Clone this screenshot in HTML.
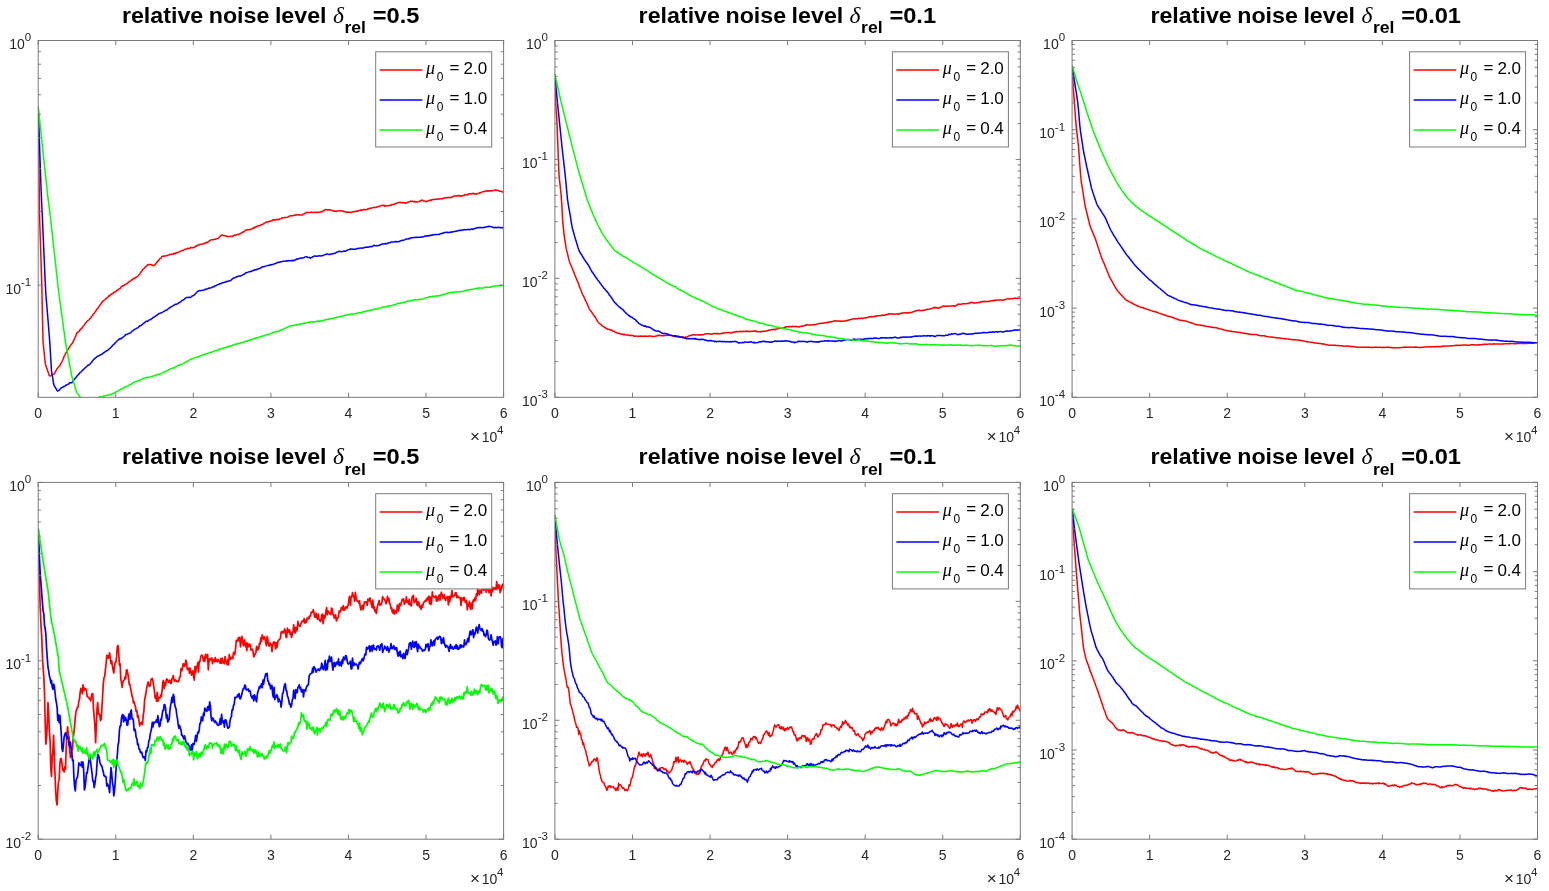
<!DOCTYPE html>
<html><head><meta charset="utf-8"><style>
html,body{margin:0;padding:0;background:#fff;overflow:hidden}
svg{display:block}
.tl{font-family:"Liberation Sans",sans-serif;font-size:14px;fill:#262626}
.tt{font-family:"Liberation Sans",sans-serif;font-size:21.5px;font-weight:bold;fill:#000;word-spacing:-0.9px}
.dl{font-family:"Liberation Serif",serif;font-style:italic;font-weight:normal}
.tt2{fill:#000}
.lg{font-family:"Liberation Sans",sans-serif;font-size:17px;fill:#000}
.mu{font-family:"Liberation Serif",serif;font-style:italic;font-size:18px;fill:#000}
</style></head><body>
<svg width="1549" height="891" viewBox="0 0 1549 891">
<rect width="1549" height="891" fill="#fff"/>
<clipPath id="c0"><rect x="38.2" y="40.5" width="465.4" height="356.8"/></clipPath>
<g clip-path="url(#c0)" fill="none" stroke-width="1.5" stroke-linejoin="round">
<polyline points="38.2,106.7 38.9,162.35 39.6,218 40.3,239 41,260 41.7,281 42.4,314.7 43.1,342.35 43.8,349.09 44.5,356.01 45.2,363.13 45.9,365.88 46.6,367.8 47.3,369.7 48,371.67 48.7,373.68 49.4,375.78 50.1,375.95 50.8,375.65 51.5,375.31 52.2,374.79 52.9,374.55 53.6,374.11 54.3,374.03 55,372.64 55.7,371.15 56.4,369.83 57.1,368.64 57.8,367.96 58.5,366.84 59.2,366.17 59.9,365.66 60.6,363.91 61.3,362.81 62,361.59 62.7,359.99 63.4,358.26 64.1,356.43 64.8,355.19 65.5,353.82 66.2,352.36 66.9,351.81 67.6,350.2 68.3,348.84 69,347.77 69.7,346.74 70.4,345.87 71.1,344.31 71.8,343.78 72.5,343.09 73.2,341.43 73.9,339.94 74.6,338.48 75.3,336.83 76,335.33 76.7,333.03 77.4,332.64 78.1,331.97 78.8,331.47 79.5,330.86 80.2,329.36 80.9,329.45 81.6,328.21 82.3,327.82 83,326.38 83.7,325.74 84.4,324.96 85.1,323.69 85.8,322.77 86.5,322.02 87.2,321.22 87.9,320.5 88.6,320.18 89.3,319.41 90,318.46 90.7,318.25 91.4,316.5 92.1,316.01 92.8,314.84 93.5,313.99 94.2,313.19 94.9,312.19 95.6,311.38 96.3,310.03 97,309.14 97.7,308.7 98.4,307.41 99.1,306.3 99.8,305.1 100.5,304.58 101.2,303.37 101.9,302.64 102.6,301.41 103.3,300.98 104,300.1 104.7,299.86 105.4,299.4 106.1,298.24 106.8,298.19 107.5,297.52 108.2,296.73 108.9,295.8 109.6,295.96 110.3,295.09 111,294.39 111.7,294.04 112.4,293.56 113.1,293.3 113.8,292.29 114.5,292.27 115.2,291.9 115.9,291.44 116.6,290.65 117.3,290.08 118,290 118.7,289.28 119.4,288.73 120.1,288.44 120.8,287.53 121.5,286.55 122.2,286.39 122.9,285.61 123.6,285.7 124.3,285.17 125,284.57 125.7,284.29 126.4,284.02 127.1,283.29 127.8,282.98 128.5,282.12 129.2,281.78 129.9,281.3 130.6,280.87 131.3,280.02 132,279.98 132.7,279.03 133.4,278.83 134.1,278.27 134.8,278.47 135.5,277.53 136.2,277.34 136.9,276.85 137.6,276.43 138.3,275.72 139,274.89 139.7,274.22 140.4,272.85 141.1,271.95 141.8,271.05 142.5,269.93 143.2,269.03 143.9,268.51 144.6,268.17 145.3,266.92 146,266.47 146.7,265.89 147.4,264.83 148.1,264.55 148.8,264.74 149.5,264.63 150.2,264.37 150.9,264.48 151.6,264.87 152.3,265.39 153,265.28 153.7,265.4 154.4,265.43 155.1,264.39 155.8,263.81 156.5,262.71 157.2,262.15 157.9,260.7 158.6,260.47 159.3,259.55 160,258.56 160.7,258.4 161.4,257.47 162.1,256.34 162.8,256.29 163.5,256.36 164.2,256.02 164.9,256.1 165.6,255.92 166.3,255.72 167,255.45 167.7,255.47 168.4,255.13 169.1,254.89 169.8,254.17 170.5,254.62 171.2,254.56 171.9,254.07 172.6,253.89 173.3,254.25 174,253.32 174.7,253.57 175.4,253.72 176.1,252.77 176.8,252.85 177.5,252.85 178.2,252.18 178.9,252.04 179.6,251.83 180.3,251.16 181,251.05 181.7,250.85 182.4,250.68 183.1,250.24 183.8,249.94 184.5,249.48 185.2,249.32 185.9,249.29 186.6,248.89 187.3,248.49 188,248.29 188.7,248.82 189.4,248.3 190.1,247.99 190.8,247.21 191.5,247.81 192.2,247.7 192.9,247.87 193.6,247.53 194.3,247.3 195,246.99 195.7,246.03 196.4,246.22 197.1,245.64 197.8,244.99 198.5,245.1 199.2,245.06 199.9,244.24 200.6,244.25 201.3,244.31 202,244.14 202.7,243.82 203.4,243.47 204.1,243.89 204.8,243.44 205.5,242.74 206.2,242.48 206.9,242.7 207.6,242.12 208.3,241.87 209,241.24 209.7,240.46 210.4,240.37 211.1,239.74 211.8,239.86 212.5,239.83 213.2,239.78 213.9,239.34 214.6,239.27 215.3,239.19 216,238.98 216.7,238.83 217.4,238.54 218.1,238.22 218.8,237.88 219.5,237.09 220.2,236.28 220.9,235.68 221.6,235.18 222.3,234.96 223,235.23 223.7,235.41 224.4,235.66 225.1,235.81 225.8,235.78 226.5,236.29 227.2,236.49 227.9,236.43 228.6,236.37 229.3,236.58 230,236.36 230.7,236.17 231.4,236.57 232.1,236.34 232.8,236.47 233.5,235.71 234.2,235.01 234.9,235.16 235.6,235.53 236.3,234.93 237,234.54 237.7,234.48 238.4,234.51 239.1,234.15 239.8,233.72 240.5,233.63 241.2,233.11 241.9,232.59 242.6,232.31 243.3,232.09 244,231.51 244.7,231.08 245.4,230.2 246.1,229.95 246.8,229.99 247.5,229.68 248.2,229.88 248.9,229.69 249.6,229.66 250.3,229.3 251,229.56 251.7,228.96 252.4,228.33 253.1,228.07 253.8,228.27 254.5,227.35 255.2,227.32 255.9,227.06 256.6,226.57 257.3,226.04 258,226.04 258.7,225.81 259.4,225.71 260.1,225.38 260.8,224.95 261.5,224.87 262.2,224.54 262.9,224.06 263.6,223.62 264.3,223.14 265,222.97 265.7,222.34 266.4,222.19 267.1,222.14 267.8,221.65 268.5,221.68 269.2,221.16 269.9,221.26 270.6,221.27 271.3,220.98 272,220.55 272.7,220.22 273.4,219.68 274.1,220.06 274.8,219.76 275.5,219.91 276.2,219.51 276.9,219.68 277.6,219.35 278.3,219.88 279,219.63 279.7,218.76 280.4,218.87 281.1,218.74 281.8,217.97 282.5,217.75 283.2,217.77 283.9,217.73 284.6,217.43 285.3,217.59 286,217.5 286.7,217.38 287.4,217.17 288.1,217.11 288.8,216.81 289.5,216.06 290.2,216 290.9,215.76 291.6,215.64 292.3,215.72 293,215.62 293.7,215.59 294.4,215.04 295.1,215 295.8,215.15 296.5,215 297.2,214.87 297.9,214.85 298.6,214.7 299.3,215.05 300,215.03 300.7,214.99 301.4,214.92 302.1,215.08 302.8,214.18 303.5,214.11 304.2,213.89 304.9,213.14 305.6,213.06 306.3,212.67 307,212.28 307.7,212.45 308.4,212.38 309.1,212.47 309.8,212.44 310.5,212.28 311.2,212.15 311.9,212.34 312.6,212.4 313.3,212.61 314,212.56 314.7,212.35 315.4,212.21 316.1,212.41 316.8,212.33 317.5,212.24 318.2,212.45 318.9,212.17 319.6,212.09 320.3,211.98 321,211.58 321.7,211.95 322.4,211.15 323.1,211.1 323.8,210.54 324.5,210.5 325.2,209.56 325.9,209.69 326.6,209.79 327.3,209.84 328,210.17 328.7,209.72 329.4,209.89 330.1,209.75 330.8,210.04 331.5,210.24 332.2,210.4 332.9,210.84 333.6,210.81 334.3,211.53 335,210.99 335.7,211.18 336.4,211.5 337.1,210.93 337.8,210.9 338.5,211.09 339.2,210.85 339.9,210.66 340.6,210.88 341.3,210.94 342,210.95 342.7,210.8 343.4,211.56 344.1,211.76 344.8,211.64 345.5,211.92 346.2,212 346.9,212.43 347.6,212.02 348.3,212.35 349,212.15 349.7,212.14 350.4,212.45 351.1,212.51 351.8,212.17 352.5,211.92 353.2,211.99 353.9,211.57 354.6,211.47 355.3,211.58 356,211.36 356.7,210.87 357.4,211.32 358.1,210.7 358.8,210.73 359.5,210.3 360.2,210.29 360.9,209.8 361.6,210.41 362.3,210.21 363,209.63 363.7,209.53 364.4,209.46 365.1,210.01 365.8,209.63 366.5,209.58 367.2,209.29 367.9,209.09 368.6,208.65 369.3,208.64 370,208.09 370.7,208.19 371.4,208.12 372.1,207.99 372.8,207.68 373.5,207.38 374.2,207.47 374.9,207.23 375.6,207.56 376.3,207.29 377,207 377.7,206.82 378.4,206.61 379.1,206.25 379.8,206.07 380.5,205.9 381.2,205.64 381.9,205.34 382.6,205.63 383.3,205.2 384,205.51 384.7,206.26 385.4,205.45 386.1,205.89 386.8,205.94 387.5,205.8 388.2,205.72 388.9,205.45 389.6,205.44 390.3,205.23 391,205.24 391.7,204.53 392.4,204.59 393.1,204.63 393.8,204.27 394.5,204.04 395.2,204.05 395.9,203.43 396.6,203.36 397.3,203.04 398,202.61 398.7,202.57 399.4,202.46 400.1,202.2 400.8,202.51 401.5,202.67 402.2,202.52 402.9,202.68 403.6,202.92 404.3,202.65 405,203.04 405.7,203.36 406.4,202.81 407.1,202.64 407.8,202.26 408.5,202.29 409.2,201.71 409.9,201.51 410.6,201.09 411.3,201.32 412,201.4 412.7,201.11 413.4,201.87 414.1,201.84 414.8,201.34 415.5,201.9 416.2,201.76 416.9,201.93 417.6,201.95 418.3,201.56 419,201.54 419.7,201.61 420.4,200.88 421.1,200.5 421.8,200.13 422.5,200.09 423.2,200.62 423.9,201.11 424.6,201.05 425.3,201.22 426,201.84 426.7,201.2 427.4,201 428.1,201.06 428.8,200.87 429.5,200.33 430.2,200.1 430.9,200.23 431.6,200.05 432.3,199.56 433,199.62 433.7,199.38 434.4,199.45 435.1,199.27 435.8,199.22 436.5,199.1 437.2,199.34 437.9,199.35 438.6,198.92 439.3,199.1 440,198.69 440.7,198.79 441.4,198.86 442.1,198.95 442.8,198.41 443.5,198.32 444.2,198.22 444.9,197.71 445.6,197.87 446.3,197.6 447,197.81 447.7,197.49 448.4,197.3 449.1,197.72 449.8,197.76 450.5,197.47 451.2,197.49 451.9,196.98 452.6,196.63 453.3,196.58 454,195.88 454.7,195.93 455.4,195.99 456.1,196.09 456.8,195.79 457.5,195.81 458.2,195.52 458.9,195.75 459.6,196.07 460.3,195.61 461,196.28 461.7,195.68 462.4,195.78 463.1,195.61 463.8,195.59 464.5,194.91 465.2,194.53 465.9,194.89 466.6,194.73 467.3,194.51 468,194.73 468.7,194.03 469.4,193.85 470.1,193.8 470.8,193.71 471.5,194.05 472.2,193.51 472.9,193.75 473.6,193.17 474.3,194.12 475,193.81 475.7,194.02 476.4,194.23 477.1,193.71 477.8,193.6 478.5,193.4 479.2,193.04 479.9,192.79 480.6,192.77 481.3,192.36 482,192.08 482.7,191.8 483.4,191.84 484.1,191.55 484.8,191.22 485.5,191.19 486.2,190.82 486.9,190.62 487.6,191.18 488.3,190.98 489,190.69 489.7,191.13 490.4,190.95 491.1,190.43 491.8,190.99 492.5,190.61 493.2,190.62 493.9,190.36 494.6,190.17 495.3,189.79 496,190.41 496.7,190.31 497.4,190.34 498.1,190.56 498.8,190.75 499.5,191.15 500.2,191.19 500.9,191.53 501.6,191.36 502.3,191.94 503,192.04 503.6,192.08" stroke="#ff0000"/>
<polyline points="38.2,106.7 38.9,126.86 39.6,147.03 40.3,167.19 41,187.36 41.7,204 42.4,218 43.1,233.75 43.8,249.63 44.5,265.71 45.2,281.37 45.9,294.77 46.6,302.89 47.3,311.68 48,319.85 48.7,328.6 49.4,337.34 50.1,347.39 50.8,359.78 51.5,370.89 52.2,375.01 52.9,379.14 53.6,383.86 54.3,385.96 55,386.79 55.7,388.36 56.4,389.05 57.1,390.68 57.8,391.07 58.5,390.68 59.2,390.24 59.9,389.4 60.6,388.51 61.3,387.82 62,387.7 62.7,387.22 63.4,386.61 64.1,386.56 64.8,386.15 65.5,385.84 66.2,384.99 66.9,384.75 67.6,384.55 68.3,384.11 69,383.72 69.7,382.73 70.4,382.84 71.1,382.72 71.8,382.89 72.5,381.47 73.2,380.76 73.9,380.01 74.6,379.29 75.3,378.15 76,377.52 76.7,376.28 77.4,375.69 78.1,374.79 78.8,374.17 79.5,373.29 80.2,372.4 80.9,372.14 81.6,371.28 82.3,370.4 83,369.87 83.7,369.34 84.4,368.34 85.1,367.82 85.8,367.27 86.5,366.71 87.2,366.05 87.9,365.24 88.6,365.31 89.3,364.65 90,364.09 90.7,363.28 91.4,362.53 92.1,361.56 92.8,360.61 93.5,359.82 94.2,358.99 94.9,358.39 95.6,357.7 96.3,357.41 97,356.47 97.7,356.35 98.4,355.67 99.1,355.58 99.8,355.42 100.5,354.88 101.2,354.38 101.9,354.19 102.6,353.75 103.3,352.88 104,352.54 104.7,352.13 105.4,351.48 106.1,351.03 106.8,350.82 107.5,350.49 108.2,349.93 108.9,349.28 109.6,348.55 110.3,347.99 111,347.25 111.7,346.54 112.4,345.86 113.1,344.89 113.8,344.43 114.5,343.75 115.2,342.81 115.9,342.21 116.6,341.53 117.3,340.64 118,340.41 118.7,339.19 119.4,339.25 120.1,338.61 120.8,338.74 121.5,338.67 122.2,337.4 122.9,337.27 123.6,336.75 124.3,336.02 125,335.58 125.7,334.5 126.4,334.55 127.1,334.22 127.8,333.91 128.5,333.56 129.2,333.53 129.9,333.09 130.6,332.76 131.3,332.03 132,331.12 132.7,330.9 133.4,330.33 134.1,329.82 134.8,329.14 135.5,328.93 136.2,328.66 136.9,328.13 137.6,327.87 138.3,327.55 139,326.53 139.7,325.85 140.4,325.84 141.1,325.45 141.8,324.84 142.5,324.32 143.2,323.56 143.9,323.05 144.6,322.82 145.3,322.01 146,321.35 146.7,321.11 147.4,321.4 148.1,320.98 148.8,320.2 149.5,319.87 150.2,319.72 150.9,319.06 151.6,318.94 152.3,318.22 153,317.56 153.7,317.49 154.4,316.69 155.1,316.37 155.8,315.87 156.5,315.35 157.2,315.01 157.9,314.37 158.6,313.77 159.3,313.36 160,313.18 160.7,312.92 161.4,312.7 162.1,312.37 162.8,312.11 163.5,311.7 164.2,311.2 164.9,310.87 165.6,310.29 166.3,310.26 167,309.83 167.7,309.29 168.4,308.63 169.1,308.08 169.8,307.72 170.5,307.08 171.2,306.82 171.9,306.4 172.6,305.94 173.3,305.75 174,305.06 174.7,304.77 175.4,304.37 176.1,304.06 176.8,304.15 177.5,303.87 178.2,303.25 178.9,302.88 179.6,302.53 180.3,302 181,301.61 181.7,300.71 182.4,300.35 183.1,300.03 183.8,299.69 184.5,298.95 185.2,298.27 185.9,297.85 186.6,297.53 187.3,297.41 188,297.73 188.7,297.27 189.4,297.3 190.1,297.58 190.8,297.05 191.5,296.49 192.2,295.92 192.9,295.69 193.6,295.49 194.3,294.87 195,294.26 195.7,293.34 196.4,292.7 197.1,291.86 197.8,291.33 198.5,291.11 199.2,290.54 199.9,290.69 200.6,290.64 201.3,290.41 202,290.36 202.7,290.37 203.4,290.38 204.1,289.92 204.8,289.66 205.5,289.12 206.2,289.52 206.9,288.99 207.6,288.77 208.3,288.37 209,288.35 209.7,287.97 210.4,287.95 211.1,287.75 211.8,287.4 212.5,287.17 213.2,286.71 213.9,286.83 214.6,286.17 215.3,285.64 216,285.61 216.7,285.19 217.4,284.82 218.1,284.62 218.8,284.42 219.5,283.85 220.2,283.73 220.9,283.69 221.6,283.25 222.3,282.82 223,282.71 223.7,282.51 224.4,282.36 225.1,282.3 225.8,281.96 226.5,281.35 227.2,281.55 227.9,281.18 228.6,281.23 229.3,280.8 230,280.71 230.7,280.68 231.4,279.66 232.1,279.19 232.8,278.68 233.5,278.05 234.2,277.69 234.9,277.79 235.6,277.33 236.3,276.83 237,276.62 237.7,276.7 238.4,276.19 239.1,276.05 239.8,275.97 240.5,275.93 241.2,275.83 241.9,275.46 242.6,274.96 243.3,274.53 244,274.37 244.7,273.86 245.4,273.12 246.1,272.81 246.8,272.59 247.5,272.39 248.2,272.13 248.9,271.83 249.6,271.81 250.3,271.46 251,271.64 251.7,271.21 252.4,270.61 253.1,270.76 253.8,270.37 254.5,269.61 255.2,270.05 255.9,269.65 256.6,269.65 257.3,268.92 258,269.08 258.7,268.81 259.4,268.47 260.1,268.16 260.8,268.02 261.5,267.27 262.2,267.01 262.9,266.76 263.6,266.68 264.3,266.45 265,266.39 265.7,266.15 266.4,265.9 267.1,265.6 267.8,265.47 268.5,265.54 269.2,265.34 269.9,265.05 270.6,264.8 271.3,264.94 272,264.38 272.7,264.42 273.4,264.32 274.1,263.89 274.8,263.83 275.5,263.23 276.2,263.34 276.9,262.94 277.6,262.37 278.3,262.52 279,262.09 279.7,262.31 280.4,261.81 281.1,261.75 281.8,261.67 282.5,261.4 283.2,261.35 283.9,261.11 284.6,261.27 285.3,261.11 286,261.1 286.7,260.52 287.4,261.14 288.1,260.87 288.8,260.48 289.5,260.74 290.2,260.74 290.9,260.78 291.6,260.34 292.3,260.74 293,260.38 293.7,260.76 294.4,260.19 295.1,260.03 295.8,259.55 296.5,259.12 297.2,259.2 297.9,258.87 298.6,258.81 299.3,258.62 300,258.29 300.7,258.03 301.4,258.13 302.1,258.05 302.8,257.78 303.5,257.76 304.2,257.45 304.9,257.08 305.6,256.89 306.3,256.64 307,256.95 307.7,257.28 308.4,257.56 309.1,257.51 309.8,257.61 310.5,258.13 311.2,257.59 311.9,257.45 312.6,256.66 313.3,256.58 314,256.33 314.7,255.95 315.4,256.07 316.1,256.23 316.8,256.25 317.5,256.29 318.2,255.81 318.9,255.65 319.6,255.93 320.3,255.94 321,255.75 321.7,255.43 322.4,255.68 323.1,255.43 323.8,255.14 324.5,254.7 325.2,254.59 325.9,254.42 326.6,254.1 327.3,253.92 328,254.34 328.7,254.4 329.4,254.36 330.1,254.51 330.8,254.08 331.5,253.97 332.2,253.73 332.9,253.68 333.6,253.66 334.3,253.13 335,253.23 335.7,252.83 336.4,252.4 337.1,252.07 337.8,251.97 338.5,251.46 339.2,251.48 339.9,251.32 340.6,251.6 341.3,251.76 342,251.62 342.7,251.54 343.4,251.34 344.1,251.32 344.8,250.95 345.5,251.29 346.2,250.95 346.9,250.43 347.6,250.12 348.3,249.75 349,249.69 349.7,249.37 350.4,248.71 351.1,249.21 351.8,249.29 352.5,249.13 353.2,249.07 353.9,249.29 354.6,249.25 355.3,249.26 356,248.97 356.7,248.52 357.4,248.75 358.1,248.28 358.8,248.6 359.5,248.13 360.2,248.13 360.9,248 361.6,247.96 362.3,248.18 363,247.98 363.7,247.82 364.4,247.65 365.1,247.21 365.8,247.27 366.5,247.17 367.2,247.05 367.9,247.26 368.6,246.99 369.3,246.95 370,246.84 370.7,246.48 371.4,246.71 372.1,246.6 372.8,246.16 373.5,245.72 374.2,245.18 374.9,245.65 375.6,245.8 376.3,245.61 377,245.69 377.7,245.76 378.4,245.61 379.1,245.12 379.8,245.14 380.5,244.84 381.2,244.19 381.9,244.13 382.6,243.81 383.3,243.99 384,244.05 384.7,243.7 385.4,243.47 386.1,243.99 386.8,243.59 387.5,243.51 388.2,242.75 388.9,242.9 389.6,242.81 390.3,242.55 391,242.07 391.7,242.06 392.4,241.89 393.1,242 393.8,241.91 394.5,241.69 395.2,241.43 395.9,241.8 396.6,241.58 397.3,241.77 398,241.7 398.7,241.76 399.4,241.42 400.1,240.9 400.8,240.79 401.5,240.8 402.2,240.17 402.9,240.17 403.6,240.13 404.3,239.97 405,239.67 405.7,239.18 406.4,239 407.1,239.07 407.8,238.89 408.5,239.06 409.2,238.26 409.9,238.41 410.6,238.2 411.3,237.68 412,237.73 412.7,237.81 413.4,237.6 414.1,237.56 414.8,237.61 415.5,237.34 416.2,237.52 416.9,237.28 417.6,237.25 418.3,237.38 419,237.12 419.7,237.21 420.4,237.37 421.1,237.03 421.8,236.93 422.5,236.98 423.2,236.62 423.9,236.71 424.6,236.13 425.3,236.3 426,235.93 426.7,235.75 427.4,236.09 428.1,235.52 428.8,235.88 429.5,235.59 430.2,235.63 430.9,235.05 431.6,235.28 432.3,235.17 433,234.75 433.7,234.59 434.4,234.94 435.1,234.54 435.8,234.44 436.5,234.41 437.2,234.6 437.9,234.59 438.6,234.42 439.3,234.45 440,233.85 440.7,233.74 441.4,233.67 442.1,233 442.8,233.22 443.5,233.24 444.2,232.56 444.9,232.49 445.6,232.38 446.3,232.14 447,232.55 447.7,232.15 448.4,232.57 449.1,232.74 449.8,232.21 450.5,232.37 451.2,231.92 451.9,232.22 452.6,231.78 453.3,231.69 454,231.58 454.7,231.52 455.4,231.24 456.1,231.17 456.8,230.95 457.5,230.94 458.2,230.59 458.9,230.68 459.6,230.21 460.3,230.34 461,230.63 461.7,230.19 462.4,229.85 463.1,230.04 463.8,229.75 464.5,229.55 465.2,229.64 465.9,229.82 466.6,229.71 467.3,229.6 468,229.42 468.7,229.36 469.4,229.76 470.1,229.53 470.8,229.22 471.5,228.89 472.2,228.9 472.9,229.45 473.6,228.7 474.3,228.75 475,228.58 475.7,228.29 476.4,228.05 477.1,227.63 477.8,227.47 478.5,227.83 479.2,227.43 479.9,227.74 480.6,227.33 481.3,227.6 482,227.73 482.7,227.79 483.4,227.29 484.1,227.47 484.8,227.31 485.5,227 486.2,227.09 486.9,226.66 487.6,226.59 488.3,226.68 489,226.16 489.7,226.57 490.4,226.43 491.1,226.54 491.8,226.91 492.5,227.3 493.2,227.28 493.9,227.76 494.6,227.4 495.3,227.33 496,227.8 496.7,227.56 497.4,227.62 498.1,227.27 498.8,227.59 499.5,227.54 500.2,227.65 500.9,227.58 501.6,227.83 502.3,227.56 503,227.64 503.6,227.67" stroke="#0000ff"/>
<polyline points="38.2,106.7 38.9,113.28 39.6,119.86 40.3,126.44 41,133.02 41.7,139.6 42.4,146.18 43.1,152.76 43.8,159.11 44.5,165.55 45.2,172.3 45.9,178.89 46.6,185.18 47.3,192.16 48,198.14 48.7,203.67 49.4,208.9 50.1,214.53 50.8,220.46 51.5,227.02 52.2,233.15 52.9,239.62 53.6,245.9 54.3,252.48 55,258.88 55.7,265.01 56.4,271.47 57.1,277.92 57.8,284.38 58.5,290.48 59.2,295.59 59.9,300.71 60.6,305.94 61.3,311.18 62,316.47 62.7,321.62 63.4,326.94 64.1,331.95 64.8,336.95 65.5,342.37 66.2,346.25 66.9,349.93 67.6,353.6 68.3,357.25 69,361.1 69.7,365.07 70.4,368.64 71.1,372.33 71.8,376.23 72.5,378.51 73.2,380.83 73.9,383.12 74.6,385.52 75.3,387.63 76,390.16 76.7,392.31 77.4,393.46 78.1,394.38 78.8,395.3 79.5,396.28 80.2,397.08 80.9,397.94 81.6,398.59 82.3,398.89 83,398.85 83.7,398.85 84.4,398.91 85.1,398.97 85.8,399.01 86.5,399.35 87.2,399.11 87.9,399.13 88.6,398.96 89.3,398.98 90,399.03 90.7,399.09 91.4,398.97 92.1,399.25 92.8,399.02 93.5,399.2 94.2,398.85 94.9,398.97 95.6,398.7 96.3,398.36 97,398.08 97.7,397.71 98.4,397.43 99.1,397.08 99.8,397.07 100.5,396.77 101.2,396.96 101.9,396.8 102.6,396.56 103.3,396.28 104,396.09 104.7,396.12 105.4,395.89 106.1,395.49 106.8,395.48 107.5,395.05 108.2,394.88 108.9,394.9 109.6,394.73 110.3,394.61 111,394.37 111.7,394.35 112.4,393.64 113.1,393.4 113.8,393.06 114.5,392.6 115.2,392.36 115.9,392.11 116.6,391.45 117.3,391.26 118,390.87 118.7,390.58 119.4,390.02 120.1,389.64 120.8,389.22 121.5,389.15 122.2,388.76 122.9,388.36 123.6,387.72 124.3,387.55 125,387.12 125.7,386.67 126.4,386.36 127.1,386.21 127.8,385.88 128.5,385.5 129.2,385.24 129.9,384.8 130.6,384.48 131.3,384.03 132,383.63 132.7,383.12 133.4,382.66 134.1,382.21 134.8,381.82 135.5,381.81 136.2,381.36 136.9,381.19 137.6,381.23 138.3,380.96 139,380.31 139.7,380.21 140.4,379.88 141.1,379.65 141.8,379.26 142.5,378.9 143.2,378.46 143.9,378.25 144.6,378.13 145.3,377.91 146,377.51 146.7,377.46 147.4,377.37 148.1,377.34 148.8,377.29 149.5,377.14 150.2,376.96 150.9,376.96 151.6,376.74 152.3,376.3 153,376.16 153.7,375.84 154.4,375.61 155.1,375.37 155.8,375.02 156.5,374.94 157.2,374.76 157.9,374.34 158.6,374.41 159.3,374.18 160,373.91 160.7,373.69 161.4,373.32 162.1,372.96 162.8,372.66 163.5,372.33 164.2,372.12 164.9,371.8 165.6,371.57 166.3,370.97 167,371.03 167.7,370.62 168.4,369.98 169.1,369.65 169.8,369.23 170.5,368.88 171.2,368.61 171.9,368.4 172.6,368.11 173.3,368 174,367.76 174.7,367.45 175.4,366.94 176.1,366.64 176.8,366.25 177.5,365.92 178.2,365.35 178.9,365.26 179.6,365.07 180.3,364.78 181,364.43 181.7,364.16 182.4,363.91 183.1,363.65 183.8,363.37 184.5,362.83 185.2,362.41 185.9,362.16 186.6,361.74 187.3,361.21 188,360.81 188.7,360.46 189.4,360.12 190.1,359.5 190.8,359.22 191.5,359.09 192.2,358.62 192.9,358.47 193.6,358.2 194.3,357.88 195,357.58 195.7,357.47 196.4,357.23 197.1,357.1 197.8,356.82 198.5,356.83 199.2,356.24 199.9,356.11 200.6,355.83 201.3,355.64 202,355.18 202.7,355.04 203.4,354.68 204.1,354.57 204.8,354.43 205.5,353.96 206.2,353.8 206.9,353.45 207.6,353.45 208.3,353.27 209,352.94 209.7,352.61 210.4,352.55 211.1,352.37 211.8,352.1 212.5,351.8 213.2,351.26 213.9,351.11 214.6,351.08 215.3,350.57 216,350.57 216.7,350.41 217.4,350.06 218.1,349.85 218.8,349.49 219.5,349.2 220.2,349.11 220.9,348.9 221.6,348.71 222.3,348.58 223,348.26 223.7,348.06 224.4,347.86 225.1,347.58 225.8,347.54 226.5,347.19 227.2,346.98 227.9,346.78 228.6,346.57 229.3,346.61 230,346.31 230.7,345.92 231.4,345.67 232.1,345.41 232.8,345.08 233.5,344.93 234.2,344.39 234.9,344.42 235.6,344.24 236.3,343.95 237,343.93 237.7,343.77 238.4,343.69 239.1,343.38 239.8,343.25 240.5,342.84 241.2,342.69 241.9,342.68 242.6,342.5 243.3,342.18 244,341.91 244.7,341.88 245.4,341.34 246.1,341.27 246.8,341.2 247.5,340.96 248.2,340.55 248.9,340.23 249.6,340.34 250.3,339.97 251,339.61 251.7,339.47 252.4,339.31 253.1,338.69 253.8,338.83 254.5,338.57 255.2,338.07 255.9,338.17 256.6,337.7 257.3,337.8 258,337.52 258.7,337.5 259.4,336.98 260.1,336.83 260.8,336.73 261.5,336.33 262.2,336.11 262.9,335.91 263.6,335.71 264.3,335.38 265,335.31 265.7,335.09 266.4,334.82 267.1,334.82 267.8,334.44 268.5,334.44 269.2,334.07 269.9,334.03 270.6,333.51 271.3,333.45 272,333.12 272.7,332.79 273.4,332.49 274.1,332.23 274.8,332.01 275.5,331.7 276.2,331.71 276.9,331.56 277.6,331.41 278.3,331.17 279,330.95 279.7,330.73 280.4,330.31 281.1,329.97 281.8,329.85 282.5,329.49 283.2,329.18 283.9,328.89 284.6,328.43 285.3,328.14 286,327.96 286.7,327.46 287.4,327.17 288.1,326.89 288.8,326.55 289.5,326.15 290.2,325.95 290.9,325.65 291.6,325.57 292.3,325.55 293,325.47 293.7,325.44 294.4,325.17 295.1,325.01 295.8,324.94 296.5,324.92 297.2,324.88 297.9,324.45 298.6,324.46 299.3,324.18 300,324.04 300.7,323.93 301.4,323.87 302.1,323.66 302.8,323.63 303.5,323.28 304.2,323.34 304.9,323.22 305.6,323 306.3,322.91 307,322.62 307.7,322.39 308.4,322.28 309.1,322.08 309.8,322.27 310.5,321.82 311.2,322.05 311.9,321.9 312.6,321.92 313.3,321.97 314,321.82 314.7,321.89 315.4,321.68 316.1,321.32 316.8,321.39 317.5,321.23 318.2,321.06 318.9,321.18 319.6,320.97 320.3,321.07 321,321.09 321.7,320.92 322.4,321.06 323.1,320.54 323.8,320.3 324.5,320.25 325.2,319.83 325.9,319.68 326.6,319.34 327.3,319.39 328,319.13 328.7,319.15 329.4,318.82 330.1,318.87 330.8,318.7 331.5,318.65 332.2,318.55 332.9,318.49 333.6,318.25 334.3,318.01 335,318.07 335.7,317.74 336.4,317.57 337.1,317.44 337.8,316.97 338.5,316.9 339.2,316.76 339.9,316.55 340.6,316.54 341.3,316.33 342,316.1 342.7,315.91 343.4,315.91 344.1,315.57 344.8,315.51 345.5,315.32 346.2,314.88 346.9,314.8 347.6,314.76 348.3,314.64 349,314.54 349.7,314.39 350.4,314.29 351.1,314.1 351.8,314.08 352.5,314.14 353.2,313.97 353.9,314.09 354.6,313.7 355.3,313.77 356,313.52 356.7,313.17 357.4,313.31 358.1,313.08 358.8,312.93 359.5,312.71 360.2,312.67 360.9,312.77 361.6,312.42 362.3,312.01 363,312.05 363.7,311.78 364.4,311.65 365.1,311.38 365.8,311.09 366.5,310.91 367.2,310.99 367.9,310.6 368.6,310.84 369.3,310.45 370,310.27 370.7,310.3 371.4,310.1 372.1,309.74 372.8,309.75 373.5,309.29 374.2,309.19 374.9,309.32 375.6,309.09 376.3,308.89 377,309 377.7,308.95 378.4,308.71 379.1,308.24 379.8,308.11 380.5,307.9 381.2,307.65 381.9,307.48 382.6,307.09 383.3,306.99 384,306.95 384.7,307 385.4,306.69 386.1,306.85 386.8,306.28 387.5,306.51 388.2,306.2 388.9,306.18 389.6,306.05 390.3,305.7 391,305.66 391.7,305.54 392.4,305.41 393.1,305.1 393.8,304.93 394.5,304.62 395.2,304.8 395.9,304.23 396.6,303.94 397.3,303.53 398,303.5 398.7,303.2 399.4,303.33 400.1,303.19 400.8,303.03 401.5,303.05 402.2,302.82 402.9,302.67 403.6,302.42 404.3,302.12 405,302.03 405.7,301.79 406.4,301.75 407.1,301.11 407.8,301.25 408.5,301.08 409.2,300.98 409.9,300.93 410.6,300.78 411.3,300.57 412,300.35 412.7,300.28 413.4,300.1 414.1,299.7 414.8,299.83 415.5,299.69 416.2,299.68 416.9,299.8 417.6,299.77 418.3,299.73 419,299.51 419.7,299.47 420.4,299.27 421.1,299.29 421.8,299.21 422.5,299.15 423.2,298.85 423.9,298.39 424.6,298.18 425.3,297.88 426,297.76 426.7,297.76 427.4,297.48 428.1,297.03 428.8,296.98 429.5,296.83 430.2,296.87 430.9,296.69 431.6,296.61 432.3,296.64 433,296.25 433.7,296.13 434.4,296.33 435.1,296.16 435.8,296.03 436.5,295.9 437.2,295.94 437.9,295.84 438.6,295.98 439.3,295.77 440,295.66 440.7,295.33 441.4,295.06 442.1,294.84 442.8,294.91 443.5,294.31 444.2,294.3 444.9,294.07 445.6,293.92 446.3,293.6 447,293.5 447.7,293.33 448.4,293.03 449.1,292.8 449.8,292.63 450.5,292.4 451.2,292.39 451.9,292.29 452.6,292.26 453.3,292.29 454,292.2 454.7,291.95 455.4,292.04 456.1,291.99 456.8,292.02 457.5,291.92 458.2,291.93 458.9,291.78 459.6,291.67 460.3,291.77 461,291.74 461.7,291.6 462.4,291.46 463.1,291.24 463.8,290.95 464.5,290.61 465.2,290.66 465.9,290.4 466.6,290.16 467.3,289.99 468,290.1 468.7,289.65 469.4,289.9 470.1,289.65 470.8,289.73 471.5,289.31 472.2,289.28 472.9,289.13 473.6,289.11 474.3,288.96 475,288.73 475.7,288.75 476.4,288.38 477.1,288.24 477.8,288.18 478.5,287.98 479.2,288.01 479.9,288.12 480.6,288.07 481.3,288.01 482,288.16 482.7,288.03 483.4,288.05 484.1,287.58 484.8,287.61 485.5,287.25 486.2,287.11 486.9,287.13 487.6,287.21 488.3,287.29 489,287.4 489.7,287.16 490.4,287.32 491.1,287.06 491.8,286.83 492.5,286.45 493.2,286.4 493.9,286.08 494.6,286 495.3,285.87 496,285.9 496.7,285.88 497.4,285.82 498.1,285.61 498.8,285.72 499.5,285.75 500.2,285.49 500.9,285.73 501.6,285.42 502.3,285.59 503,285.46 503.6,285.43" stroke="#00ff00"/>
</g>
<path d="M38.2,397.3v-4.6M38.2,40.5v4.6M115.77,397.3v-4.6M115.77,40.5v4.6M193.33,397.3v-4.6M193.33,40.5v4.6M270.9,397.3v-4.6M270.9,40.5v4.6M348.47,397.3v-4.6M348.47,40.5v4.6M426.03,397.3v-4.6M426.03,40.5v4.6M503.6,397.3v-4.6M503.6,40.5v4.6M38.2,40.5h4.6M503.6,40.5h-4.6M38.2,285.15h4.6M503.6,285.15h-4.6M38.2,211.5h2.76M503.6,211.5h-2.76M38.2,168.42h2.76M503.6,168.42h-2.76M38.2,137.86h2.76M503.6,137.86h-2.76M38.2,114.15h2.76M503.6,114.15h-2.76M38.2,94.77h2.76M503.6,94.77h-2.76M38.2,78.4h2.76M503.6,78.4h-2.76M38.2,64.21h2.76M503.6,64.21h-2.76M38.2,51.69h2.76M503.6,51.69h-2.76" stroke="#7a7a7a" stroke-width="1" fill="none"/>
<rect x="38.2" y="40.5" width="465.4" height="356.8" fill="none" stroke="#7a7a7a" stroke-width="1"/>
<text x="31.2" y="49" text-anchor="end" class="tl">10<tspan dy="-7.6" font-size="11.5">0</tspan></text>
<text x="31.2" y="293.65" text-anchor="end" class="tl">10<tspan dy="-7.6" font-size="11.5">-1</tspan></text>
<text x="38.2" y="417.7" text-anchor="middle" class="tl">0</text>
<text x="115.77" y="417.7" text-anchor="middle" class="tl">1</text>
<text x="193.33" y="417.7" text-anchor="middle" class="tl">2</text>
<text x="270.9" y="417.7" text-anchor="middle" class="tl">3</text>
<text x="348.47" y="417.7" text-anchor="middle" class="tl">4</text>
<text x="426.03" y="417.7" text-anchor="middle" class="tl">5</text>
<text x="503.6" y="417.7" text-anchor="middle" class="tl">6</text>
<text x="470" y="441.9" class="tl" style="font-size:17px">×</text>
<text x="481.8" y="441.9" class="tl">10<tspan x="497" dy="-8.3" font-size="11.5">4</tspan></text>
<text transform="translate(121.9,22.5) scale(1.081,1)" class="tt">relative noise level</text>
<text x="332.9" y="22.5" class="dl tt2" style="font-size:23.5px">δ</text>
<text transform="translate(344.4,33.3) scale(1.1,1)" class="tt" style="font-size:16px">rel</text>
<text transform="translate(372.7,22.5) scale(1.1,1)" class="tt">=0.5</text>
<rect x="375.7" y="51.8" width="116" height="95.2" fill="#fff" stroke="#7a7a7a" stroke-width="1"/>
<path d="M379.7,70h42.7" stroke="#ff0000" stroke-width="1.5"/>
<text x="426.1" y="73.7" class="mu">μ</text>
<text x="436.7" y="80.7" class="lg" style="font-size:12px">0</text>
<text x="449.5" y="72.5" class="lg">=</text>
<text x="463.5" y="73.7" class="lg">2.0</text>
<path d="M379.7,100h42.7" stroke="#0000ff" stroke-width="1.5"/>
<text x="426.1" y="103.7" class="mu">μ</text>
<text x="436.7" y="110.7" class="lg" style="font-size:12px">0</text>
<text x="449.5" y="102.5" class="lg">=</text>
<text x="463.5" y="103.7" class="lg">1.0</text>
<path d="M379.7,130h42.7" stroke="#00ff00" stroke-width="1.5"/>
<text x="426.1" y="133.7" class="mu">μ</text>
<text x="436.7" y="140.7" class="lg" style="font-size:12px">0</text>
<text x="449.5" y="132.5" class="lg">=</text>
<text x="463.5" y="133.7" class="lg">0.4</text>
<clipPath id="c1"><rect x="554.9" y="40.5" width="465.4" height="356.8"/></clipPath>
<g clip-path="url(#c1)" fill="none" stroke-width="1.5" stroke-linejoin="round">
<polyline points="554.9,74 555.6,101.74 556.3,112.36 557,122.98 557.7,141.7 558.4,160.18 559.1,175.96 559.8,182.69 560.5,189.17 561.2,195.87 561.9,206.03 562.6,219.84 563.3,227.15 564,234.11 564.7,239.1 565.4,243.4 566.1,248.14 566.8,250.89 567.5,253.62 568.2,256.75 568.9,259.66 569.6,261.88 570.3,263.98 571,265.49 571.7,266.97 572.4,268.61 573.1,270.47 573.8,272.12 574.5,273.92 575.2,275.72 575.9,277.65 576.6,279.14 577.3,280.9 578,282.45 578.7,284.42 579.4,286.4 580.1,288.28 580.8,289.61 581.5,291.76 582.2,293.55 582.9,295.09 583.6,296.16 584.3,297.83 585,299.45 585.7,300.88 586.4,302.14 587.1,303.63 587.8,305.54 588.5,306.75 589.2,308.81 589.9,309.83 590.6,310.88 591.3,311.6 592,312.7 592.7,313.9 593.4,314.51 594.1,316.08 594.8,316.48 595.5,317.63 596.2,318.99 596.9,320.21 597.6,321.4 598.3,322.36 599,323.21 599.7,323.75 600.4,324.24 601.1,324.44 601.8,325.58 602.5,326.01 603.2,326.49 603.9,326.79 604.6,327.37 605.3,327.76 606,328.18 606.7,328.81 607.4,328.78 608.1,329.3 608.8,329.22 609.5,329.49 610.2,329.94 610.9,329.65 611.6,330.22 612.3,330.53 613,331.19 613.7,331.27 614.4,331.55 615.1,332.28 615.8,332.37 616.5,332.61 617.2,333.09 617.9,333 618.6,333.25 619.3,333.47 620,333.66 620.7,333.66 621.4,334.07 622.1,334.42 622.8,334.12 623.5,334.65 624.2,334.13 624.9,334.87 625.6,334.72 626.3,334.94 627,334.99 627.7,335 628.4,334.95 629.1,335.16 629.8,335.5 630.5,335.53 631.2,335.36 631.9,335.46 632.6,335.57 633.3,335.62 634,336.25 634.7,336.2 635.4,336.16 636.1,336.09 636.8,336.03 637.5,336.45 638.2,336.39 638.9,336.12 639.6,336.44 640.3,336.07 641,336.35 641.7,336.07 642.4,336.14 643.1,336.28 643.8,336.26 644.5,336.34 645.2,336.02 645.9,336.41 646.6,336.36 647.3,336.14 648,336.25 648.7,336.07 649.4,336.14 650.1,335.9 650.8,336.09 651.5,336.16 652.2,336.41 652.9,336.4 653.6,336.43 654.3,336.29 655,336.34 655.7,336.14 656.4,336.06 657.1,335.52 657.8,335.8 658.5,335.23 659.2,335.33 659.9,335.45 660.6,335.4 661.3,335.81 662,335.55 662.7,335.87 663.4,335.76 664.1,335.39 664.8,335.46 665.5,335.53 666.2,335.18 666.9,335.2 667.6,335.11 668.3,335.23 669,335.18 669.7,335.28 670.4,335.45 671.1,335.59 671.8,335.61 672.5,335.85 673.2,336.19 673.9,336.22 674.6,336.32 675.3,336.79 676,336.47 676.7,336.81 677.4,336.51 678.1,337 678.8,336.54 679.5,336.92 680.2,337.11 680.9,336.77 681.6,337.25 682.3,336.94 683,336.87 683.7,337.42 684.4,337.56 685.1,337.36 685.8,336.86 686.5,337.16 687.2,336.9 687.9,336.52 688.6,336.17 689.3,335.55 690,335.39 690.7,335.42 691.4,335.23 692.1,334.84 692.8,334.72 693.5,334.84 694.2,335 694.9,335 695.6,334.67 696.3,334.87 697,334.85 697.7,335.05 698.4,334.99 699.1,334.86 699.8,334.98 700.5,334.7 701.2,335.02 701.9,334.69 702.6,334.82 703.3,334.8 704,334.29 704.7,334.13 705.4,333.75 706.1,333.88 706.8,333.64 707.5,333.65 708.2,333.89 708.9,333.54 709.6,333.99 710.3,334.1 711,334.11 711.7,334.2 712.4,334.25 713.1,333.77 713.8,333.58 714.5,333.53 715.2,333.59 715.9,333.69 716.6,333.47 717.3,333.8 718,333.48 718.7,333.81 719.4,333.69 720.1,333.6 720.8,333.8 721.5,333.31 722.2,333.24 722.9,333.26 723.6,333.2 724.3,332.72 725,332.87 725.7,332.58 726.4,332.7 727.1,332.75 727.8,332.59 728.5,332.62 729.2,332.72 729.9,332.28 730.6,333.02 731.3,332.93 732,332.68 732.7,332.4 733.4,332.16 734.1,332.07 734.8,332.12 735.5,331.84 736.2,332.03 736.9,331.33 737.6,331.64 738.3,331.71 739,331.62 739.7,331.34 740.4,331.5 741.1,331.81 741.8,331.38 742.5,331.42 743.2,331.37 743.9,331.41 744.6,331.55 745.3,331.48 746,330.97 746.7,331.5 747.4,331.18 748.1,331.24 748.8,331.68 749.5,331.44 750.2,331.31 750.9,331.51 751.6,331.38 752.3,331.21 753,331.2 753.7,331.28 754.4,331.07 755.1,330.75 755.8,331.61 756.5,331.14 757.2,331.5 757.9,331.65 758.6,331.9 759.3,331.68 760,331.73 760.7,331.93 761.4,331.52 762.1,331.24 762.8,331.4 763.5,331.14 764.2,331.13 764.9,331.16 765.6,331.11 766.3,330.93 767,331.02 767.7,330.63 768.4,330.22 769.1,330.36 769.8,329.93 770.5,329.97 771.2,329.54 771.9,329.76 772.6,329.74 773.3,329.25 774,329.47 774.7,329.55 775.4,329.78 776.1,328.95 776.8,329.14 777.5,328.93 778.2,328.59 778.9,328.37 779.6,328.14 780.3,328.18 781,328.18 781.7,328.17 782.4,328.17 783.1,327.93 783.8,327.63 784.5,327.43 785.2,327.38 785.9,326.81 786.6,326.66 787.3,326.71 788,326.69 788.7,326.75 789.4,326.35 790.1,326.75 790.8,326.77 791.5,326.87 792.2,326.32 792.9,326.52 793.6,326.56 794.3,326.48 795,326.54 795.7,326.62 796.4,326.36 797.1,326.74 797.8,326.67 798.5,326.68 799.2,327.07 799.9,326.55 800.6,326.35 801.3,326.27 802,326.04 802.7,326.2 803.4,325.9 804.1,325.86 804.8,325.49 805.5,325.11 806.2,325.18 806.9,324.69 807.6,324.76 808.3,324.86 809,324.94 809.7,325.18 810.4,324.92 811.1,325.08 811.8,324.94 812.5,324.64 813.2,324.58 813.9,324.64 814.6,324.65 815.3,324.51 816,324.39 816.7,324.17 817.4,323.93 818.1,323.93 818.8,323.54 819.5,323.4 820.2,323.5 820.9,323.24 821.6,323.32 822.3,323.21 823,323.16 823.7,323.13 824.4,322.88 825.1,322.83 825.8,322.49 826.5,322.69 827.2,322.4 827.9,322.5 828.6,321.85 829.3,322.08 830,322.14 830.7,321.58 831.4,321.76 832.1,321.65 832.8,321.47 833.5,321.01 834.2,321.11 834.9,320.91 835.6,320.76 836.3,321.08 837,320.99 837.7,321.03 838.4,320.99 839.1,321.19 839.8,321.12 840.5,321.31 841.2,321.21 841.9,321.04 842.6,321.12 843.3,321.27 844,320.97 844.7,321.02 845.4,320.96 846.1,320.76 846.8,320.31 847.5,320.52 848.2,320.31 848.9,320.08 849.6,319.7 850.3,319.81 851,319.37 851.7,319.15 852.4,319.01 853.1,319.06 853.8,318.68 854.5,318.57 855.2,318.98 855.9,318.81 856.6,318.71 857.3,318.71 858,318.52 858.7,318.08 859.4,318.55 860.1,318.55 860.8,318.41 861.5,317.98 862.2,318.52 862.9,318.53 863.6,318.08 864.3,318.04 865,318.02 865.7,317.73 866.4,317.8 867.1,317.48 867.8,317.41 868.5,317.15 869.2,316.71 869.9,316.63 870.6,317.17 871.3,316.59 872,316.75 872.7,316.69 873.4,316.77 874.1,316.55 874.8,316.33 875.5,316.31 876.2,315.85 876.9,316 877.6,316.05 878.3,315.39 879,315.66 879.7,315.73 880.4,315.78 881.1,315.36 881.8,315.36 882.5,315.11 883.2,315.17 883.9,315.26 884.6,315.36 885.3,314.65 886,314.91 886.7,314.58 887.4,314.26 888.1,314.58 888.8,313.64 889.5,313.92 890.2,313.83 890.9,314.01 891.6,314.02 892.3,314.16 893,313.86 893.7,314.06 894.4,314.19 895.1,314.08 895.8,314.05 896.5,313.96 897.2,313.92 897.9,313.78 898.6,314.31 899.3,313.79 900,313.31 900.7,313.51 901.4,313.26 902.1,313.09 902.8,313.17 903.5,312.83 904.2,312.83 904.9,312.76 905.6,312.91 906.3,312.77 907,312.82 907.7,313.25 908.4,312.72 909.1,312.44 909.8,312.85 910.5,312.6 911.2,312.46 911.9,312.2 912.6,311.98 913.3,311.72 914,311.61 914.7,311.3 915.4,311.18 916.1,310.7 916.8,310.63 917.5,310.34 918.2,310.47 918.9,310.28 919.6,310.13 920.3,310.37 921,310.78 921.7,310.61 922.4,310.28 923.1,310.43 923.8,310.32 924.5,310.01 925.2,309.89 925.9,309.84 926.6,309.51 927.3,309.15 928,309.38 928.7,309.16 929.4,309.12 930.1,308.92 930.8,308.71 931.5,308.51 932.2,308.42 932.9,308.05 933.6,307.53 934.3,307.94 935,307.35 935.7,307.53 936.4,307.85 937.1,307.45 937.8,308.2 938.5,307.94 939.2,308.1 939.9,307.56 940.6,307.34 941.3,306.97 942,306.6 942.7,305.94 943.4,305.9 944.1,306.14 944.8,306.38 945.5,306.04 946.2,306.22 946.9,306.15 947.6,306.21 948.3,306.3 949,305.88 949.7,306.18 950.4,306.11 951.1,306.08 951.8,305.94 952.5,305.9 953.2,305.81 953.9,305.75 954.6,306.32 955.3,306.01 956,305.45 956.7,305.31 957.4,304.75 958.1,304.18 958.8,304.07 959.5,304.31 960.2,304.46 960.9,304.13 961.6,303.9 962.3,303.96 963,303.77 963.7,303.68 964.4,303.86 965.1,303.81 965.8,303.72 966.5,303.68 967.2,303.56 967.9,303.51 968.6,303.45 969.3,302.93 970,303.1 970.7,302.19 971.4,302.52 972.1,302.38 972.8,302.66 973.5,302.82 974.2,303 974.9,303.21 975.6,302.83 976.3,302.62 977,302.7 977.7,302.69 978.4,302.43 979.1,302.59 979.8,302.56 980.5,301.86 981.2,302 981.9,301.95 982.6,301.28 983.3,301.57 984,301.48 984.7,301.27 985.4,301.72 986.1,301.52 986.8,301.39 987.5,301.49 988.2,301.45 988.9,301.41 989.6,301.3 990.3,301.21 991,300.86 991.7,300.86 992.4,300.83 993.1,300.22 993.8,300.93 994.5,300.38 995.2,300.16 995.9,299.96 996.6,300.24 997.3,300.13 998,299.97 998.7,299.96 999.4,299.88 1000.1,299.92 1000.8,300.05 1001.5,299.97 1002.2,300.22 1002.9,300.09 1003.6,299.93 1004.3,299.77 1005,299.7 1005.7,299.38 1006.4,299.1 1007.1,298.88 1007.8,298.76 1008.5,298.83 1009.2,299 1009.9,298.91 1010.6,298.8 1011.3,298.57 1012,298.42 1012.7,298.63 1013.4,298.64 1014.1,298.41 1014.8,298.01 1015.5,298.24 1016.2,298.37 1016.9,298.24 1017.6,298.52 1018.3,298.48 1019,298.4 1019.7,298.16 1020.3,298.37" stroke="#ff0000"/>
<polyline points="554.9,74 555.6,81.86 556.3,89.72 557,97.58 557.7,104.65 558.4,111.6 559.1,118.55 559.8,125.49 560.5,132.14 561.2,139.02 561.9,145.82 562.6,152.52 563.3,158.4 564,164.63 564.7,170.72 565.4,177.25 566.1,184.18 566.8,191.82 567.5,199.46 568.2,203.84 568.9,208.31 569.6,211.96 570.3,215.99 571,220.54 571.7,224.55 572.4,228.47 573.1,230.76 573.8,233.16 574.5,235.84 575.2,238.2 575.9,240.52 576.6,242.76 577.3,245.08 578,247.51 578.7,249.56 579.4,251.51 580.1,252.47 580.8,253.81 581.5,254.3 582.2,255.84 582.9,257 583.6,257.98 584.3,259.53 585,260.33 585.7,261.44 586.4,262.32 587.1,263.27 587.8,264.29 588.5,265.29 589.2,266.6 589.9,267.86 590.6,269.3 591.3,270.36 592,272.01 592.7,272.29 593.4,273.82 594.1,274.6 594.8,275.7 595.5,277.04 596.2,277.86 596.9,278.62 597.6,279.87 598.3,280.74 599,281.39 599.7,282.68 600.4,283.37 601.1,284.33 601.8,285.45 602.5,286.32 603.2,287.1 603.9,288.37 604.6,288.93 605.3,289.6 606,290.59 606.7,291.38 607.4,291.93 608.1,292.95 608.8,293.89 609.5,295.39 610.2,295.93 610.9,296.82 611.6,297.78 612.3,299.05 613,299.89 613.7,301.18 614.4,302.03 615.1,302.99 615.8,303.45 616.5,304.3 617.2,304.93 617.9,305.74 618.6,306.24 619.3,307.02 620,307.42 620.7,307.92 621.4,308.69 622.1,308.99 622.8,309.61 623.5,310.32 624.2,311.15 624.9,311.99 625.6,312.52 626.3,313.51 627,314.03 627.7,314.47 628.4,315.25 629.1,315.89 629.8,315.84 630.5,316.78 631.2,317.11 631.9,317.29 632.6,317.94 633.3,318.43 634,318.89 634.7,319.24 635.4,319.7 636.1,320.59 636.8,321.41 637.5,322.07 638.2,322.72 638.9,323.47 639.6,323.71 640.3,324.28 641,324.67 641.7,325.11 642.4,325.3 643.1,325.66 643.8,325.79 644.5,326.32 645.2,325.79 645.9,326.35 646.6,326.97 647.3,326.8 648,326.66 648.7,327.21 649.4,327.16 650.1,327.5 650.8,327.86 651.5,328.57 652.2,328.86 652.9,329.4 653.6,329.95 654.3,330.3 655,330.51 655.7,330.77 656.4,330.98 657.1,331 657.8,331.07 658.5,331.25 659.2,331.29 659.9,331.74 660.6,332.26 661.3,332.57 662,333.01 662.7,333.6 663.4,333.56 664.1,333.57 664.8,333.44 665.5,333.52 666.2,333.83 666.9,333.66 667.6,334.15 668.3,334.17 669,334.65 669.7,334.9 670.4,335.35 671.1,335.34 671.8,335.44 672.5,335.63 673.2,335.69 673.9,336.05 674.6,335.81 675.3,335.86 676,335.98 676.7,336.2 677.4,336.25 678.1,336.42 678.8,336.16 679.5,337.02 680.2,337.15 680.9,337.07 681.6,337.11 682.3,337.58 683,337.85 683.7,337.57 684.4,338.12 685.1,337.99 685.8,338.42 686.5,338.68 687.2,338.69 687.9,338.27 688.6,338.77 689.3,338.71 690,338.51 690.7,338.67 691.4,338.86 692.1,338.57 692.8,338.64 693.5,338.57 694.2,338.89 694.9,338.35 695.6,339.13 696.3,338.9 697,339.4 697.7,339.15 698.4,339.44 699.1,339.6 699.8,339.76 700.5,339.27 701.2,339.56 701.9,339.27 702.6,339.51 703.3,339.33 704,339.68 704.7,339.8 705.4,340.35 706.1,340.21 706.8,340.49 707.5,340.89 708.2,340.62 708.9,340.76 709.6,340.57 710.3,340.77 711,340.41 711.7,340.95 712.4,340.96 713.1,340.95 713.8,341.1 714.5,341.67 715.2,341.62 715.9,341.28 716.6,341.83 717.3,341.39 718,341.43 718.7,341.52 719.4,341.29 720.1,341.22 720.8,341.37 721.5,341.7 722.2,341.67 722.9,341.25 723.6,341.76 724.3,341.6 725,341.72 725.7,341.68 726.4,341.78 727.1,341.58 727.8,341.63 728.5,341.69 729.2,341.77 729.9,341.95 730.6,341.65 731.3,342.08 732,341.62 732.7,341.54 733.4,341.68 734.1,341.55 734.8,341.34 735.5,341.4 736.2,341.65 736.9,341.79 737.6,342.48 738.3,342.71 739,343.03 739.7,342.75 740.4,342.67 741.1,342.69 741.8,342.68 742.5,342.42 743.2,342.48 743.9,342.74 744.6,342.05 745.3,342.06 746,342.09 746.7,342.34 747.4,342.37 748.1,342.07 748.8,342.19 749.5,342.01 750.2,341.97 750.9,341.73 751.6,341.99 752.3,342.16 753,342.52 753.7,342.87 754.4,342.36 755.1,342.84 755.8,342.65 756.5,342.71 757.2,342.62 757.9,342.46 758.6,342.36 759.3,341.92 760,341.63 760.7,342.04 761.4,341.79 762.1,341.27 762.8,341.48 763.5,341.44 764.2,341.03 764.9,341.7 765.6,341.49 766.3,341.96 767,341.76 767.7,341.81 768.4,341.73 769.1,342.02 769.8,342.28 770.5,342.06 771.2,341.82 771.9,342.31 772.6,342.08 773.3,341.71 774,341.32 774.7,341.03 775.4,340.9 776.1,341.27 776.8,341.4 777.5,341.04 778.2,341.26 778.9,341.25 779.6,341.2 780.3,341.27 781,341.49 781.7,340.97 782.4,341.17 783.1,341.17 783.8,340.93 784.5,340.94 785.2,340.73 785.9,341.13 786.6,340.85 787.3,340.9 788,341.16 788.7,341.14 789.4,341.25 790.1,341.51 790.8,341.95 791.5,341.83 792.2,342.11 792.9,341.94 793.6,342.02 794.3,342.81 795,342.54 795.7,342.13 796.4,342.16 797.1,342.06 797.8,341.44 798.5,341.37 799.2,341.43 799.9,341.22 800.6,341.5 801.3,341.52 802,341.42 802.7,341.26 803.4,341.38 804.1,341.36 804.8,341.52 805.5,341.67 806.2,341.65 806.9,341.94 807.6,342.14 808.3,341.53 809,341.6 809.7,341.61 810.4,341.5 811.1,341.32 811.8,341.37 812.5,341.71 813.2,341.73 813.9,341.79 814.6,341.66 815.3,341.95 816,341.99 816.7,341.84 817.4,342 818.1,342.27 818.8,341.6 819.5,341.91 820.2,341.47 820.9,341.31 821.6,341.37 822.3,341.36 823,341.15 823.7,340.9 824.4,340.8 825.1,340.9 825.8,340.94 826.5,340.75 827.2,340.62 827.9,341.2 828.6,340.8 829.3,340.94 830,340.91 830.7,340.93 831.4,341.06 832.1,341.03 832.8,341.21 833.5,340.93 834.2,340.9 834.9,341.5 835.6,341.07 836.3,341.13 837,341.11 837.7,340.92 838.4,340.74 839.1,340.42 839.8,340.44 840.5,340.9 841.2,340.88 841.9,340.89 842.6,340.54 843.3,340.33 844,340.27 844.7,340 845.4,339.98 846.1,339.53 846.8,339.73 847.5,339.4 848.2,339.51 848.9,339.85 849.6,339.86 850.3,339.75 851,340.11 851.7,340.18 852.4,339.53 853.1,339.57 853.8,339.31 854.5,339.05 855.2,339.42 855.9,339.46 856.6,339.52 857.3,339.45 858,339.06 858.7,339.42 859.4,339.3 860.1,339.2 860.8,339.19 861.5,339.49 862.2,339.3 862.9,339.66 863.6,339.28 864.3,338.74 865,339.08 865.7,339.01 866.4,338.67 867.1,338.37 867.8,338.9 868.5,338.4 869.2,338.63 869.9,338.34 870.6,338.47 871.3,338.35 872,338.72 872.7,338.63 873.4,338.25 874.1,337.98 874.8,338.1 875.5,338.22 876.2,337.97 876.9,338.11 877.6,338.37 878.3,338.58 879,338.52 879.7,338.46 880.4,338.05 881.1,337.72 881.8,338.08 882.5,337.75 883.2,337.81 883.9,337.76 884.6,337.9 885.3,337.68 886,338.05 886.7,337.81 887.4,337.9 888.1,337.94 888.8,338.03 889.5,337.94 890.2,337.59 890.9,337.8 891.6,338.12 892.3,337.78 893,337.69 893.7,337.57 894.4,337.28 895.1,337.23 895.8,337.34 896.5,337.75 897.2,337.71 897.9,338.06 898.6,337.94 899.3,338.12 900,337.7 900.7,337.25 901.4,337.58 902.1,337.17 902.8,337.14 903.5,337.01 904.2,337 904.9,337.16 905.6,337.02 906.3,337.08 907,337.19 907.7,337.17 908.4,336.95 909.1,337.09 909.8,337.08 910.5,337.29 911.2,337.16 911.9,336.7 912.6,336.72 913.3,336.39 914,336.36 914.7,336.15 915.4,336.04 916.1,336.18 916.8,335.94 917.5,336.29 918.2,336.19 918.9,336.08 919.6,336.12 920.3,336.2 921,335.9 921.7,336.02 922.4,335.95 923.1,336.06 923.8,335.6 924.5,335.77 925.2,335.88 925.9,336.06 926.6,335.84 927.3,335.91 928,335.5 928.7,335.63 929.4,335.99 930.1,335.63 930.8,336.02 931.5,335.63 932.2,335.83 932.9,335.73 933.6,336.24 934.3,336.3 935,336.68 935.7,336.15 936.4,335.88 937.1,335.47 937.8,335.5 938.5,335.47 939.2,335.37 939.9,335.57 940.6,335.62 941.3,335.58 942,335.81 942.7,335.86 943.4,335.54 944.1,335.95 944.8,335.6 945.5,335.23 946.2,335.36 946.9,335.22 947.6,335.18 948.3,335.09 949,334.14 949.7,334.6 950.4,334.6 951.1,334.02 951.8,333.75 952.5,334.01 953.2,333.91 953.9,333.8 954.6,333.43 955.3,333.61 956,333.92 956.7,334.21 957.4,334.65 958.1,334.52 958.8,334.56 959.5,334.08 960.2,334.43 960.9,333.98 961.6,333.74 962.3,333.34 963,333.44 963.7,333.17 964.4,333.66 965.1,333.82 965.8,334.01 966.5,334.35 967.2,334.19 967.9,334.2 968.6,334.31 969.3,333.87 970,334.07 970.7,334.11 971.4,334.19 972.1,333.79 972.8,333.97 973.5,333.81 974.2,333.39 974.9,333.29 975.6,333.21 976.3,333.39 977,333.31 977.7,333.31 978.4,333.24 979.1,332.92 979.8,333.15 980.5,333.06 981.2,332.95 981.9,332.9 982.6,332.55 983.3,332.81 984,332.56 984.7,332.52 985.4,332.66 986.1,332.74 986.8,332.7 987.5,332.58 988.2,332.37 988.9,332.49 989.6,332.24 990.3,332.04 991,332.21 991.7,332.39 992.4,332 993.1,331.82 993.8,332.18 994.5,332.18 995.2,331.78 995.9,331.76 996.6,331.8 997.3,332.24 998,331.71 998.7,331.82 999.4,331.75 1000.1,331.41 1000.8,331.6 1001.5,331.63 1002.2,331.98 1002.9,331.99 1003.6,332.08 1004.3,331.53 1005,331.43 1005.7,331.2 1006.4,331.01 1007.1,331.26 1007.8,330.92 1008.5,331.15 1009.2,331.14 1009.9,330.82 1010.6,331.06 1011.3,330.79 1012,330.7 1012.7,330.53 1013.4,330.33 1014.1,330.07 1014.8,330.25 1015.5,329.88 1016.2,330.03 1016.9,330.17 1017.6,329.96 1018.3,330.01 1019,330.03 1019.7,329.87 1020.3,329.89" stroke="#0000ff"/>
<polyline points="554.9,74 555.6,77.18 556.3,80.35 557,83.53 557.7,86.7 558.4,89.88 559.1,93.06 559.8,96.23 560.5,99.58 561.2,102.21 561.9,105.14 562.6,107.98 563.3,110.83 564,113.5 564.7,116.28 565.4,119.12 566.1,121.96 566.8,124.59 567.5,127.33 568.2,130.2 568.9,132.99 569.6,135.85 570.3,138.75 571,141.62 571.7,144.36 572.4,147.11 573.1,149.83 573.8,152.55 574.5,155.22 575.2,157.87 575.9,160.65 576.6,163.2 577.3,165.91 578,168.8 578.7,171.33 579.4,173.68 580.1,175.92 580.8,178.33 581.5,180.51 582.2,182.76 582.9,185.14 583.6,187.47 584.3,189.91 585,192.12 585.7,194.49 586.4,196.78 587.1,199.16 587.8,201.03 588.5,202.98 589.2,204.55 589.9,206.44 590.6,208.21 591.3,210.09 592,211.77 592.7,213.55 593.4,215.22 594.1,216.73 594.8,218.25 595.5,219.84 596.2,221.33 596.9,222.92 597.6,224.45 598.3,226.02 599,227.19 599.7,228.4 600.4,229.64 601.1,231.01 601.8,232.31 602.5,233.72 603.2,234.83 603.9,236.07 604.6,237.06 605.3,237.79 606,238.98 606.7,239.96 607.4,240.96 608.1,241.83 608.8,242.88 609.5,243.69 610.2,244.66 610.9,245.61 611.6,246.69 612.3,247.44 613,248.47 613.7,249.31 614.4,250.17 615.1,250.84 615.8,251.32 616.5,251.65 617.2,252.21 617.9,252.54 618.6,252.97 619.3,253.54 620,254 620.7,254.43 621.4,254.87 622.1,255.51 622.8,256.03 623.5,256.34 624.2,256.75 624.9,256.96 625.6,257.47 626.3,257.79 627,258.12 627.7,258.5 628.4,259.02 629.1,259.49 629.8,260.03 630.5,260.42 631.2,260.87 631.9,261.22 632.6,261.8 633.3,262.27 634,262.57 634.7,263.11 635.4,263.49 636.1,263.85 636.8,264.14 637.5,264.8 638.2,264.88 638.9,265.46 639.6,265.81 640.3,266.36 641,266.63 641.7,267.08 642.4,267.54 643.1,267.94 643.8,268.28 644.5,268.83 645.2,269.24 645.9,269.73 646.6,270.03 647.3,270.52 648,270.95 648.7,271.37 649.4,271.92 650.1,272.39 650.8,272.94 651.5,273.26 652.2,273.8 652.9,274.33 653.6,274.7 654.3,275.19 655,275.65 655.7,275.96 656.4,276.31 657.1,276.87 657.8,277.16 658.5,277.52 659.2,277.81 659.9,278.36 660.6,278.88 661.3,279.11 662,279.56 662.7,280.17 663.4,280.64 664.1,281.11 664.8,281.38 665.5,281.94 666.2,282.28 666.9,282.83 667.6,283.11 668.3,283.52 669,283.97 669.7,284.24 670.4,284.54 671.1,284.91 671.8,285.24 672.5,285.49 673.2,285.86 673.9,286.21 674.6,286.6 675.3,286.69 676,287.23 676.7,287.69 677.4,288.34 678.1,288.94 678.8,289.21 679.5,289.57 680.2,290.01 680.9,290.05 681.6,290.6 682.3,290.7 683,291.34 683.7,291.66 684.4,292.03 685.1,292.47 685.8,292.76 686.5,293.28 687.2,293.58 687.9,294.04 688.6,294.65 689.3,294.82 690,295.36 690.7,295.6 691.4,296.13 692.1,296.43 692.8,296.68 693.5,297.08 694.2,297.45 694.9,297.76 695.6,297.96 696.3,298.28 697,298.7 697.7,298.8 698.4,299.2 699.1,299.6 699.8,299.9 700.5,300.29 701.2,300.57 701.9,300.72 702.6,301.02 703.3,301.19 704,301.66 704.7,302.06 705.4,302.38 706.1,302.77 706.8,303.19 707.5,303.46 708.2,303.91 708.9,304.22 709.6,304.88 710.3,305.11 711,305.46 711.7,306 712.4,306.2 713.1,306.57 713.8,306.73 714.5,307.23 715.2,307.39 715.9,307.65 716.6,307.95 717.3,308.22 718,308.61 718.7,309.02 719.4,309.09 720.1,309.31 720.8,309.73 721.5,310.04 722.2,310.09 722.9,310.44 723.6,310.66 724.3,311.05 725,311.3 725.7,311.45 726.4,311.67 727.1,312.08 727.8,312.09 728.5,312.58 729.2,312.76 729.9,313.17 730.6,313.3 731.3,313.4 732,313.68 732.7,313.93 733.4,314.15 734.1,314.47 734.8,314.8 735.5,314.86 736.2,315.26 736.9,315.69 737.6,315.91 738.3,316.06 739,316.33 739.7,316.53 740.4,316.67 741.1,317.12 741.8,317.23 742.5,317.37 743.2,317.56 743.9,317.97 744.6,318.28 745.3,318.8 746,318.93 746.7,319.3 747.4,319.59 748.1,319.72 748.8,319.81 749.5,319.8 750.2,320.26 750.9,320.31 751.6,320.4 752.3,320.61 753,320.72 753.7,320.91 754.4,321.04 755.1,321.42 755.8,321.68 756.5,321.91 757.2,322.23 757.9,322.47 758.6,322.69 759.3,322.76 760,322.99 760.7,323.15 761.4,323.21 762.1,323.36 762.8,323.32 763.5,323.55 764.2,324.04 764.9,324.19 765.6,324.56 766.3,324.82 767,325.11 767.7,325.15 768.4,325.19 769.1,325.15 769.8,325.53 770.5,325.45 771.2,325.39 771.9,325.68 772.6,325.87 773.3,326.1 774,326.15 774.7,326.62 775.4,326.89 776.1,326.89 776.8,327.13 777.5,327.28 778.2,327.28 778.9,327.65 779.6,327.55 780.3,327.79 781,327.95 781.7,328.23 782.4,328.28 783.1,328.4 783.8,328.47 784.5,328.68 785.2,328.81 785.9,328.99 786.6,329.15 787.3,329.2 788,329.26 788.7,329.37 789.4,329.64 790.1,329.65 790.8,329.75 791.5,330.12 792.2,330.34 792.9,330.49 793.6,330.66 794.3,330.85 795,331.22 795.7,331.22 796.4,331.47 797.1,331.46 797.8,331.67 798.5,331.83 799.2,331.95 799.9,332.13 800.6,332.32 801.3,332.36 802,332.53 802.7,332.79 803.4,332.99 804.1,332.81 804.8,332.73 805.5,332.73 806.2,332.78 806.9,332.86 807.6,332.92 808.3,333.22 809,333.39 809.7,333.55 810.4,333.71 811.1,333.95 811.8,334.01 812.5,334.22 813.2,334.13 813.9,334.47 814.6,334.52 815.3,334.62 816,334.84 816.7,334.9 817.4,334.84 818.1,335.13 818.8,335.3 819.5,335.27 820.2,335.28 820.9,335.47 821.6,335.52 822.3,335.49 823,335.58 823.7,335.71 824.4,335.85 825.1,336.05 825.8,336.3 826.5,336.23 827.2,336.47 827.9,336.75 828.6,336.75 829.3,336.85 830,337.02 830.7,336.97 831.4,337.05 832.1,337.11 832.8,337.22 833.5,337.45 834.2,337.6 834.9,337.58 835.6,337.7 836.3,337.93 837,338.09 837.7,338.19 838.4,338.15 839.1,338.37 839.8,338.24 840.5,338.52 841.2,338.47 841.9,338.53 842.6,338.75 843.3,338.85 844,338.95 844.7,339.11 845.4,339.27 846.1,339.38 846.8,339.6 847.5,339.8 848.2,339.58 848.9,339.61 849.6,339.7 850.3,339.78 851,339.78 851.7,339.78 852.4,340 853.1,340.14 853.8,340.21 854.5,340.47 855.2,340.46 855.9,340.47 856.6,340.31 857.3,340.09 858,340.05 858.7,339.9 859.4,339.96 860.1,340.14 860.8,340.44 861.5,340.49 862.2,340.54 862.9,340.79 863.6,340.95 864.3,341.09 865,340.85 865.7,340.93 866.4,340.96 867.1,340.92 867.8,341.16 868.5,341.21 869.2,341.33 869.9,341.59 870.6,341.47 871.3,341.65 872,341.75 872.7,341.73 873.4,341.83 874.1,342.11 874.8,342.14 875.5,342.15 876.2,342.09 876.9,342.3 877.6,342.32 878.3,342.51 879,342.49 879.7,342.47 880.4,342.46 881.1,342.48 881.8,342.46 882.5,342.57 883.2,342.63 883.9,342.79 884.6,342.95 885.3,343 886,343.05 886.7,343.29 887.4,343.33 888.1,343.03 888.8,343.04 889.5,342.96 890.2,342.86 890.9,342.76 891.6,342.77 892.3,342.82 893,343.03 893.7,343.08 894.4,342.87 895.1,342.85 895.8,343.22 896.5,343.25 897.2,343.38 897.9,343.41 898.6,343.7 899.3,343.7 900,343.64 900.7,343.75 901.4,343.86 902.1,343.76 902.8,343.72 903.5,343.52 904.2,343.55 904.9,343.42 905.6,343.46 906.3,343.34 907,343.25 907.7,343.42 908.4,343.44 909.1,343.69 909.8,343.88 910.5,343.84 911.2,343.98 911.9,343.76 912.6,343.95 913.3,343.91 914,343.72 914.7,343.92 915.4,343.87 916.1,343.84 916.8,344.01 917.5,344.33 918.2,344.37 918.9,344.62 919.6,344.41 920.3,344.55 921,344.65 921.7,344.53 922.4,344.66 923.1,344.57 923.8,344.59 924.5,344.55 925.2,344.66 925.9,344.32 926.6,344.45 927.3,344.53 928,344.41 928.7,344.61 929.4,344.89 930.1,344.88 930.8,344.63 931.5,344.82 932.2,344.64 932.9,344.74 933.6,344.59 934.3,344.54 935,344.48 935.7,344.67 936.4,344.69 937.1,344.74 937.8,344.89 938.5,345.04 939.2,344.98 939.9,345.16 940.6,344.93 941.3,345.11 942,345.05 942.7,345.23 943.4,345.04 944.1,345.03 944.8,344.96 945.5,345.24 946.2,345.12 946.9,344.96 947.6,345 948.3,344.91 949,345.1 949.7,344.97 950.4,344.73 951.1,344.92 951.8,345.05 952.5,345.03 953.2,345.14 953.9,345.16 954.6,345.25 955.3,345.25 956,345.11 956.7,345.14 957.4,345.07 958.1,344.99 958.8,344.88 959.5,344.92 960.2,345.11 960.9,345.25 961.6,345.05 962.3,345.28 963,345.49 963.7,345.41 964.4,345.22 965.1,345.35 965.8,345.11 966.5,345.08 967.2,345.34 967.9,345.26 968.6,345.4 969.3,345.4 970,345.58 970.7,345.69 971.4,345.76 972.1,345.53 972.8,345.7 973.5,345.49 974.2,345.39 974.9,345.31 975.6,345.37 976.3,345.38 977,345.16 977.7,345.28 978.4,345.23 979.1,345.2 979.8,345.23 980.5,345.2 981.2,345.51 981.9,345.54 982.6,345.72 983.3,345.59 984,345.72 984.7,345.76 985.4,345.66 986.1,345.76 986.8,345.87 987.5,345.72 988.2,345.61 988.9,345.84 989.6,345.42 990.3,345.5 991,345.6 991.7,345.62 992.4,345.58 993.1,345.91 993.8,346.06 994.5,346.03 995.2,346.27 995.9,346.13 996.6,346.14 997.3,345.86 998,345.95 998.7,346.04 999.4,346.04 1000.1,345.96 1000.8,345.83 1001.5,345.82 1002.2,345.73 1002.9,345.86 1003.6,345.68 1004.3,345.73 1005,345.52 1005.7,345.55 1006.4,345.8 1007.1,345.62 1007.8,345.55 1008.5,345.26 1009.2,345.36 1009.9,345.45 1010.6,345.06 1011.3,345.03 1012,345.36 1012.7,345.47 1013.4,345.64 1014.1,345.69 1014.8,345.82 1015.5,345.88 1016.2,346.06 1016.9,346.03 1017.6,346.13 1018.3,345.99 1019,346.15 1019.7,346 1020.3,346" stroke="#00ff00"/>
</g>
<path d="M554.9,397.3v-4.6M554.9,40.5v4.6M632.47,397.3v-4.6M632.47,40.5v4.6M710.03,397.3v-4.6M710.03,40.5v4.6M787.6,397.3v-4.6M787.6,40.5v4.6M865.17,397.3v-4.6M865.17,40.5v4.6M942.73,397.3v-4.6M942.73,40.5v4.6M1020.3,397.3v-4.6M1020.3,40.5v4.6M554.9,40.5h4.6M1020.3,40.5h-4.6M554.9,159.43h4.6M1020.3,159.43h-4.6M554.9,123.63h2.76M1020.3,123.63h-2.76M554.9,102.69h2.76M1020.3,102.69h-2.76M554.9,87.83h2.76M1020.3,87.83h-2.76M554.9,76.3h2.76M1020.3,76.3h-2.76M554.9,66.89h2.76M1020.3,66.89h-2.76M554.9,58.92h2.76M1020.3,58.92h-2.76M554.9,52.03h2.76M1020.3,52.03h-2.76M554.9,45.94h2.76M1020.3,45.94h-2.76M554.9,278.37h4.6M1020.3,278.37h-4.6M554.9,242.56h2.76M1020.3,242.56h-2.76M554.9,221.62h2.76M1020.3,221.62h-2.76M554.9,206.76h2.76M1020.3,206.76h-2.76M554.9,195.24h2.76M1020.3,195.24h-2.76M554.9,185.82h2.76M1020.3,185.82h-2.76M554.9,177.86h2.76M1020.3,177.86h-2.76M554.9,170.96h2.76M1020.3,170.96h-2.76M554.9,164.88h2.76M1020.3,164.88h-2.76M554.9,397.3h4.6M1020.3,397.3h-4.6M554.9,361.5h2.76M1020.3,361.5h-2.76M554.9,340.55h2.76M1020.3,340.55h-2.76M554.9,325.69h2.76M1020.3,325.69h-2.76M554.9,314.17h2.76M1020.3,314.17h-2.76M554.9,304.75h2.76M1020.3,304.75h-2.76M554.9,296.79h2.76M1020.3,296.79h-2.76M554.9,289.89h2.76M1020.3,289.89h-2.76M554.9,283.81h2.76M1020.3,283.81h-2.76" stroke="#7a7a7a" stroke-width="1" fill="none"/>
<rect x="554.9" y="40.5" width="465.4" height="356.8" fill="none" stroke="#7a7a7a" stroke-width="1"/>
<text x="547.9" y="49" text-anchor="end" class="tl">10<tspan dy="-7.6" font-size="11.5">0</tspan></text>
<text x="547.9" y="167.93" text-anchor="end" class="tl">10<tspan dy="-7.6" font-size="11.5">-1</tspan></text>
<text x="547.9" y="286.87" text-anchor="end" class="tl">10<tspan dy="-7.6" font-size="11.5">-2</tspan></text>
<text x="547.9" y="405.8" text-anchor="end" class="tl">10<tspan dy="-7.6" font-size="11.5">-3</tspan></text>
<text x="554.9" y="417.7" text-anchor="middle" class="tl">0</text>
<text x="632.47" y="417.7" text-anchor="middle" class="tl">1</text>
<text x="710.03" y="417.7" text-anchor="middle" class="tl">2</text>
<text x="787.6" y="417.7" text-anchor="middle" class="tl">3</text>
<text x="865.17" y="417.7" text-anchor="middle" class="tl">4</text>
<text x="942.73" y="417.7" text-anchor="middle" class="tl">5</text>
<text x="1020.3" y="417.7" text-anchor="middle" class="tl">6</text>
<text x="986.7" y="441.9" class="tl" style="font-size:17px">×</text>
<text x="998.5" y="441.9" class="tl">10<tspan x="1013.7" dy="-8.3" font-size="11.5">4</tspan></text>
<text transform="translate(638.6,22.5) scale(1.081,1)" class="tt">relative noise level</text>
<text x="849.6" y="22.5" class="dl tt2" style="font-size:23.5px">δ</text>
<text transform="translate(861.1,33.3) scale(1.1,1)" class="tt" style="font-size:16px">rel</text>
<text transform="translate(889.4,22.5) scale(1.1,1)" class="tt">=0.1</text>
<rect x="892.4" y="51.8" width="116" height="95.2" fill="#fff" stroke="#7a7a7a" stroke-width="1"/>
<path d="M896.4,70h42.7" stroke="#ff0000" stroke-width="1.5"/>
<text x="942.8" y="73.7" class="mu">μ</text>
<text x="953.4" y="80.7" class="lg" style="font-size:12px">0</text>
<text x="966.2" y="72.5" class="lg">=</text>
<text x="980.2" y="73.7" class="lg">2.0</text>
<path d="M896.4,100h42.7" stroke="#0000ff" stroke-width="1.5"/>
<text x="942.8" y="103.7" class="mu">μ</text>
<text x="953.4" y="110.7" class="lg" style="font-size:12px">0</text>
<text x="966.2" y="102.5" class="lg">=</text>
<text x="980.2" y="103.7" class="lg">1.0</text>
<path d="M896.4,130h42.7" stroke="#00ff00" stroke-width="1.5"/>
<text x="942.8" y="133.7" class="mu">μ</text>
<text x="953.4" y="140.7" class="lg" style="font-size:12px">0</text>
<text x="966.2" y="132.5" class="lg">=</text>
<text x="980.2" y="133.7" class="lg">0.4</text>
<clipPath id="c2"><rect x="1072.1" y="40.5" width="465.4" height="356.8"/></clipPath>
<g clip-path="url(#c2)" fill="none" stroke-width="1.5" stroke-linejoin="round">
<polyline points="1072.1,65.5 1072.8,79.36 1073.5,90.69 1074.2,100.11 1074.9,109.54 1075.6,118.97 1076.3,127.42 1077,133.45 1077.7,139.54 1078.4,145.51 1079.1,154.9 1079.8,164.43 1080.5,173.77 1081.2,181.03 1081.9,185.48 1082.6,189.93 1083.3,194.34 1084,198.76 1084.7,203.18 1085.4,207.24 1086.1,209.83 1086.8,212.6 1087.5,215.52 1088.2,218.53 1088.9,221.27 1089.6,223.94 1090.3,226.64 1091,228.33 1091.7,229.91 1092.4,231.71 1093.1,233.4 1093.8,235.11 1094.5,236.6 1095.2,238.29 1095.9,240.4 1096.6,242.65 1097.3,244.76 1098,246.89 1098.7,249.02 1099.4,251.11 1100.1,253.17 1100.8,255.35 1101.5,257.41 1102.2,259.17 1102.9,260.85 1103.6,262.31 1104.3,263.88 1105,265.62 1105.7,267.59 1106.4,269.07 1107.1,270.86 1107.8,272.53 1108.5,274.3 1109.2,276.21 1109.9,277.49 1110.6,278.78 1111.3,280.01 1112,281.33 1112.7,282.6 1113.4,283.73 1114.1,285.13 1114.8,286.36 1115.5,287.55 1116.2,288.74 1116.9,289.89 1117.6,290.83 1118.3,291.74 1119,292.38 1119.7,293.16 1120.4,294.01 1121.1,294.64 1121.8,295.42 1122.5,296.27 1123.2,297.1 1123.9,297.67 1124.6,298.61 1125.3,299.33 1126,299.83 1126.7,300.27 1127.4,300.58 1128.1,301.16 1128.8,301.57 1129.5,301.8 1130.2,302.16 1130.9,302.42 1131.6,302.98 1132.3,303.23 1133,303.56 1133.7,304.14 1134.4,304.39 1135.1,304.73 1135.8,304.92 1136.5,305.47 1137.2,305.85 1137.9,305.97 1138.6,306.28 1139.3,306.61 1140,306.93 1140.7,307.22 1141.4,307.48 1142.1,307.51 1142.8,307.81 1143.5,307.86 1144.2,308.29 1144.9,308.42 1145.6,308.61 1146.3,308.98 1147,309.09 1147.7,309.41 1148.4,309.63 1149.1,309.94 1149.8,310.04 1150.5,310.37 1151.2,310.66 1151.9,310.89 1152.6,311.22 1153.3,311.26 1154,311.57 1154.7,311.78 1155.4,311.74 1156.1,312 1156.8,312.26 1157.5,312.54 1158.2,312.86 1158.9,313.08 1159.6,313.35 1160.3,313.56 1161,313.81 1161.7,314.08 1162.4,314.33 1163.1,314.45 1163.8,314.73 1164.5,314.92 1165.2,315.2 1165.9,315.35 1166.6,315.75 1167.3,315.97 1168,316.16 1168.7,316.3 1169.4,316.49 1170.1,316.65 1170.8,316.76 1171.5,317.15 1172.2,317.46 1172.9,317.44 1173.6,317.75 1174.3,318.17 1175,318.47 1175.7,318.62 1176.4,318.87 1177.1,319.27 1177.8,319.33 1178.5,319.81 1179.2,319.91 1179.9,320.15 1180.6,320.26 1181.3,320.31 1182,320.43 1182.7,320.51 1183.4,320.71 1184.1,320.7 1184.8,320.88 1185.5,321.02 1186.2,321.19 1186.9,321.36 1187.6,321.58 1188.3,321.9 1189,322.1 1189.7,322.28 1190.4,322.62 1191.1,322.82 1191.8,323.01 1192.5,323.24 1193.2,323.43 1193.9,323.79 1194.6,324.01 1195.3,324.18 1196,324.46 1196.7,324.78 1197.4,324.74 1198.1,324.83 1198.8,324.89 1199.5,324.92 1200.2,325.07 1200.9,325.25 1201.6,325.3 1202.3,325.5 1203,325.68 1203.7,325.71 1204.4,325.89 1205.1,325.94 1205.8,326.15 1206.5,326.2 1207.2,326.43 1207.9,326.41 1208.6,326.71 1209.3,326.7 1210,326.8 1210.7,326.93 1211.4,327.17 1212.1,327.19 1212.8,327.45 1213.5,327.49 1214.2,327.51 1214.9,327.45 1215.6,327.67 1216.3,327.76 1217,327.86 1217.7,328.2 1218.4,328.5 1219.1,328.48 1219.8,328.75 1220.5,328.98 1221.2,329.03 1221.9,329.27 1222.6,329.52 1223.3,329.74 1224,329.83 1224.7,330.11 1225.4,330.27 1226.1,330.53 1226.8,330.51 1227.5,330.7 1228.2,330.81 1228.9,330.93 1229.6,331.11 1230.3,331.12 1231,331.46 1231.7,331.32 1232.4,331.53 1233.1,331.64 1233.8,331.74 1234.5,331.76 1235.2,331.81 1235.9,331.95 1236.6,332.1 1237.3,332.14 1238,332.25 1238.7,332.33 1239.4,332.31 1240.1,332.39 1240.8,332.71 1241.5,332.73 1242.2,332.81 1242.9,333.2 1243.6,333.17 1244.3,333.3 1245,333.52 1245.7,333.46 1246.4,333.56 1247.1,333.78 1247.8,333.74 1248.5,334.08 1249.2,334.03 1249.9,334.34 1250.6,334.28 1251.3,334.4 1252,334.48 1252.7,334.52 1253.4,334.49 1254.1,334.52 1254.8,334.57 1255.5,334.42 1256.2,334.47 1256.9,334.6 1257.6,335.07 1258.3,335.18 1259,335.4 1259.7,335.61 1260.4,335.81 1261.1,335.76 1261.8,335.79 1262.5,335.72 1263.2,335.72 1263.9,335.73 1264.6,335.73 1265.3,336.13 1266,336.13 1266.7,336.36 1267.4,336.65 1268.1,336.77 1268.8,336.88 1269.5,337 1270.2,337.06 1270.9,337.09 1271.6,337.03 1272.3,337.26 1273,337.16 1273.7,337.32 1274.4,337.5 1275.1,337.53 1275.8,337.64 1276.5,337.71 1277.2,337.89 1277.9,337.69 1278.6,338.01 1279.3,338.06 1280,338.05 1280.7,338.17 1281.4,338.15 1282.1,338.39 1282.8,338.61 1283.5,338.42 1284.2,338.67 1284.9,338.67 1285.6,338.75 1286.3,338.83 1287,338.95 1287.7,338.98 1288.4,339.06 1289.1,339.36 1289.8,339.33 1290.5,339.46 1291.2,339.53 1291.9,339.63 1292.6,339.55 1293.3,339.63 1294,339.79 1294.7,339.86 1295.4,339.77 1296.1,339.88 1296.8,339.9 1297.5,340.07 1298.2,340.1 1298.9,340.13 1299.6,340.13 1300.3,340.28 1301,340.42 1301.7,340.52 1302.4,340.75 1303.1,340.84 1303.8,341.11 1304.5,341.24 1305.2,341.29 1305.9,341.53 1306.6,341.64 1307.3,341.73 1308,341.86 1308.7,341.88 1309.4,341.98 1310.1,342.14 1310.8,342.26 1311.5,342.2 1312.2,342.32 1312.9,342.48 1313.6,342.65 1314.3,342.77 1315,342.97 1315.7,343.08 1316.4,343.09 1317.1,343.25 1317.8,343.14 1318.5,343.37 1319.2,343.46 1319.9,343.58 1320.6,343.61 1321.3,343.77 1322,343.89 1322.7,343.83 1323.4,343.93 1324.1,344.08 1324.8,344.26 1325.5,344.41 1326.2,344.62 1326.9,344.65 1327.6,344.94 1328.3,345.07 1329,345.14 1329.7,345.16 1330.4,345.18 1331.1,345.29 1331.8,345.33 1332.5,345.25 1333.2,345.32 1333.9,345.36 1334.6,345.33 1335.3,345.3 1336,345.35 1336.7,345.38 1337.4,345.47 1338.1,345.52 1338.8,345.59 1339.5,345.7 1340.2,345.7 1340.9,345.81 1341.6,345.78 1342.3,345.74 1343,346.01 1343.7,346.17 1344.4,346.14 1345.1,346.1 1345.8,346.04 1346.5,346.18 1347.2,346.06 1347.9,346.1 1348.6,346.2 1349.3,346.23 1350,346.42 1350.7,346.32 1351.4,346.46 1352.1,346.51 1352.8,346.54 1353.5,346.7 1354.2,346.77 1354.9,346.86 1355.6,347.07 1356.3,347.09 1357,347.31 1357.7,347.19 1358.4,347.25 1359.1,347.34 1359.8,347.33 1360.5,347.35 1361.2,347.27 1361.9,347.18 1362.6,347.07 1363.3,347.12 1364,347.28 1364.7,347.2 1365.4,347.18 1366.1,347.14 1366.8,347.16 1367.5,347.19 1368.2,347.08 1368.9,347.16 1369.6,347.2 1370.3,347.39 1371,347.27 1371.7,347.47 1372.4,347.37 1373.1,347.54 1373.8,347.3 1374.5,347.26 1375.2,347.31 1375.9,347.23 1376.6,347.25 1377.3,347.14 1378,347.33 1378.7,347.41 1379.4,347.32 1380.1,347.33 1380.8,347.31 1381.5,347.47 1382.2,347.44 1382.9,347.43 1383.6,347.36 1384.3,347.56 1385,347.45 1385.7,347.32 1386.4,347.37 1387.1,347.14 1387.8,347.2 1388.5,347.11 1389.2,347.38 1389.9,347.36 1390.6,347.57 1391.3,347.56 1392,347.72 1392.7,347.78 1393.4,347.63 1394.1,347.7 1394.8,347.63 1395.5,347.75 1396.2,347.64 1396.9,347.66 1397.6,347.67 1398.3,347.77 1399,347.61 1399.7,347.68 1400.4,347.63 1401.1,347.52 1401.8,347.42 1402.5,347.38 1403.2,347.32 1403.9,347.11 1404.6,347.21 1405.3,347.1 1406,347.18 1406.7,347.34 1407.4,347.11 1408.1,347.16 1408.8,347.16 1409.5,347.25 1410.2,347.15 1410.9,347.07 1411.6,347.09 1412.3,347.21 1413,347.19 1413.7,347.22 1414.4,347.09 1415.1,347.15 1415.8,347 1416.5,347.21 1417.2,347.21 1417.9,347.27 1418.6,347.42 1419.3,347.63 1420,347.54 1420.7,347.44 1421.4,347.35 1422.1,347.24 1422.8,347.21 1423.5,347.14 1424.2,347.01 1424.9,347.02 1425.6,347.07 1426.3,346.96 1427,346.87 1427.7,346.78 1428.4,346.94 1429.1,346.86 1429.8,346.87 1430.5,346.89 1431.2,346.87 1431.9,346.71 1432.6,346.73 1433.3,346.77 1434,346.73 1434.7,346.79 1435.4,346.64 1436.1,346.51 1436.8,346.73 1437.5,346.52 1438.2,346.56 1438.9,346.65 1439.6,346.55 1440.3,346.76 1441,346.48 1441.7,346.39 1442.4,346.2 1443.1,346.27 1443.8,346.04 1444.5,345.92 1445.2,346.08 1445.9,345.9 1446.6,346 1447.3,346.09 1448,346.1 1448.7,345.98 1449.4,346.09 1450.1,346.03 1450.8,345.8 1451.5,345.83 1452.2,345.7 1452.9,345.63 1453.6,345.65 1454.3,345.52 1455,345.42 1455.7,345.36 1456.4,345.23 1457.1,345.41 1457.8,345.28 1458.5,345.44 1459.2,345.33 1459.9,345.34 1460.6,345.43 1461.3,345.26 1462,345.13 1462.7,345.06 1463.4,345.06 1464.1,345.07 1464.8,345.05 1465.5,345.04 1466.2,345.06 1466.9,345.16 1467.6,345.26 1468.3,345.31 1469,345.14 1469.7,345.18 1470.4,344.92 1471.1,344.83 1471.8,344.82 1472.5,344.79 1473.2,344.75 1473.9,344.87 1474.6,344.73 1475.3,344.97 1476,345.04 1476.7,345.01 1477.4,344.86 1478.1,344.97 1478.8,344.82 1479.5,344.89 1480.2,344.75 1480.9,344.69 1481.6,344.63 1482.3,344.38 1483,344.4 1483.7,344.45 1484.4,344.05 1485.1,344.25 1485.8,344.25 1486.5,344.17 1487.2,344.13 1487.9,344.17 1488.6,344.09 1489.3,343.95 1490,344.03 1490.7,344.09 1491.4,344.14 1492.1,344.12 1492.8,344.09 1493.5,344.16 1494.2,343.78 1494.9,344.02 1495.6,343.95 1496.3,343.9 1497,343.91 1497.7,343.96 1498.4,344.02 1499.1,344.06 1499.8,344.04 1500.5,344.14 1501.2,343.99 1501.9,344 1502.6,343.94 1503.3,343.85 1504,343.93 1504.7,343.84 1505.4,343.72 1506.1,343.75 1506.8,343.62 1507.5,343.77 1508.2,343.66 1508.9,343.75 1509.6,343.56 1510.3,343.64 1511,343.51 1511.7,343.5 1512.4,343.56 1513.1,343.62 1513.8,343.69 1514.5,343.63 1515.2,343.76 1515.9,343.78 1516.6,343.6 1517.3,343.56 1518,343.43 1518.7,343.53 1519.4,343.28 1520.1,343.3 1520.8,343.39 1521.5,343.39 1522.2,343.45 1522.9,343.59 1523.6,343.6 1524.3,343.6 1525,343.52 1525.7,343.52 1526.4,343.42 1527.1,343.43 1527.8,343.09 1528.5,343.22 1529.2,343.1 1529.9,343.27 1530.6,343.24 1531.3,343.2 1532,343.3 1532.7,343.14 1533.4,343.09 1534.1,343.01 1534.8,343 1535.5,343.02 1536.2,343.03 1536.9,343.14 1537.6,343.09 1537.9,343.09" stroke="#ff0000"/>
<polyline points="1072.1,65.5 1072.8,70.12 1073.5,74.74 1074.2,79.36 1074.9,83.98 1075.6,88.33 1076.3,92.57 1077,97.25 1077.7,102.49 1078.4,109.02 1079.1,117.02 1079.8,125.13 1080.5,131.4 1081.2,135.83 1081.9,140.54 1082.6,145.19 1083.3,149.84 1084,153.5 1084.7,156.88 1085.4,160.46 1086.1,163.73 1086.8,167.22 1087.5,170.21 1088.2,173.28 1088.9,176.51 1089.6,179.61 1090.3,182.64 1091,185.8 1091.7,188.88 1092.4,191.02 1093.1,193.12 1093.8,195.2 1094.5,197.37 1095.2,199.26 1095.9,201.38 1096.6,203.47 1097.3,205.05 1098,206.13 1098.7,207.32 1099.4,208.3 1100.1,209.49 1100.8,210.47 1101.5,211.68 1102.2,212.93 1102.9,213.88 1103.6,214.95 1104.3,216.08 1105,217.24 1105.7,218.57 1106.4,220.23 1107.1,221.88 1107.8,223.52 1108.5,225.05 1109.2,226.68 1109.9,228.22 1110.6,229.76 1111.3,231.05 1112,232.22 1112.7,233.51 1113.4,234.71 1114.1,235.83 1114.8,236.95 1115.5,238.1 1116.2,239.2 1116.9,240.4 1117.6,241.64 1118.3,242.63 1119,243.58 1119.7,244.56 1120.4,245.59 1121.1,246.65 1121.8,247.66 1122.5,248.72 1123.2,249.67 1123.9,250.75 1124.6,251.77 1125.3,252.91 1126,253.8 1126.7,254.94 1127.4,255.71 1128.1,256.55 1128.8,257.46 1129.5,258.34 1130.2,259.19 1130.9,260.11 1131.6,260.92 1132.3,261.72 1133,262.77 1133.7,263.61 1134.4,264.61 1135.1,265.41 1135.8,266.04 1136.5,266.98 1137.2,267.55 1137.9,268.35 1138.6,269.17 1139.3,269.81 1140,270.37 1140.7,271.1 1141.4,271.65 1142.1,272.46 1142.8,273.11 1143.5,273.65 1144.2,274.43 1144.9,275.23 1145.6,275.99 1146.3,276.6 1147,277.3 1147.7,277.98 1148.4,278.62 1149.1,279.29 1149.8,279.83 1150.5,280.48 1151.2,280.97 1151.9,281.49 1152.6,282.05 1153.3,282.91 1154,283.47 1154.7,284.12 1155.4,284.71 1156.1,285.37 1156.8,286.1 1157.5,286.55 1158.2,287.21 1158.9,287.77 1159.6,288.26 1160.3,288.74 1161,289.49 1161.7,290.16 1162.4,290.61 1163.1,291.19 1163.8,291.96 1164.5,292.49 1165.2,293.02 1165.9,293.74 1166.6,294.23 1167.3,294.87 1168,295.4 1168.7,295.67 1169.4,296.02 1170.1,296.22 1170.8,296.44 1171.5,296.81 1172.2,297.22 1172.9,297.57 1173.6,297.99 1174.3,298.26 1175,298.66 1175.7,298.92 1176.4,299.22 1177.1,299.63 1177.8,299.88 1178.5,300.34 1179.2,300.6 1179.9,300.86 1180.6,301 1181.3,301.27 1182,301.56 1182.7,301.7 1183.4,301.89 1184.1,302.17 1184.8,302.43 1185.5,302.57 1186.2,302.71 1186.9,302.9 1187.6,303.13 1188.3,303.53 1189,303.74 1189.7,304.08 1190.4,304.41 1191.1,304.58 1191.8,304.81 1192.5,304.86 1193.2,304.81 1193.9,304.99 1194.6,304.96 1195.3,305.03 1196,304.95 1196.7,305.16 1197.4,305.48 1198.1,305.45 1198.8,305.68 1199.5,305.93 1200.2,305.99 1200.9,306.13 1201.6,306.09 1202.3,306.39 1203,306.4 1203.7,306.62 1204.4,306.65 1205.1,306.79 1205.8,307 1206.5,307.11 1207.2,307.24 1207.9,307.54 1208.6,307.61 1209.3,307.65 1210,307.79 1210.7,307.88 1211.4,307.96 1212.1,308.01 1212.8,308.17 1213.5,308.35 1214.2,308.51 1214.9,308.65 1215.6,308.73 1216.3,308.88 1217,308.96 1217.7,308.92 1218.4,309.03 1219.1,309.14 1219.8,309.15 1220.5,309.26 1221.2,309.48 1221.9,309.65 1222.6,309.95 1223.3,310.06 1224,310.18 1224.7,310.28 1225.4,310.42 1226.1,310.46 1226.8,310.46 1227.5,310.45 1228.2,310.57 1228.9,310.57 1229.6,310.62 1230.3,310.71 1231,310.69 1231.7,310.81 1232.4,310.84 1233.1,311.04 1233.8,311.23 1234.5,311.53 1235.2,311.72 1235.9,311.86 1236.6,311.84 1237.3,311.96 1238,312.09 1238.7,312.15 1239.4,312.05 1240.1,312.22 1240.8,312.26 1241.5,312.44 1242.2,312.52 1242.9,312.52 1243.6,312.78 1244.3,312.72 1245,313.06 1245.7,313.04 1246.4,313.19 1247.1,313.48 1247.8,313.48 1248.5,313.6 1249.2,313.82 1249.9,313.8 1250.6,313.91 1251.3,313.88 1252,314.17 1252.7,314.25 1253.4,314.36 1254.1,314.53 1254.8,314.6 1255.5,314.76 1256.2,314.82 1256.9,315.03 1257.6,315.16 1258.3,315.2 1259,315.28 1259.7,315.33 1260.4,315.33 1261.1,315.47 1261.8,315.75 1262.5,315.88 1263.2,316.09 1263.9,316.16 1264.6,316.23 1265.3,316.41 1266,316.43 1266.7,316.44 1267.4,316.6 1268.1,316.67 1268.8,316.77 1269.5,316.93 1270.2,317.15 1270.9,317.36 1271.6,317.44 1272.3,317.41 1273,317.62 1273.7,317.64 1274.4,317.78 1275.1,317.81 1275.8,317.96 1276.5,317.95 1277.2,318.28 1277.9,318.2 1278.6,318.39 1279.3,318.41 1280,318.56 1280.7,318.57 1281.4,318.74 1282.1,318.94 1282.8,319.03 1283.5,318.97 1284.2,319.27 1284.9,319.26 1285.6,319.51 1286.3,319.66 1287,319.72 1287.7,319.88 1288.4,320.01 1289.1,320.18 1289.8,320.33 1290.5,320.48 1291.2,320.53 1291.9,320.76 1292.6,320.65 1293.3,320.91 1294,320.85 1294.7,321 1295.4,321 1296.1,321.07 1296.8,321.17 1297.5,321.43 1298.2,321.71 1298.9,321.75 1299.6,321.91 1300.3,322.05 1301,322.17 1301.7,322.18 1302.4,322.26 1303.1,322.35 1303.8,322.49 1304.5,322.49 1305.2,322.35 1305.9,322.38 1306.6,322.43 1307.3,322.48 1308,322.49 1308.7,322.54 1309.4,322.86 1310.1,322.86 1310.8,323.12 1311.5,323.28 1312.2,323.43 1312.9,323.39 1313.6,323.46 1314.3,323.37 1315,323.4 1315.7,323.53 1316.4,323.69 1317.1,323.81 1317.8,323.83 1318.5,324 1319.2,324.07 1319.9,324.23 1320.6,324.08 1321.3,324.19 1322,324.24 1322.7,324.29 1323.4,324.53 1324.1,324.41 1324.8,324.57 1325.5,324.77 1326.2,325.02 1326.9,325.09 1327.6,325.33 1328.3,325.44 1329,325.37 1329.7,325.26 1330.4,325.37 1331.1,325.36 1331.8,325.56 1332.5,325.47 1333.2,325.55 1333.9,325.76 1334.6,325.85 1335.3,325.89 1336,326.14 1336.7,326.2 1337.4,326.22 1338.1,326.22 1338.8,326.28 1339.5,326.27 1340.2,326.51 1340.9,326.68 1341.6,326.76 1342.3,327 1343,327.39 1343.7,327.25 1344.4,327.3 1345.1,327.5 1345.8,327.46 1346.5,327.5 1347.2,327.61 1347.9,327.59 1348.6,327.66 1349.3,327.61 1350,327.63 1350.7,327.54 1351.4,327.36 1352.1,327.58 1352.8,327.45 1353.5,327.72 1354.2,327.76 1354.9,327.73 1355.6,327.91 1356.3,328.05 1357,328.01 1357.7,328.16 1358.4,328.19 1359.1,328.26 1359.8,328.37 1360.5,328.55 1361.2,328.54 1361.9,328.53 1362.6,328.56 1363.3,328.61 1364,328.65 1364.7,328.7 1365.4,328.63 1366.1,328.87 1366.8,328.81 1367.5,328.75 1368.2,329.03 1368.9,328.94 1369.6,329.04 1370.3,329.08 1371,329.08 1371.7,329.2 1372.4,329.2 1373.1,329.3 1373.8,329.36 1374.5,329.5 1375.2,329.55 1375.9,329.72 1376.6,329.85 1377.3,329.84 1378,329.82 1378.7,329.72 1379.4,329.89 1380.1,329.9 1380.8,330.1 1381.5,329.93 1382.2,330.19 1382.9,330.29 1383.6,330.5 1384.3,330.47 1385,330.62 1385.7,330.91 1386.4,330.93 1387.1,330.84 1387.8,331.08 1388.5,331.2 1389.2,331.04 1389.9,331.09 1390.6,331.03 1391.3,330.9 1392,330.93 1392.7,331.16 1393.4,331.3 1394.1,331.31 1394.8,331.56 1395.5,331.57 1396.2,331.75 1396.9,331.76 1397.6,331.71 1398.3,331.85 1399,331.83 1399.7,331.7 1400.4,331.86 1401.1,331.9 1401.8,331.94 1402.5,331.97 1403.2,332.03 1403.9,331.95 1404.6,332.24 1405.3,332.27 1406,332.36 1406.7,332.41 1407.4,332.51 1408.1,332.57 1408.8,332.56 1409.5,332.59 1410.2,332.75 1410.9,332.86 1411.6,332.86 1412.3,333.02 1413,332.92 1413.7,333.1 1414.4,333.18 1415.1,333.41 1415.8,333.55 1416.5,333.49 1417.2,333.67 1417.9,333.69 1418.6,333.72 1419.3,333.87 1420,333.9 1420.7,334.15 1421.4,334.17 1422.1,334.29 1422.8,334.31 1423.5,334.2 1424.2,334.49 1424.9,334.47 1425.6,334.34 1426.3,334.54 1427,334.64 1427.7,334.71 1428.4,334.57 1429.1,334.73 1429.8,334.74 1430.5,334.75 1431.2,334.79 1431.9,334.88 1432.6,334.97 1433.3,335.08 1434,335.12 1434.7,335.16 1435.4,335.45 1436.1,335.55 1436.8,335.55 1437.5,335.71 1438.2,335.89 1438.9,335.85 1439.6,336.12 1440.3,336.35 1441,336.22 1441.7,336.17 1442.4,336.37 1443.1,336.24 1443.8,336.27 1444.5,336.26 1445.2,336.35 1445.9,336.27 1446.6,336.34 1447.3,336.38 1448,336.59 1448.7,336.52 1449.4,336.6 1450.1,336.38 1450.8,336.47 1451.5,336.61 1452.2,336.47 1452.9,336.51 1453.6,336.69 1454.3,336.83 1455,336.96 1455.7,337.15 1456.4,337.26 1457.1,337.36 1457.8,337.38 1458.5,337.4 1459.2,337.49 1459.9,337.51 1460.6,337.73 1461.3,337.74 1462,337.67 1462.7,337.62 1463.4,337.73 1464.1,337.73 1464.8,337.84 1465.5,337.88 1466.2,338.1 1466.9,338.18 1467.6,338.4 1468.3,338.48 1469,338.46 1469.7,338.4 1470.4,338.54 1471.1,338.48 1471.8,338.52 1472.5,338.51 1473.2,338.55 1473.9,338.58 1474.6,338.53 1475.3,338.53 1476,338.63 1476.7,338.8 1477.4,338.89 1478.1,338.91 1478.8,338.97 1479.5,339.15 1480.2,339.07 1480.9,339.05 1481.6,339.14 1482.3,339.29 1483,339.44 1483.7,339.51 1484.4,339.53 1485.1,339.69 1485.8,339.72 1486.5,339.77 1487.2,339.88 1487.9,340.05 1488.6,340.1 1489.3,339.96 1490,339.96 1490.7,340.04 1491.4,340.17 1492.1,339.94 1492.8,339.94 1493.5,340.06 1494.2,340.08 1494.9,340.01 1495.6,340.06 1496.3,340.13 1497,340.07 1497.7,340.29 1498.4,340.43 1499.1,340.55 1499.8,340.67 1500.5,340.66 1501.2,340.63 1501.9,340.88 1502.6,340.91 1503.3,340.88 1504,341.06 1504.7,341.13 1505.4,341.13 1506.1,341.06 1506.8,341.26 1507.5,341.32 1508.2,341.37 1508.9,341.39 1509.6,341.28 1510.3,341.34 1511,341.41 1511.7,341.16 1512.4,341.35 1513.1,341.37 1513.8,341.57 1514.5,341.65 1515.2,341.87 1515.9,341.86 1516.6,342.01 1517.3,341.93 1518,342.02 1518.7,342.02 1519.4,342.12 1520.1,341.96 1520.8,342.01 1521.5,342.23 1522.2,342.2 1522.9,342.33 1523.6,342.19 1524.3,342.3 1525,342.33 1525.7,342.42 1526.4,342.3 1527.1,342.29 1527.8,342.37 1528.5,342.34 1529.2,342.34 1529.9,342.49 1530.6,342.35 1531.3,342.45 1532,342.65 1532.7,342.57 1533.4,342.63 1534.1,342.72 1534.8,342.81 1535.5,342.81 1536.2,342.76 1536.9,342.89 1537.6,343.11 1537.9,343.07" stroke="#0000ff"/>
<polyline points="1072.1,65.5 1072.8,67.81 1073.5,70.12 1074.2,72.43 1074.9,74.74 1075.6,77.05 1076.3,79.36 1077,81.67 1077.7,84.17 1078.4,86.26 1079.1,88.15 1079.8,90.03 1080.5,91.99 1081.2,93.83 1081.9,95.98 1082.6,98.24 1083.3,100.51 1084,102.85 1084.7,105.02 1085.4,107.29 1086.1,109.55 1086.8,111.92 1087.5,113.79 1088.2,115.93 1088.9,118 1089.6,120.1 1090.3,122.27 1091,124.26 1091.7,126.52 1092.4,128.69 1093.1,130.72 1093.8,132.63 1094.5,134.32 1095.2,136.03 1095.9,137.66 1096.6,139.39 1097.3,141.11 1098,142.78 1098.7,144.52 1099.4,146.23 1100.1,147.95 1100.8,149.53 1101.5,151.22 1102.2,152.82 1102.9,154.42 1103.6,155.88 1104.3,157.32 1105,158.9 1105.7,160.63 1106.4,162.12 1107.1,163.61 1107.8,165.19 1108.5,166.74 1109.2,168.25 1109.9,169.71 1110.6,170.97 1111.3,172.15 1112,173.43 1112.7,174.6 1113.4,176.07 1114.1,177.35 1114.8,178.68 1115.5,180.09 1116.2,181.37 1116.9,182.53 1117.6,183.71 1118.3,185.01 1119,186.18 1119.7,187.17 1120.4,187.93 1121.1,189.13 1121.8,190.08 1122.5,191.12 1123.2,192.07 1123.9,193.04 1124.6,194.05 1125.3,195.05 1126,196 1126.7,197.03 1127.4,197.96 1128.1,198.65 1128.8,199.29 1129.5,199.99 1130.2,200.78 1130.9,201.47 1131.6,202.14 1132.3,202.76 1133,203.53 1133.7,204.14 1134.4,204.73 1135.1,205.59 1135.8,206.04 1136.5,206.75 1137.2,207.22 1137.9,207.73 1138.6,208.19 1139.3,208.83 1140,209.49 1140.7,209.98 1141.4,210.4 1142.1,210.78 1142.8,211.32 1143.5,211.8 1144.2,212.32 1144.9,212.76 1145.6,213.26 1146.3,213.63 1147,214.16 1147.7,214.72 1148.4,215.01 1149.1,215.6 1149.8,216.14 1150.5,216.52 1151.2,216.88 1151.9,217.48 1152.6,217.76 1153.3,218.29 1154,218.68 1154.7,219.18 1155.4,219.6 1156.1,219.97 1156.8,220.5 1157.5,220.9 1158.2,221.28 1158.9,221.7 1159.6,222.33 1160.3,222.65 1161,223.17 1161.7,223.62 1162.4,224.09 1163.1,224.51 1163.8,225.06 1164.5,225.54 1165.2,226.07 1165.9,226.47 1166.6,226.89 1167.3,227.39 1168,227.92 1168.7,228.39 1169.4,228.87 1170.1,229.27 1170.8,229.78 1171.5,230.22 1172.2,230.75 1172.9,231.1 1173.6,231.56 1174.3,232.02 1175,232.5 1175.7,232.83 1176.4,233.3 1177.1,233.76 1177.8,234.12 1178.5,234.74 1179.2,235.18 1179.9,235.58 1180.6,236.2 1181.3,236.55 1182,237.05 1182.7,237.48 1183.4,237.9 1184.1,238.24 1184.8,238.93 1185.5,239.37 1186.2,239.78 1186.9,240.34 1187.6,240.88 1188.3,241.35 1189,241.71 1189.7,242.06 1190.4,242.52 1191.1,242.84 1191.8,243.26 1192.5,243.7 1193.2,243.98 1193.9,244.47 1194.6,244.75 1195.3,245.19 1196,245.57 1196.7,246.09 1197.4,246.59 1198.1,247.02 1198.8,247.54 1199.5,247.96 1200.2,248.4 1200.9,248.84 1201.6,249.21 1202.3,249.57 1203,249.95 1203.7,250.2 1204.4,250.62 1205.1,250.83 1205.8,251.21 1206.5,251.46 1207.2,251.85 1207.9,252.28 1208.6,252.56 1209.3,252.95 1210,253.16 1210.7,253.53 1211.4,253.95 1212.1,254.31 1212.8,254.7 1213.5,254.97 1214.2,255.47 1214.9,255.83 1215.6,256.21 1216.3,256.59 1217,256.86 1217.7,257.1 1218.4,257.45 1219.1,257.74 1219.8,258.06 1220.5,258.46 1221.2,258.9 1221.9,259.16 1222.6,259.52 1223.3,259.86 1224,260.2 1224.7,260.6 1225.4,260.87 1226.1,261.19 1226.8,261.46 1227.5,261.83 1228.2,262.05 1228.9,262.45 1229.6,262.7 1230.3,263.08 1231,263.31 1231.7,263.69 1232.4,264.01 1233.1,264.31 1233.8,264.73 1234.5,264.99 1235.2,265.27 1235.9,265.68 1236.6,265.94 1237.3,266.28 1238,266.64 1238.7,266.98 1239.4,267.38 1240.1,267.54 1240.8,267.97 1241.5,268.39 1242.2,268.68 1242.9,269.06 1243.6,269.48 1244.3,269.68 1245,270.08 1245.7,270.45 1246.4,270.71 1247.1,270.96 1247.8,271.28 1248.5,271.63 1249.2,271.91 1249.9,272.29 1250.6,272.55 1251.3,272.69 1252,273.11 1252.7,273.38 1253.4,273.69 1254.1,273.88 1254.8,274.13 1255.5,274.44 1256.2,274.79 1256.9,274.99 1257.6,275.29 1258.3,275.48 1259,275.66 1259.7,275.88 1260.4,276.3 1261.1,276.43 1261.8,276.78 1262.5,277.08 1263.2,277.35 1263.9,277.67 1264.6,277.97 1265.3,278.35 1266,278.49 1266.7,278.73 1267.4,279.03 1268.1,279.33 1268.8,279.55 1269.5,279.89 1270.2,280.13 1270.9,280.57 1271.6,280.88 1272.3,281.21 1273,281.31 1273.7,281.72 1274.4,281.9 1275.1,282.08 1275.8,282.31 1276.5,282.58 1277.2,282.83 1277.9,283.22 1278.6,283.44 1279.3,283.72 1280,284.07 1280.7,284.31 1281.4,284.54 1282.1,284.82 1282.8,285.07 1283.5,285.43 1284.2,285.68 1284.9,285.86 1285.6,286.17 1286.3,286.52 1287,286.71 1287.7,287.09 1288.4,287.3 1289.1,287.59 1289.8,287.73 1290.5,288.16 1291.2,288.41 1291.9,288.7 1292.6,289 1293.3,289.31 1294,289.57 1294.7,289.95 1295.4,290.16 1296.1,290.32 1296.8,290.45 1297.5,290.65 1298.2,290.79 1298.9,290.79 1299.6,290.93 1300.3,291.23 1301,291.32 1301.7,291.61 1302.4,291.53 1303.1,291.74 1303.8,291.87 1304.5,292.11 1305.2,292.35 1305.9,292.56 1306.6,292.63 1307.3,292.94 1308,293.01 1308.7,293.29 1309.4,293.48 1310.1,293.7 1310.8,293.83 1311.5,294.13 1312.2,294.25 1312.9,294.43 1313.6,294.58 1314.3,294.71 1315,294.97 1315.7,295.12 1316.4,295.29 1317.1,295.53 1317.8,295.56 1318.5,295.75 1319.2,295.93 1319.9,296.14 1320.6,296.29 1321.3,296.56 1322,296.75 1322.7,296.85 1323.4,297.12 1324.1,297.26 1324.8,297.5 1325.5,297.65 1326.2,297.86 1326.9,297.99 1327.6,298.11 1328.3,298.28 1329,298.35 1329.7,298.35 1330.4,298.48 1331.1,298.63 1331.8,298.8 1332.5,298.83 1333.2,298.99 1333.9,299.16 1334.6,299.33 1335.3,299.44 1336,299.61 1336.7,299.65 1337.4,299.71 1338.1,299.76 1338.8,299.9 1339.5,299.9 1340.2,300.04 1340.9,300.18 1341.6,300.36 1342.3,300.32 1343,300.56 1343.7,300.69 1344.4,300.88 1345.1,301.04 1345.8,301.23 1346.5,301.29 1347.2,301.39 1347.9,301.45 1348.6,301.54 1349.3,301.74 1350,301.75 1350.7,302.05 1351.4,302.15 1352.1,302.33 1352.8,302.4 1353.5,302.56 1354.2,302.74 1354.9,302.92 1355.6,303.1 1356.3,303.2 1357,303.31 1357.7,303.4 1358.4,303.38 1359.1,303.51 1359.8,303.5 1360.5,303.62 1361.2,303.81 1361.9,303.85 1362.6,304.1 1363.3,304.15 1364,304.28 1364.7,304.27 1365.4,304.32 1366.1,304.34 1366.8,304.3 1367.5,304.27 1368.2,304.3 1368.9,304.55 1369.6,304.57 1370.3,304.68 1371,304.79 1371.7,304.87 1372.4,305 1373.1,305.04 1373.8,305 1374.5,304.98 1375.2,305.04 1375.9,305.04 1376.6,305.06 1377.3,305.19 1378,305.21 1378.7,305.39 1379.4,305.39 1380.1,305.51 1380.8,305.65 1381.5,305.73 1382.2,305.8 1382.9,306.08 1383.6,306.16 1384.3,306.09 1385,306.23 1385.7,306.2 1386.4,306.33 1387.1,306.29 1387.8,306.43 1388.5,306.49 1389.2,306.63 1389.9,306.67 1390.6,306.66 1391.3,306.81 1392,306.81 1392.7,306.86 1393.4,306.88 1394.1,306.86 1394.8,307.02 1395.5,306.92 1396.2,307.05 1396.9,307.14 1397.6,307.16 1398.3,307.12 1399,307.21 1399.7,307.33 1400.4,307.39 1401.1,307.45 1401.8,307.31 1402.5,307.46 1403.2,307.44 1403.9,307.54 1404.6,307.44 1405.3,307.55 1406,307.61 1406.7,307.57 1407.4,307.6 1408.1,307.6 1408.8,307.76 1409.5,307.69 1410.2,307.77 1410.9,307.86 1411.6,307.92 1412.3,308.1 1413,308.06 1413.7,308.05 1414.4,308.17 1415.1,308.21 1415.8,308.26 1416.5,308.28 1417.2,308.32 1417.9,308.26 1418.6,308.27 1419.3,308.33 1420,308.32 1420.7,308.47 1421.4,308.61 1422.1,308.65 1422.8,308.68 1423.5,308.75 1424.2,308.77 1424.9,308.81 1425.6,308.97 1426.3,308.94 1427,309.1 1427.7,309.15 1428.4,309.22 1429.1,309.15 1429.8,309.12 1430.5,309.05 1431.2,308.95 1431.9,308.99 1432.6,309.08 1433.3,309.16 1434,309.25 1434.7,309.19 1435.4,309.26 1436.1,309.41 1436.8,309.4 1437.5,309.61 1438.2,309.54 1438.9,309.49 1439.6,309.59 1440.3,309.75 1441,309.62 1441.7,309.78 1442.4,309.75 1443.1,309.96 1443.8,309.91 1444.5,309.93 1445.2,309.94 1445.9,310.04 1446.6,309.99 1447.3,310.15 1448,310.33 1448.7,310.26 1449.4,310.27 1450.1,310.25 1450.8,310.35 1451.5,310.34 1452.2,310.35 1452.9,310.53 1453.6,310.54 1454.3,310.54 1455,310.72 1455.7,310.7 1456.4,310.79 1457.1,310.82 1457.8,310.92 1458.5,310.93 1459.2,310.93 1459.9,311.03 1460.6,311.02 1461.3,311.09 1462,311.21 1462.7,311.12 1463.4,311.17 1464.1,311.24 1464.8,311.32 1465.5,311.5 1466.2,311.43 1466.9,311.71 1467.6,311.76 1468.3,311.72 1469,311.77 1469.7,311.75 1470.4,311.82 1471.1,311.83 1471.8,311.85 1472.5,311.86 1473.2,311.93 1473.9,311.84 1474.6,311.89 1475.3,311.85 1476,311.88 1476.7,311.92 1477.4,311.95 1478.1,312.02 1478.8,312 1479.5,312.08 1480.2,312.11 1480.9,312.18 1481.6,312.29 1482.3,312.4 1483,312.51 1483.7,312.54 1484.4,312.67 1485.1,312.65 1485.8,312.69 1486.5,312.77 1487.2,312.84 1487.9,312.82 1488.6,312.82 1489.3,312.85 1490,312.97 1490.7,312.84 1491.4,313.01 1492.1,312.9 1492.8,312.96 1493.5,313.01 1494.2,313.01 1494.9,313.13 1495.6,313.08 1496.3,313.08 1497,313.19 1497.7,313.2 1498.4,313.21 1499.1,313.37 1499.8,313.45 1500.5,313.48 1501.2,313.39 1501.9,313.59 1502.6,313.51 1503.3,313.6 1504,313.66 1504.7,313.75 1505.4,313.56 1506.1,313.61 1506.8,313.74 1507.5,313.73 1508.2,313.71 1508.9,313.61 1509.6,313.83 1510.3,313.83 1511,313.75 1511.7,314.06 1512.4,313.85 1513.1,314.01 1513.8,314.1 1514.5,314.17 1515.2,314.26 1515.9,314.26 1516.6,314.27 1517.3,314.33 1518,314.27 1518.7,314.35 1519.4,314.54 1520.1,314.44 1520.8,314.49 1521.5,314.62 1522.2,314.61 1522.9,314.59 1523.6,314.64 1524.3,314.62 1525,314.6 1525.7,314.71 1526.4,314.69 1527.1,314.78 1527.8,314.7 1528.5,314.7 1529.2,314.75 1529.9,314.72 1530.6,314.72 1531.3,314.7 1532,314.77 1532.7,314.84 1533.4,315 1534.1,314.98 1534.8,314.98 1535.5,315.17 1536.2,315.34 1536.9,315.25 1537.6,315.28 1537.9,315.33" stroke="#00ff00"/>
</g>
<path d="M1072.1,397.3v-4.6M1072.1,40.5v4.6M1149.67,397.3v-4.6M1149.67,40.5v4.6M1227.23,397.3v-4.6M1227.23,40.5v4.6M1304.8,397.3v-4.6M1304.8,40.5v4.6M1382.37,397.3v-4.6M1382.37,40.5v4.6M1459.93,397.3v-4.6M1459.93,40.5v4.6M1537.5,397.3v-4.6M1537.5,40.5v4.6M1072.1,40.5h4.6M1537.5,40.5h-4.6M1072.1,129.7h4.6M1537.5,129.7h-4.6M1072.1,102.85h2.76M1537.5,102.85h-2.76M1072.1,87.14h2.76M1537.5,87.14h-2.76M1072.1,76h2.76M1537.5,76h-2.76M1072.1,67.35h2.76M1537.5,67.35h-2.76M1072.1,60.29h2.76M1537.5,60.29h-2.76M1072.1,54.32h2.76M1537.5,54.32h-2.76M1072.1,49.14h2.76M1537.5,49.14h-2.76M1072.1,44.58h2.76M1537.5,44.58h-2.76M1072.1,218.9h4.6M1537.5,218.9h-4.6M1072.1,192.05h2.76M1537.5,192.05h-2.76M1072.1,176.34h2.76M1537.5,176.34h-2.76M1072.1,165.2h2.76M1537.5,165.2h-2.76M1072.1,156.55h2.76M1537.5,156.55h-2.76M1072.1,149.49h2.76M1537.5,149.49h-2.76M1072.1,143.52h2.76M1537.5,143.52h-2.76M1072.1,138.34h2.76M1537.5,138.34h-2.76M1072.1,133.78h2.76M1537.5,133.78h-2.76M1072.1,308.1h4.6M1537.5,308.1h-4.6M1072.1,281.25h2.76M1537.5,281.25h-2.76M1072.1,265.54h2.76M1537.5,265.54h-2.76M1072.1,254.4h2.76M1537.5,254.4h-2.76M1072.1,245.75h2.76M1537.5,245.75h-2.76M1072.1,238.69h2.76M1537.5,238.69h-2.76M1072.1,232.72h2.76M1537.5,232.72h-2.76M1072.1,227.54h2.76M1537.5,227.54h-2.76M1072.1,222.98h2.76M1537.5,222.98h-2.76M1072.1,397.3h4.6M1537.5,397.3h-4.6M1072.1,370.45h2.76M1537.5,370.45h-2.76M1072.1,354.74h2.76M1537.5,354.74h-2.76M1072.1,343.6h2.76M1537.5,343.6h-2.76M1072.1,334.95h2.76M1537.5,334.95h-2.76M1072.1,327.89h2.76M1537.5,327.89h-2.76M1072.1,321.92h2.76M1537.5,321.92h-2.76M1072.1,316.74h2.76M1537.5,316.74h-2.76M1072.1,312.18h2.76M1537.5,312.18h-2.76" stroke="#7a7a7a" stroke-width="1" fill="none"/>
<rect x="1072.1" y="40.5" width="465.4" height="356.8" fill="none" stroke="#7a7a7a" stroke-width="1"/>
<text x="1065.1" y="49" text-anchor="end" class="tl">10<tspan dy="-7.6" font-size="11.5">0</tspan></text>
<text x="1065.1" y="138.2" text-anchor="end" class="tl">10<tspan dy="-7.6" font-size="11.5">-1</tspan></text>
<text x="1065.1" y="227.4" text-anchor="end" class="tl">10<tspan dy="-7.6" font-size="11.5">-2</tspan></text>
<text x="1065.1" y="316.6" text-anchor="end" class="tl">10<tspan dy="-7.6" font-size="11.5">-3</tspan></text>
<text x="1065.1" y="405.8" text-anchor="end" class="tl">10<tspan dy="-7.6" font-size="11.5">-4</tspan></text>
<text x="1072.1" y="417.7" text-anchor="middle" class="tl">0</text>
<text x="1149.67" y="417.7" text-anchor="middle" class="tl">1</text>
<text x="1227.23" y="417.7" text-anchor="middle" class="tl">2</text>
<text x="1304.8" y="417.7" text-anchor="middle" class="tl">3</text>
<text x="1382.37" y="417.7" text-anchor="middle" class="tl">4</text>
<text x="1459.93" y="417.7" text-anchor="middle" class="tl">5</text>
<text x="1537.5" y="417.7" text-anchor="middle" class="tl">6</text>
<text x="1503.9" y="441.9" class="tl" style="font-size:17px">×</text>
<text x="1515.7" y="441.9" class="tl">10<tspan x="1530.9" dy="-8.3" font-size="11.5">4</tspan></text>
<text transform="translate(1150.4,22.5) scale(1.081,1)" class="tt">relative noise level</text>
<text x="1361.4" y="22.5" class="dl tt2" style="font-size:23.5px">δ</text>
<text transform="translate(1372.9,33.3) scale(1.1,1)" class="tt" style="font-size:16px">rel</text>
<text transform="translate(1401.2,22.5) scale(1.1,1)" class="tt">=0.01</text>
<rect x="1409.6" y="51.8" width="116" height="95.2" fill="#fff" stroke="#7a7a7a" stroke-width="1"/>
<path d="M1413.6,70h42.7" stroke="#ff0000" stroke-width="1.5"/>
<text x="1460" y="73.7" class="mu">μ</text>
<text x="1470.6" y="80.7" class="lg" style="font-size:12px">0</text>
<text x="1483.4" y="72.5" class="lg">=</text>
<text x="1497.4" y="73.7" class="lg">2.0</text>
<path d="M1413.6,100h42.7" stroke="#0000ff" stroke-width="1.5"/>
<text x="1460" y="103.7" class="mu">μ</text>
<text x="1470.6" y="110.7" class="lg" style="font-size:12px">0</text>
<text x="1483.4" y="102.5" class="lg">=</text>
<text x="1497.4" y="103.7" class="lg">1.0</text>
<path d="M1413.6,130h42.7" stroke="#00ff00" stroke-width="1.5"/>
<text x="1460" y="133.7" class="mu">μ</text>
<text x="1470.6" y="140.7" class="lg" style="font-size:12px">0</text>
<text x="1483.4" y="132.5" class="lg">=</text>
<text x="1497.4" y="133.7" class="lg">0.4</text>
<clipPath id="c3"><rect x="38.2" y="482.4" width="465.4" height="356.8"/></clipPath>
<g clip-path="url(#c3)" fill="none" stroke-width="1.7" stroke-linejoin="round">
<polyline points="38.2,528.5 38.9,565.6 39.6,588.72 40.3,609.52 41,625.73 41.7,635.83 42.4,655.4 43.1,667.73 43.8,676.1 44.5,692.98 45.2,722.71 45.9,744.27 46.6,737.66 47.3,722.66 48,702.53 48.7,713.61 49.4,732.03 50.1,740.3 50.8,768.76 51.5,776.48 52.2,757.42 52.9,749.77 53.6,735.38 54.3,757.55 55,773.7 55.7,791.23 56.4,801.46 57.1,804.97 57.8,790.42 58.5,781.94 59.2,779.54 59.9,763.09 60.6,758.67 61.3,758.66 62,763.62 62.7,770.49 63.4,768.7 64.1,771.89 64.8,766.73 65.5,769.12 66.2,748.31 66.9,733.91 67.6,726.93 68.3,734.57 69,736.79 69.7,750.62 70.4,757.6 71.1,756.06 71.8,750.71 72.5,749.35 73.2,737.71 73.9,732.72 74.6,725.45 75.3,717.09 76,711.36 76.7,709.68 77.4,707.18 78.1,707.23 78.8,701.1 79.5,699.4 80.2,692.09 80.9,688.3 81.6,690.01 82.3,693.6 83,684.74 83.7,690.96 84.4,688.14 85.1,689.43 85.8,688.79 86.5,691.23 87.2,696.54 87.9,697.01 88.6,697.72 89.3,698.22 90,699.46 90.7,700.77 91.4,696.03 92.1,693.72 92.8,693.73 93.5,708.66 94.2,717.15 94.9,725.93 95.6,742.67 96.3,725.84 97,709.24 97.7,702.67 98.4,714.11 99.1,713.57 99.8,715.09 100.5,720.64 101.2,719.37 101.9,707.58 102.6,696.03 103.3,683.8 104,677.66 104.7,676.6 105.4,669.6 106.1,663.74 106.8,655.41 107.5,655.58 108.2,658.24 108.9,656.98 109.6,652.94 110.3,658.43 111,663.76 111.7,660.51 112.4,665.73 113.1,669.77 113.8,672.98 114.5,666.05 115.2,662.8 115.9,662.11 116.6,656.38 117.3,646.75 118,645.42 118.7,652.6 119.4,665.23 120.1,663.73 120.8,678.78 121.5,682.56 122.2,687.48 122.9,681.91 123.6,680.51 124.3,679.84 125,676.82 125.7,678.61 126.4,669.77 127.1,670.09 127.8,673.83 128.5,677.29 129.2,684.41 129.9,684.4 130.6,688.35 131.3,691.68 132,696.08 132.7,697.86 133.4,702.78 134.1,701.99 134.8,704.58 135.5,706.78 136.2,711.61 136.9,710.76 137.6,717.35 138.3,715.58 139,720.79 139.7,725.9 140.4,722.79 141.1,723.54 141.8,722.12 142.5,724.46 143.2,715.57 143.9,711.25 144.6,700 145.3,696.47 146,693.24 146.7,687.62 147.4,685.07 148.1,681.83 148.8,684.98 149.5,686.37 150.2,685.71 150.9,679.73 151.6,678.84 152.3,678.42 153,681.15 153.7,686.1 154.4,690.47 155.1,697.95 155.8,695.89 156.5,701.05 157.2,692.31 157.9,701.33 158.6,698.94 159.3,697.4 160,697.95 160.7,694.94 161.4,696.17 162.1,690.62 162.8,681.93 163.5,680.54 164.2,688.66 164.9,682.52 165.6,685.13 166.3,679.59 167,678.96 167.7,680.09 168.4,682.2 169.1,682.09 169.8,680.06 170.5,683.38 171.2,683.41 171.9,678.89 172.6,678.14 173.3,675.55 174,680.03 174.7,681.25 175.4,679.8 176.1,680.6 176.8,681.39 177.5,681.13 178.2,681.94 178.9,680.46 179.6,677.12 180.3,676.83 181,668.71 181.7,670.94 182.4,668.48 183.1,663.74 183.8,664.04 184.5,666.46 185.2,664.68 185.9,660.18 186.6,662.36 187.3,669.57 188,668.99 188.7,668.18 189.4,673.1 190.1,668.08 190.8,671.05 191.5,675.06 192.2,672.21 192.9,670.82 193.6,676.45 194.3,680.09 195,666.61 195.7,672.42 196.4,666.67 197.1,667.57 197.8,662.64 198.5,672.23 199.2,661.28 199.9,661.65 200.6,657.85 201.3,655.36 202,655.19 202.7,656.38 203.4,661.14 204.1,657.4 204.8,661.41 205.5,654.37 206.2,657.98 206.9,657.04 207.6,654.35 208.3,669.81 209,659.09 209.7,660.96 210.4,658.51 211.1,659.08 211.8,657.85 212.5,663.74 213.2,659.86 213.9,660.75 214.6,661.65 215.3,657.51 216,661.47 216.7,660.17 217.4,661.75 218.1,659.24 218.8,660.48 219.5,661.91 220.2,663.25 220.9,658.65 221.6,663.42 222.3,658.07 223,661.17 223.7,662.92 224.4,663.8 225.1,656.51 225.8,660.72 226.5,662.52 227.2,664.75 227.9,659.24 228.6,664.59 229.3,654.32 230,658.72 230.7,659.37 231.4,657.33 232.1,657.46 232.8,658.66 233.5,652.26 234.2,654.72 234.9,653.98 235.6,648.23 236.3,640.26 237,641.36 237.7,640.22 238.4,637.63 239.1,640.83 239.8,637.45 240.5,646.84 241.2,641.56 241.9,636.37 242.6,639.74 243.3,645.63 244,644 244.7,639.96 245.4,646.53 246.1,643.03 246.8,650.76 247.5,643.12 248.2,646.58 248.9,646.69 249.6,644.05 250.3,645.23 251,650.19 251.7,649.56 252.4,649.23 253.1,651.9 253.8,656.84 254.5,655.42 255.2,653.96 255.9,652.6 256.6,646.29 257.3,650.15 258,647.44 258.7,649.15 259.4,643.31 260.1,644.25 260.8,637.96 261.5,641.41 262.2,634.78 262.9,637.07 263.6,639.09 264.3,636.86 265,638.1 265.7,642.46 266.4,645.77 267.1,636.36 267.8,639.59 268.5,644.74 269.2,646.17 269.9,642.86 270.6,644.93 271.3,644.41 272,651.69 272.7,644.98 273.4,642.48 274.1,641.75 274.8,642.41 275.5,648.94 276.2,642.62 276.9,647.69 277.6,642.44 278.3,640.25 279,639.9 279.7,639.23 280.4,638.51 281.1,632.06 281.8,632.16 282.5,631.48 283.2,633.13 283.9,631.93 284.6,628.96 285.3,630.28 286,637.1 286.7,637.34 287.4,628.21 288.1,632.18 288.8,631.49 289.5,629.68 290.2,634.57 290.9,632.44 291.6,637.44 292.3,634.1 293,632.01 293.7,624.93 294.4,631.19 295.1,632.87 295.8,627.46 296.5,630.97 297.2,629.39 297.9,621.47 298.6,625.09 299.3,625.88 300,626.44 300.7,624.07 301.4,622.92 302.1,620.99 302.8,620.9 303.5,621.61 304.2,618.47 304.9,623.16 305.6,620.3 306.3,622.41 307,618.22 307.7,619.52 308.4,617.43 309.1,618.31 309.8,615.81 310.5,616.07 311.2,612.18 311.9,612.35 312.6,612.11 313.3,609.65 314,613.19 314.7,617.24 315.4,617.07 316.1,613.23 316.8,617.22 317.5,619.23 318.2,614 318.9,619.35 319.6,619.82 320.3,621.54 321,620.67 321.7,615.45 322.4,614.07 323.1,623.7 323.8,615.3 324.5,618.34 325.2,616.64 325.9,611.64 326.6,607.53 327.3,614.76 328,610.93 328.7,612.64 329.4,612.66 330.1,614.15 330.8,614.64 331.5,608.14 332.2,609.04 332.9,614.47 333.6,615.14 334.3,618.18 335,615.32 335.7,614.92 336.4,620.87 337.1,618.76 337.8,617.87 338.5,616.88 339.2,610.91 339.9,612.07 340.6,611.29 341.3,607.58 342,607.4 342.7,609.85 343.4,605.67 344.1,610.31 344.8,609.81 345.5,607.5 346.2,606.91 346.9,608.15 347.6,606.39 348.3,604.65 349,598.76 349.7,596.21 350.4,605.34 351.1,597 351.8,597.08 352.5,592.67 353.2,595.89 353.9,596.38 354.6,601.31 355.3,592.45 356,596.81 356.7,600.44 357.4,601.06 358.1,601.1 358.8,603 359.5,600.75 360.2,606.92 360.9,609.84 361.6,607.08 362.3,605.2 363,609.62 363.7,606.79 364.4,601.87 365.1,602.49 365.8,601.74 366.5,602.6 367.2,605.3 367.9,599.05 368.6,600.11 369.3,601.13 370,597.76 370.7,600.63 371.4,604.81 372.1,607.4 372.8,600.04 373.5,608.41 374.2,606.71 374.9,611.3 375.6,609.53 376.3,613.48 377,608.09 377.7,605.09 378.4,602.92 379.1,600.46 379.8,605.31 380.5,604.45 381.2,604.54 381.9,602.47 382.6,596.58 383.3,599 384,598.82 384.7,599.58 385.4,601.58 386.1,603.72 386.8,601.65 387.5,596.29 388.2,600.53 388.9,598.63 389.6,603.79 390.3,603.75 391,608.55 391.7,608 392.4,612.5 393.1,613.16 393.8,609.58 394.5,614.07 395.2,610.77 395.9,611.2 396.6,612.87 397.3,605.02 398,607.25 398.7,610.99 399.4,603.72 400.1,605.7 400.8,604.68 401.5,602.36 402.2,599.08 402.9,600.15 403.6,598.91 404.3,604.3 405,601.52 405.7,602.38 406.4,596.85 407.1,601.92 407.8,601.23 408.5,604.11 409.2,599.45 409.9,604.08 410.6,605.36 411.3,605.87 412,597.44 412.7,596.14 413.4,595.41 414.1,602.59 414.8,601.81 415.5,601.36 416.2,598.23 416.9,604.45 417.6,605.67 418.3,601.56 419,603.09 419.7,607.5 420.4,606.26 421.1,609.35 421.8,605.12 422.5,607.09 423.2,603.95 423.9,602.05 424.6,601.59 425.3,600.39 426,601.37 426.7,598.74 427.4,599.79 428.1,597.31 428.8,596.15 429.5,603.71 430.2,597.04 430.9,604.47 431.6,601.53 432.3,591.97 433,596.2 433.7,596.36 434.4,597.31 435.1,596.88 435.8,595.82 436.5,601.18 437.2,597.41 437.9,600.61 438.6,595.67 439.3,595.02 440,600.09 440.7,594.94 441.4,592.23 442.1,594.64 442.8,598.51 443.5,595.64 444.2,594.63 444.9,598.98 445.6,600.47 446.3,597.56 447,596.99 447.7,596.59 448.4,604.91 449.1,596.56 449.8,601.71 450.5,596.21 451.2,597.64 451.9,590.71 452.6,596.92 453.3,596.54 454,595.46 454.7,595.34 455.4,592.88 456.1,592.71 456.8,597.59 457.5,595.54 458.2,597.3 458.9,597.74 459.6,597.53 460.3,597.59 461,605.53 461.7,597.92 462.4,600.01 463.1,600.24 463.8,597.46 464.5,597.6 465.2,602.33 465.9,602.16 466.6,600.26 467.3,609.96 468,604.03 468.7,606.11 469.4,601.26 470.1,607.52 470.8,609.07 471.5,603.03 472.2,608.89 472.9,601.3 473.6,599.75 474.3,601.2 475,597.63 475.7,600.26 476.4,593.93 477.1,595.82 477.8,588.67 478.5,592.75 479.2,594.64 479.9,590.25 480.6,591.49 481.3,593.32 482,586.78 482.7,586.07 483.4,589.77 484.1,590.22 484.8,588.57 485.5,586.47 486.2,592.48 486.9,586.18 487.6,589.09 488.3,590.07 489,592.57 489.7,589.65 490.4,588.65 491.1,595.83 491.8,587.15 492.5,591.6 493.2,588.74 493.9,587.66 494.6,588.76 495.3,588.1 496,589.61 496.7,581.49 497.4,588.52 498.1,588.4 498.8,584.75 499.5,585.65 500.2,592.54 500.9,590.51 501.6,586.35 502.3,584.71 503,583.97 503.6,589.41" stroke="#ff0000"/>
<polyline points="38.2,528.5 38.9,544.99 39.6,561.48 40.3,574.81 41,583.93 41.7,593.05 42.4,602.18 43.1,611.3 43.8,613.72 44.5,625.24 45.2,628.79 45.9,634.7 46.6,648.82 47.3,658.66 48,667.48 48.7,670.87 49.4,675.89 50.1,678.31 50.8,683.13 51.5,680.37 52.2,687.06 52.9,689.33 53.6,684.17 54.3,685.73 55,692.25 55.7,699.26 56.4,702.72 57.1,707.04 57.8,720.37 58.5,714.75 59.2,722.65 59.9,715.27 60.6,725.06 61.3,733.72 62,748.64 62.7,751.42 63.4,745.55 64.1,737.2 64.8,734.55 65.5,732.87 66.2,735.1 66.9,738.21 67.6,736.63 68.3,739.14 69,744.73 69.7,747.07 70.4,742.08 71.1,747.95 71.8,752.95 72.5,760.73 73.2,760.06 73.9,777.06 74.6,787.08 75.3,790.8 76,780.85 76.7,778.21 77.4,777.61 78.1,772.35 78.8,762.93 79.5,764.42 80.2,765.03 80.9,765.57 81.6,761.74 82.3,767.17 83,762.04 83.7,770.8 84.4,789.95 85.1,787.22 85.8,780.38 86.5,772.75 87.2,773.07 87.9,767.8 88.6,763.37 89.3,755.02 90,756.28 90.7,763.06 91.4,768.07 92.1,773.65 92.8,781.08 93.5,781 94.2,787.62 94.9,783.94 95.6,777.84 96.3,774.46 97,763.48 97.7,754.29 98.4,754.88 99.1,757.52 99.8,761.73 100.5,764.16 101.2,765.35 101.9,766.12 102.6,769.57 103.3,771.87 104,775.67 104.7,776.36 105.4,776.11 106.1,777.26 106.8,786.04 107.5,783.83 108.2,785.51 108.9,787.76 109.6,792.65 110.3,778.57 111,767.69 111.7,773.63 112.4,782.79 113.1,785.7 113.8,795.87 114.5,791 115.2,782.21 115.9,771.43 116.6,761.39 117.3,755.37 118,745.31 118.7,742.2 119.4,730.57 120.1,725.88 120.8,725.82 121.5,718.08 122.2,714.93 122.9,714.64 123.6,721.98 124.3,716.1 125,720.49 125.7,717.67 126.4,720.24 127.1,725.33 127.8,724.83 128.5,716.16 129.2,713.76 129.9,719.43 130.6,711.77 131.3,709.97 132,718.75 132.7,718.35 133.4,720.67 134.1,730.56 134.8,729.1 135.5,731.51 136.2,737.67 136.9,738.96 137.6,744.63 138.3,744.03 139,749.19 139.7,749.2 140.4,752.5 141.1,752.71 141.8,752.05 142.5,755.73 143.2,757.61 143.9,756.73 144.6,757.36 145.3,760.51 146,750.79 146.7,751.95 147.4,747.54 148.1,747.43 148.8,740.72 149.5,739.78 150.2,734.43 150.9,731.39 151.6,728.12 152.3,722.42 153,726.99 153.7,722.14 154.4,723.05 155.1,722.24 155.8,721.56 156.5,719.53 157.2,722.38 157.9,715.69 158.6,722.55 159.3,726.71 160,725.69 160.7,719.03 161.4,720.14 162.1,714.98 162.8,710.44 163.5,710.32 164.2,704.7 164.9,704.82 165.6,708.51 166.3,717.95 167,714.47 167.7,722.04 168.4,721.19 169.1,719.67 169.8,711.98 170.5,706.13 171.2,702.66 171.9,697.39 172.6,702.49 173.3,694.23 174,696.52 174.7,704.51 175.4,707.18 176.1,709.14 176.8,715.4 177.5,718.6 178.2,725 178.9,728.33 179.6,725.38 180.3,728.12 181,729.83 181.7,735.43 182.4,735.16 183.1,737.37 183.8,738.96 184.5,735.91 185.2,738.41 185.9,742.09 186.6,742.43 187.3,744.25 188,743.65 188.7,745.58 189.4,746.5 190.1,750.15 190.8,750 191.5,744.94 192.2,750.1 192.9,743.58 193.6,744.68 194.3,744.03 195,739.81 195.7,735.28 196.4,741.13 197.1,736.68 197.8,732.07 198.5,732.96 199.2,730.26 199.9,723.33 200.6,723.45 201.3,716.97 202,718.67 202.7,720.77 203.4,713.27 204.1,715.74 204.8,708.01 205.5,709.35 206.2,710.8 206.9,711.4 207.6,706.91 208.3,706.33 209,710.23 209.7,701.97 210.4,706.14 211.1,717.26 211.8,720.77 212.5,717.84 213.2,718.46 213.9,720.86 214.6,722.37 215.3,720.93 216,722.73 216.7,722.64 217.4,724.95 218.1,725.16 218.8,725.3 219.5,723.39 220.2,718.58 220.9,724.32 221.6,714.41 222.3,722 223,722.79 223.7,720.75 224.4,727.17 225.1,719.73 225.8,719.75 226.5,722.15 227.2,725.95 227.9,728.27 228.6,727.96 229.3,727.17 230,720.92 230.7,717.99 231.4,716.6 232.1,709.49 232.8,710.13 233.5,705.3 234.2,704.79 234.9,697.4 235.6,698.01 236.3,697.23 237,697.12 237.7,694.82 238.4,696.3 239.1,693.57 239.8,698.52 240.5,698.91 241.2,696.28 241.9,694.12 242.6,690.62 243.3,688.63 244,688.76 244.7,685.19 245.4,685.24 246.1,689.79 246.8,689.97 247.5,689.49 248.2,689.01 248.9,691.46 249.6,690.4 250.3,691.83 251,695.52 251.7,697.54 252.4,698.37 253.1,695.55 253.8,700.92 254.5,694.9 255.2,696.68 255.9,699.63 256.6,701.66 257.3,694.54 258,691.26 258.7,689.72 259.4,686.38 260.1,687.86 260.8,685.97 261.5,683.87 262.2,687.68 262.9,680.17 263.6,684.11 264.3,679.47 265,676.59 265.7,673.86 266.4,675.29 267.1,673.29 267.8,680.94 268.5,681.34 269.2,684.89 269.9,683.97 270.6,688.8 271.3,685.54 272,685.63 272.7,694.24 273.4,697.27 274.1,687.4 274.8,699.56 275.5,696.13 276.2,697.43 276.9,694.67 277.6,696.86 278.3,701.93 279,698.73 279.7,700.95 280.4,701.15 281.1,707.04 281.8,702.08 282.5,693.64 283.2,692.91 283.9,688.26 284.6,684.76 285.3,683.62 286,690.18 286.7,690.64 287.4,695.94 288.1,697.52 288.8,700.49 289.5,704.35 290.2,703.93 290.9,707.24 291.6,705.18 292.3,699.76 293,698.61 293.7,690.19 294.4,693.42 295.1,698.73 295.8,689.55 296.5,692.56 297.2,692.56 297.9,687.33 298.6,686.67 299.3,684.87 300,688.61 300.7,687.39 301.4,691.99 302.1,691.93 302.8,689.56 303.5,696.82 304.2,690.06 304.9,689.88 305.6,691.12 306.3,687.39 307,686.28 307.7,684.82 308.4,684.99 309.1,676.34 309.8,674.52 310.5,673.94 311.2,673.26 311.9,673.24 312.6,668.19 313.3,672.1 314,666.65 314.7,667.8 315.4,668.93 316.1,672.14 316.8,670.35 317.5,670.03 318.2,669.01 318.9,670.35 319.6,670.52 320.3,668.12 321,668.55 321.7,663.23 322.4,665.24 323.1,669.39 323.8,669.84 324.5,665.82 325.2,660.34 325.9,670.32 326.6,664.17 327.3,669.43 328,660.14 328.7,662.02 329.4,656.2 330.1,660.67 330.8,661.42 331.5,657.17 332.2,664.66 332.9,670.1 333.6,663.69 334.3,662.43 335,666.66 335.7,665.3 336.4,662.24 337.1,662.11 337.8,664.22 338.5,658.94 339.2,665.55 339.9,663.86 340.6,662.22 341.3,666.17 342,660.2 342.7,663.45 343.4,657.13 344.1,658.58 344.8,659.92 345.5,655.75 346.2,655.71 346.9,659.21 347.6,663.01 348.3,664.01 349,663.44 349.7,663.14 350.4,661.16 351.1,668.84 351.8,668.86 352.5,658.17 353.2,665.56 353.9,662.83 354.6,664.94 355.3,664.5 356,663.81 356.7,664.85 357.4,665.37 358.1,669.01 358.8,664.41 359.5,662.19 360.2,663.8 360.9,662.3 361.6,660.31 362.3,658.54 363,660.88 363.7,659.24 364.4,656.17 365.1,653.9 365.8,654.97 366.5,647.24 367.2,649.42 367.9,647.6 368.6,648.56 369.3,645.79 370,651.75 370.7,646.67 371.4,646.1 372.1,651.09 372.8,645.61 373.5,645.03 374.2,649.28 374.9,648.55 375.6,649.1 376.3,650.12 377,646.42 377.7,645.93 378.4,646.09 379.1,648.04 379.8,650.19 380.5,644.76 381.2,645.96 381.9,643.7 382.6,652.51 383.3,650.07 384,649.21 384.7,646.11 385.4,647.25 386.1,648.8 386.8,650.28 387.5,646.49 388.2,648.76 388.9,652.13 389.6,648.89 390.3,648.96 391,643.51 391.7,648.2 392.4,648.65 393.1,647.32 393.8,645.71 394.5,649.37 395.2,647.67 395.9,649.54 396.6,647.61 397.3,652.48 398,656.2 398.7,652.24 399.4,655.52 400.1,651.05 400.8,656.72 401.5,656.9 402.2,654.82 402.9,658.53 403.6,653.38 404.3,655.02 405,658.52 405.7,653.49 406.4,649.94 407.1,654.69 407.8,652.07 408.5,648.94 409.2,644.02 409.9,642.73 410.6,642.68 411.3,649.26 412,645.15 412.7,641.12 413.4,646.34 414.1,647.43 414.8,642.17 415.5,646.21 416.2,641.5 416.9,647.29 417.6,651.64 418.3,643.99 419,647.99 419.7,646.39 420.4,648.02 421.1,648.66 421.8,649.37 422.5,651.15 423.2,650.04 423.9,650.72 424.6,649.93 425.3,649.48 426,644.27 426.7,646.86 427.4,644.95 428.1,643.78 428.8,650.99 429.5,646.83 430.2,646.28 430.9,639.96 431.6,644.06 432.3,645.85 433,642.62 433.7,640.95 434.4,645.3 435.1,639.79 435.8,638.82 436.5,638.44 437.2,637.17 437.9,639.5 438.6,637.78 439.3,636.31 440,636.51 440.7,637.74 441.4,643.53 442.1,639.35 442.8,642.58 443.5,637.57 444.2,643.2 444.9,644.87 445.6,647.07 446.3,645.36 447,646.64 447.7,646.35 448.4,648.52 449.1,651.34 449.8,646.87 450.5,644.46 451.2,648.25 451.9,646.59 452.6,648.67 453.3,649.18 454,647.75 454.7,646.35 455.4,648.42 456.1,644.55 456.8,648.61 457.5,645.75 458.2,649.34 458.9,648.79 459.6,647.91 460.3,644.85 461,647.61 461.7,645.22 462.4,645.99 463.1,647.1 463.8,646.73 464.5,639.96 465.2,644.66 465.9,644.76 466.6,643.27 467.3,640.39 468,638.36 468.7,641.88 469.4,635.43 470.1,631.11 470.8,634.67 471.5,634.62 472.2,630.75 472.9,629.67 473.6,637.54 474.3,632.97 475,634.06 475.7,629.95 476.4,627.03 477.1,629.77 477.8,633.03 478.5,627.51 479.2,624.67 479.9,629.02 480.6,629.36 481.3,630.67 482,628.59 482.7,631.04 483.4,631.15 484.1,635.42 484.8,634.22 485.5,636.71 486.2,635.02 486.9,630.16 487.6,631.28 488.3,638.1 489,639.5 489.7,640.09 490.4,638.47 491.1,634.82 491.8,638.99 492.5,642.03 493.2,645.29 493.9,641.68 494.6,641.5 495.3,640.88 496,645.17 496.7,644.1 497.4,636.57 498.1,643.58 498.8,638.15 499.5,636.78 500.2,636.69 500.9,638.93 501.6,646.8 502.3,647.65 503,638.31 503.6,639.98" stroke="#0000ff"/>
<polyline points="38.2,528.5 38.9,533.11 39.6,537.73 40.3,542.34 41,546.96 41.7,551.57 42.4,556.19 43.1,560.8 43.8,565.04 44.5,569.28 45.2,573.53 45.9,577.77 46.6,582.01 47.3,586.25 48,590.49 48.7,596.69 49.4,603.22 50.1,609.75 50.8,616.27 51.5,621.35 52.2,624.5 52.9,627.65 53.6,630.8 54.3,634.08 55,638.11 55.7,642.14 56.4,646.17 57.1,650.21 57.8,654.24 58.5,658.27 59.2,670.5 59.9,673.46 60.6,676.43 61.3,679.39 62,682.36 62.7,685.32 63.4,688.29 64.1,691.25 64.8,694.21 65.5,697.18 66.2,700.14 66.9,703.11 67.6,706.49 68.3,710.44 69,714.39 69.7,718.33 70.4,722.28 71.1,726.23 71.8,730.18 72.5,734.12 73.2,738.07 73.9,739.96 74.6,739.82 75.3,742.14 76,741.63 76.7,746.44 77.4,745 78.1,751.26 78.8,745.93 79.5,748.04 80.2,746.71 80.9,749 81.6,751.53 82.3,747.96 83,753.1 83.7,752.9 84.4,751.49 85.1,750.21 85.8,753.68 86.5,747.64 87.2,751.98 87.9,755.73 88.6,754.42 89.3,759.61 90,754.33 90.7,753.88 91.4,756.68 92.1,757.77 92.8,759 93.5,751.76 94.2,754.4 94.9,755.82 95.6,751.6 96.3,751.42 97,749.36 97.7,752.41 98.4,751.69 99.1,750.09 99.8,748.28 100.5,748.5 101.2,745.27 101.9,745.67 102.6,745.25 103.3,745.94 104,744.29 104.7,743.32 105.4,748.25 106.1,747.9 106.8,750.6 107.5,759.93 108.2,760.23 108.9,760.26 109.6,761.15 110.3,762.04 111,762.45 111.7,760.96 112.4,764.23 113.1,759.29 113.8,767.65 114.5,760.37 115.2,765.19 115.9,763.27 116.6,759.83 117.3,761.7 118,765 118.7,767.04 119.4,767.63 120.1,770.36 120.8,772.52 121.5,772.03 122.2,776.24 122.9,782.51 123.6,779.24 124.3,780.76 125,786.01 125.7,789.44 126.4,790.88 127.1,789.41 127.8,790.18 128.5,789.76 129.2,788 129.9,788.19 130.6,788.41 131.3,786.34 132,784.19 132.7,782.77 133.4,785.38 134.1,778.92 134.8,785.29 135.5,783.28 136.2,782.4 136.9,781.22 137.6,786.35 138.3,785.61 139,785.88 139.7,788.92 140.4,782.34 141.1,786.36 141.8,786.03 142.5,784.96 143.2,781.57 143.9,777.59 144.6,772.69 145.3,767.36 146,762.84 146.7,763.94 147.4,761.52 148.1,761.85 148.8,757.13 149.5,752.94 150.2,748.24 150.9,753.33 151.6,744.82 152.3,744.6 153,745.39 153.7,744.74 154.4,745.83 155.1,740.48 155.8,740.13 156.5,740.81 157.2,737.19 157.9,737.42 158.6,740.49 159.3,738.06 160,736.88 160.7,737.16 161.4,739.41 162.1,740.41 162.8,739.97 163.5,745.09 164.2,742.8 164.9,749.22 165.6,747.77 166.3,745.02 167,745.54 167.7,748.21 168.4,745.2 169.1,749.44 169.8,747.81 170.5,748.14 171.2,744.49 171.9,744 172.6,738.95 173.3,741.19 174,736.55 174.7,737.66 175.4,735.93 176.1,739.38 176.8,740.76 177.5,740.67 178.2,739.44 178.9,743.54 179.6,743.82 180.3,742.25 181,744.16 181.7,744.85 182.4,741.54 183.1,744.09 183.8,741.36 184.5,743.67 185.2,747.13 185.9,745.44 186.6,748.8 187.3,749.97 188,746.59 188.7,750.78 189.4,755.74 190.1,754.13 190.8,754.62 191.5,753.1 192.2,751.39 192.9,751.45 193.6,759.85 194.3,754.14 195,753 195.7,755.05 196.4,751.34 197.1,757.83 197.8,758.58 198.5,754.03 199.2,755.99 199.9,753.66 200.6,756.59 201.3,752.23 202,752.35 202.7,754.09 203.4,751.63 204.1,749.09 204.8,745.85 205.5,744.78 206.2,749.07 206.9,747.27 207.6,745.86 208.3,747.63 209,744.99 209.7,742.83 210.4,743.21 211.1,743.17 211.8,743.44 212.5,748.35 213.2,744.84 213.9,744.43 214.6,743.83 215.3,743.66 216,743.67 216.7,742.64 217.4,745.93 218.1,744.57 218.8,744.79 219.5,747.46 220.2,746.29 220.9,753.26 221.6,752.92 222.3,748.63 223,753.84 223.7,750.75 224.4,744.22 225.1,748.58 225.8,746.15 226.5,744.13 227.2,746.1 227.9,747.98 228.6,745.8 229.3,741.38 230,742.06 230.7,741.49 231.4,746.11 232.1,744.8 232.8,744.14 233.5,745.31 234.2,744.32 234.9,746.95 235.6,750.72 236.3,745.9 237,750.36 237.7,750.28 238.4,752.71 239.1,750.17 239.8,755.23 240.5,757.64 241.2,759.38 241.9,751.72 242.6,754.35 243.3,753.52 244,753.63 244.7,751.03 245.4,754.01 246.1,756.36 246.8,754.1 247.5,748.79 248.2,748.84 248.9,750.68 249.6,748.88 250.3,746.55 251,750 251.7,749.41 252.4,751.09 253.1,749.57 253.8,753.07 254.5,750.51 255.2,750.01 255.9,752.89 256.6,750.99 257.3,756.8 258,756.54 258.7,752.07 259.4,755.46 260.1,756.63 260.8,754.18 261.5,755.54 262.2,753.49 262.9,755.65 263.6,756.79 264.3,759.06 265,757.46 265.7,756.53 266.4,758.31 267.1,755.59 267.8,756.39 268.5,753.31 269.2,750.62 269.9,753.39 270.6,751.09 271.3,750.41 272,746.78 272.7,745.17 273.4,747.39 274.1,741.88 274.8,748.55 275.5,746.38 276.2,745.43 276.9,745.87 277.6,746.98 278.3,744.57 279,747.04 279.7,745.18 280.4,743.95 281.1,748.35 281.8,748.62 282.5,750.3 283.2,750.93 283.9,750.91 284.6,750.76 285.3,746.95 286,750.96 286.7,752.7 287.4,745.13 288.1,742.45 288.8,744.78 289.5,743.86 290.2,742.66 290.9,742.72 291.6,736.18 292.3,738.6 293,737.8 293.7,738.03 294.4,732.47 295.1,732.87 295.8,730.75 296.5,729.79 297.2,728.46 297.9,727.1 298.6,722.52 299.3,724.23 300,722.82 300.7,720.37 301.4,712.73 302.1,716.58 302.8,715.64 303.5,714.66 304.2,720.89 304.9,721.14 305.6,720.53 306.3,723.44 307,729.18 307.7,721.69 308.4,725.06 309.1,723.64 309.8,728.24 310.5,728.57 311.2,727.8 311.9,730.21 312.6,728.06 313.3,727.1 314,732.28 314.7,733.95 315.4,730.24 316.1,729.82 316.8,727.4 317.5,734.92 318.2,728.52 318.9,728.87 319.6,730.24 320.3,732.14 321,729.13 321.7,728.2 322.4,727.54 323.1,728.56 323.8,726.29 324.5,726.1 325.2,725.09 325.9,722.55 326.6,726.4 327.3,721.49 328,719.27 328.7,719.93 329.4,719.79 330.1,720.28 330.8,714.75 331.5,713.96 332.2,715.59 332.9,714.89 333.6,710.96 334.3,709.93 335,712.29 335.7,711.54 336.4,708.58 337.1,709.86 337.8,714.22 338.5,710 339.2,715.17 339.9,711.4 340.6,718.31 341.3,719.69 342,716.56 342.7,717.02 343.4,719.83 344.1,716.57 344.8,718.42 345.5,718.13 346.2,714.73 346.9,714.03 347.6,712.28 348.3,713.68 349,709.37 349.7,713.15 350.4,710 351.1,711.25 351.8,710.58 352.5,714.68 353.2,717.8 353.9,721.55 354.6,717.43 355.3,721.24 356,721.13 356.7,721.14 357.4,724.42 358.1,723.95 358.8,728.43 359.5,723.07 360.2,731.07 360.9,727.47 361.6,728.83 362.3,734.92 363,732.03 363.7,731.68 364.4,728.34 365.1,726.94 365.8,726.29 366.5,726.36 367.2,723.64 367.9,723.22 368.6,721.16 369.3,722.03 370,718.19 370.7,715.3 371.4,713.15 372.1,717.01 372.8,716.11 373.5,716.66 374.2,712.29 374.9,710.44 375.6,708.67 376.3,711.87 377,708.13 377.7,710.11 378.4,706.87 379.1,706.17 379.8,703.01 380.5,705.13 381.2,707.79 381.9,704.98 382.6,707.41 383.3,703.04 384,708.17 384.7,711.61 385.4,708.48 386.1,707.03 386.8,704.3 387.5,705.92 388.2,705.95 388.9,707.82 389.6,703.89 390.3,706.31 391,709.33 391.7,707.92 392.4,708.87 393.1,708.9 393.8,704.9 394.5,704.74 395.2,708.98 395.9,708.95 396.6,709.82 397.3,708.91 398,713.19 398.7,711.76 399.4,712.07 400.1,708.3 400.8,709.38 401.5,707.03 402.2,704.43 402.9,705.83 403.6,702.5 404.3,704.99 405,705.35 405.7,706.01 406.4,702.43 407.1,701.85 407.8,702.92 408.5,700.3 409.2,702.94 409.9,709.12 410.6,704.7 411.3,703.54 412,704.26 412.7,709.49 413.4,704.47 414.1,707.04 414.8,706.72 415.5,705.4 416.2,705.35 416.9,703.44 417.6,704.96 418.3,709.05 419,709.78 419.7,707.06 420.4,709.45 421.1,709.49 421.8,709.34 422.5,709.26 423.2,712.07 423.9,711.07 424.6,709.79 425.3,710 426,712.46 426.7,709.97 427.4,709.42 428.1,709.35 428.8,708.01 429.5,710.46 430.2,707.82 430.9,705.4 431.6,703 432.3,705.13 433,701.71 433.7,703.27 434.4,699.74 435.1,697.16 435.8,697.09 436.5,698.17 437.2,699.62 437.9,701.35 438.6,700.97 439.3,702.95 440,696.98 440.7,699.85 441.4,697.01 442.1,697.67 442.8,698.99 443.5,699.49 444.2,699.48 444.9,699.03 445.6,704.69 446.3,702.43 447,704.86 447.7,700.73 448.4,698.16 449.1,701.2 449.8,703.76 450.5,700.6 451.2,701.76 451.9,698.3 452.6,702.35 453.3,699.86 454,700.39 454.7,697.64 455.4,700.57 456.1,698.22 456.8,697.11 457.5,696.79 458.2,698.07 458.9,696.57 459.6,696.03 460.3,698.13 461,698.82 461.7,696.49 462.4,698.14 463.1,698.87 463.8,692.75 464.5,694.96 465.2,691.94 465.9,691.86 466.6,692.56 467.3,686.71 468,692.43 468.7,693.09 469.4,692.75 470.1,693.17 470.8,695.48 471.5,691.41 472.2,694.27 472.9,695.02 473.6,693.27 474.3,689.11 475,692.92 475.7,693.12 476.4,690.44 477.1,693.25 477.8,694.65 478.5,691.97 479.2,690.58 479.9,692.19 480.6,686.68 481.3,684.51 482,684.85 482.7,686.48 483.4,685.49 484.1,685.4 484.8,685.38 485.5,689.73 486.2,690.13 486.9,685.52 487.6,689.84 488.3,685.01 489,692.82 489.7,691.52 490.4,689.58 491.1,688.83 491.8,691.25 492.5,689.1 493.2,694.12 493.9,692.67 494.6,691.15 495.3,695.55 496,698.91 496.7,695.31 497.4,698.12 498.1,703.33 498.8,700.83 499.5,699.96 500.2,701.34 500.9,702.2 501.6,698.54 502.3,700.02 503,696.92 503.6,696.86" stroke="#00ff00"/>
</g>
<path d="M38.2,839.2v-4.6M38.2,482.4v4.6M115.77,839.2v-4.6M115.77,482.4v4.6M193.33,839.2v-4.6M193.33,482.4v4.6M270.9,839.2v-4.6M270.9,482.4v4.6M348.47,839.2v-4.6M348.47,482.4v4.6M426.03,839.2v-4.6M426.03,482.4v4.6M503.6,839.2v-4.6M503.6,482.4v4.6M38.2,482.4h4.6M503.6,482.4h-4.6M38.2,660.8h4.6M503.6,660.8h-4.6M38.2,607.1h2.76M503.6,607.1h-2.76M38.2,575.68h2.76M503.6,575.68h-2.76M38.2,553.39h2.76M503.6,553.39h-2.76M38.2,536.1h2.76M503.6,536.1h-2.76M38.2,521.98h2.76M503.6,521.98h-2.76M38.2,510.03h2.76M503.6,510.03h-2.76M38.2,499.69h2.76M503.6,499.69h-2.76M38.2,490.56h2.76M503.6,490.56h-2.76M38.2,839.2h4.6M503.6,839.2h-4.6M38.2,785.5h2.76M503.6,785.5h-2.76M38.2,754.08h2.76M503.6,754.08h-2.76M38.2,731.79h2.76M503.6,731.79h-2.76M38.2,714.5h2.76M503.6,714.5h-2.76M38.2,700.38h2.76M503.6,700.38h-2.76M38.2,688.43h2.76M503.6,688.43h-2.76M38.2,678.09h2.76M503.6,678.09h-2.76M38.2,668.96h2.76M503.6,668.96h-2.76" stroke="#7a7a7a" stroke-width="1" fill="none"/>
<rect x="38.2" y="482.4" width="465.4" height="356.8" fill="none" stroke="#7a7a7a" stroke-width="1"/>
<text x="31.2" y="490.9" text-anchor="end" class="tl">10<tspan dy="-7.6" font-size="11.5">0</tspan></text>
<text x="31.2" y="669.3" text-anchor="end" class="tl">10<tspan dy="-7.6" font-size="11.5">-1</tspan></text>
<text x="31.2" y="847.7" text-anchor="end" class="tl">10<tspan dy="-7.6" font-size="11.5">-2</tspan></text>
<text x="38.2" y="859.6" text-anchor="middle" class="tl">0</text>
<text x="115.77" y="859.6" text-anchor="middle" class="tl">1</text>
<text x="193.33" y="859.6" text-anchor="middle" class="tl">2</text>
<text x="270.9" y="859.6" text-anchor="middle" class="tl">3</text>
<text x="348.47" y="859.6" text-anchor="middle" class="tl">4</text>
<text x="426.03" y="859.6" text-anchor="middle" class="tl">5</text>
<text x="503.6" y="859.6" text-anchor="middle" class="tl">6</text>
<text x="470" y="883.8" class="tl" style="font-size:17px">×</text>
<text x="481.8" y="883.8" class="tl">10<tspan x="497" dy="-8.3" font-size="11.5">4</tspan></text>
<text transform="translate(121.9,464.4) scale(1.081,1)" class="tt">relative noise level</text>
<text x="332.9" y="464.4" class="dl tt2" style="font-size:23.5px">δ</text>
<text transform="translate(344.4,475.2) scale(1.1,1)" class="tt" style="font-size:16px">rel</text>
<text transform="translate(372.7,464.4) scale(1.1,1)" class="tt">=0.5</text>
<rect x="375.7" y="493.7" width="116" height="95.2" fill="#fff" stroke="#7a7a7a" stroke-width="1"/>
<path d="M379.7,511.9h42.7" stroke="#ff0000" stroke-width="1.5"/>
<text x="426.1" y="515.6" class="mu">μ</text>
<text x="436.7" y="522.6" class="lg" style="font-size:12px">0</text>
<text x="449.5" y="514.4" class="lg">=</text>
<text x="463.5" y="515.6" class="lg">2.0</text>
<path d="M379.7,541.9h42.7" stroke="#0000ff" stroke-width="1.5"/>
<text x="426.1" y="545.6" class="mu">μ</text>
<text x="436.7" y="552.6" class="lg" style="font-size:12px">0</text>
<text x="449.5" y="544.4" class="lg">=</text>
<text x="463.5" y="545.6" class="lg">1.0</text>
<path d="M379.7,571.9h42.7" stroke="#00ff00" stroke-width="1.5"/>
<text x="426.1" y="575.6" class="mu">μ</text>
<text x="436.7" y="582.6" class="lg" style="font-size:12px">0</text>
<text x="449.5" y="574.4" class="lg">=</text>
<text x="463.5" y="575.6" class="lg">0.4</text>
<clipPath id="c4"><rect x="554.9" y="482.4" width="465.4" height="356.8"/></clipPath>
<g clip-path="url(#c4)" fill="none" stroke-width="1.5" stroke-linejoin="round">
<polyline points="554.9,515 555.6,543.5 556.3,558.2 557,572.76 557.7,586.5 558.4,600.24 559.1,611.05 559.8,621.37 560.5,633.52 561.2,643.92 561.9,652.59 562.6,658.35 563.3,664.25 564,669.17 564.7,672.87 565.4,676.6 566.1,679.68 566.8,685.33 567.5,687.48 568.2,687.25 568.9,690.88 569.6,697.23 570.3,703.93 571,705.36 571.7,707.69 572.4,710.23 573.1,713.31 573.8,715.27 574.5,719.28 575.2,721.79 575.9,724.09 576.6,727.28 577.3,726.91 578,728.34 578.7,734.47 579.4,730.62 580.1,733.14 580.8,734.25 581.5,739.58 582.2,739.93 582.9,744.6 583.6,742.87 584.3,747.31 585,749.09 585.7,750.34 586.4,755.07 587.1,756.46 587.8,760.43 588.5,762.21 589.2,765.97 589.9,765.07 590.6,764.27 591.3,762.95 592,761.37 592.7,761.83 593.4,760.2 594.1,759.1 594.8,758.85 595.5,760.36 596.2,761.12 596.9,757.62 597.6,759.04 598.3,764.36 599,769.35 599.7,773.25 600.4,775.25 601.1,778.57 601.8,781.04 602.5,781.68 603.2,782.45 603.9,782.5 604.6,785.33 605.3,786.25 606,787.57 606.7,790.25 607.4,789.22 608.1,786.28 608.8,786.96 609.5,785.75 610.2,785.69 610.9,787.48 611.6,787.17 612.3,786.68 613,786.4 613.7,787.55 614.4,788.74 615.1,788.23 615.8,790.59 616.5,789.73 617.2,787.62 617.9,790.42 618.6,783.37 619.3,785.51 620,784.72 620.7,785.09 621.4,786.15 622.1,787.47 622.8,788.5 623.5,787.88 624.2,788.51 624.9,790.47 625.6,790.08 626.3,789.46 627,790.6 627.7,790.29 628.4,788.57 629.1,784.85 629.8,785.97 630.5,783.24 631.2,778.77 631.9,778.43 632.6,776.35 633.3,773.06 634,769.33 634.7,766.01 635.4,766.15 636.1,762.96 636.8,760.57 637.5,757.98 638.2,755.1 638.9,751.98 639.6,753.95 640.3,755.83 641,755.55 641.7,753.94 642.4,756.73 643.1,754.66 643.8,753.54 644.5,755.75 645.2,756.21 645.9,754.25 646.6,753.42 647.3,754.92 648,752.13 648.7,755.18 649.4,757.02 650.1,755.57 650.8,754.42 651.5,757.89 652.2,758.64 652.9,762.96 653.6,763.2 654.3,768.29 655,767.47 655.7,769.35 656.4,769.2 657.1,770.01 657.8,771.22 658.5,770.48 659.2,768.27 659.9,769.67 660.6,768.06 661.3,767.46 662,767.6 662.7,767.72 663.4,768.17 664.1,769.58 664.8,769.34 665.5,768.8 666.2,769.65 666.9,771.71 667.6,770.59 668.3,772.58 669,773.08 669.7,772.53 670.4,771.31 671.1,770.76 671.8,769.81 672.5,767.23 673.2,765.71 673.9,761.53 674.6,762.4 675.3,761.41 676,757.2 676.7,761.77 677.4,758.62 678.1,757.01 678.8,762.58 679.5,760.62 680.2,759.59 680.9,759.88 681.6,761.87 682.3,760.9 683,760.18 683.7,762.39 684.4,760.39 685.1,761.02 685.8,761.88 686.5,762.17 687.2,764.25 687.9,763.26 688.6,762.38 689.3,763.21 690,761.49 690.7,764.2 691.4,765.15 692.1,767.44 692.8,768.09 693.5,770.52 694.2,770.59 694.9,773.42 695.6,773.73 696.3,772.24 697,774.56 697.7,774.18 698.4,774.22 699.1,771.9 699.8,773.33 700.5,769.36 701.2,766.88 701.9,765.22 702.6,765.4 703.3,763.08 704,761.19 704.7,760.06 705.4,760.85 706.1,758.63 706.8,759.45 707.5,759.65 708.2,759.68 708.9,763.59 709.6,764.36 710.3,764.63 711,766.44 711.7,766.43 712.4,767.57 713.1,765.05 713.8,765.11 714.5,763.82 715.2,762.39 715.9,762.64 716.6,761.38 717.3,759.74 718,760.15 718.7,758.72 719.4,760.44 720.1,759.25 720.8,756.38 721.5,756.44 722.2,754.6 722.9,754.09 723.6,750.32 724.3,750 725,747.31 725.7,747.2 726.4,750.51 727.1,747.33 727.8,749.6 728.5,752.24 729.2,753.55 729.9,752.63 730.6,752.09 731.3,752.28 732,754.14 732.7,754.39 733.4,753.51 734.1,750.9 734.8,752.76 735.5,749.99 736.2,749.98 736.9,747.73 737.6,748.58 738.3,744.77 739,741.52 739.7,742.41 740.4,741.7 741.1,740.5 741.8,737.99 742.5,737.99 743.2,737.81 743.9,740.47 744.6,742.43 745.3,744.2 746,747.47 746.7,744.68 747.4,747.33 748.1,745.78 748.8,742.42 749.5,742.45 750.2,740.9 750.9,738.26 751.6,739.34 752.3,739.77 753,737.3 753.7,736.44 754.4,737.28 755.1,736.49 755.8,738.87 756.5,737.78 757.2,740.01 757.9,741.69 758.6,743.47 759.3,742.35 760,742.94 760.7,743.44 761.4,741.02 762.1,739.51 762.8,738.55 763.5,734.69 764.2,734.65 764.9,733.11 765.6,732.19 766.3,730.86 767,731.59 767.7,733.13 768.4,735.15 769.1,732.51 769.8,736.55 770.5,736.77 771.2,735.25 771.9,735.55 772.6,732.91 773.3,730.88 774,727.11 774.7,724.87 775.4,726.61 776.1,727.1 776.8,725.75 777.5,724.97 778.2,724.97 778.9,724.81 779.6,728.22 780.3,727.11 781,728.87 781.7,726.72 782.4,729.01 783.1,727.19 783.8,729.32 784.5,730.84 785.2,728.43 785.9,730.23 786.6,729.01 787.3,727.72 788,728.87 788.7,729.2 789.4,727.37 790.1,727.7 790.8,727.13 791.5,726.82 792.2,728.93 792.9,731.6 793.6,731.46 794.3,734.98 795,734.52 795.7,735.85 796.4,739.64 797.1,741.01 797.8,738.56 798.5,740.03 799.2,737.72 799.9,738.1 800.6,737.62 801.3,738.4 802,735.54 802.7,735.91 803.4,735.61 804.1,736.89 804.8,735.74 805.5,736.06 806.2,741.45 806.9,738.79 807.6,737.5 808.3,741.04 809,739.25 809.7,739.33 810.4,744.31 811.1,744.12 811.8,740.61 812.5,738.74 813.2,739.03 813.9,739.32 814.6,736.05 815.3,735.67 816,733.86 816.7,733.54 817.4,736.26 818.1,736.97 818.8,735.9 819.5,734.22 820.2,734.12 820.9,729.72 821.6,730.27 822.3,728.2 823,724.88 823.7,725.16 824.4,724.54 825.1,724.49 825.8,722.71 826.5,723.66 827.2,724.15 827.9,724.23 828.6,724.37 829.3,724.79 830,724.42 830.7,724.43 831.4,726.67 832.1,724.91 832.8,725.51 833.5,725.07 834.2,724.98 834.9,727.09 835.6,727 836.3,727.37 837,728.56 837.7,728.3 838.4,729.8 839.1,730.64 839.8,727.92 840.5,726.2 841.2,727.48 841.9,725.37 842.6,721.57 843.3,724.44 844,722.67 844.7,722.98 845.4,720.37 846.1,721.74 846.8,722.99 847.5,725.14 848.2,723.83 848.9,724.99 849.6,727.63 850.3,726.42 851,728.1 851.7,727.76 852.4,727.67 853.1,730.45 853.8,731.27 854.5,730.58 855.2,734.24 855.9,734.81 856.6,735.34 857.3,734.02 858,733.59 858.7,735.17 859.4,736.24 860.1,736.79 860.8,737.26 861.5,737.73 862.2,738.99 862.9,740.71 863.6,738.22 864.3,738.75 865,734.45 865.7,733.57 866.4,732.4 867.1,732.68 867.8,731.78 868.5,732.38 869.2,731.21 869.9,730.55 870.6,734.6 871.3,731.62 872,733.08 872.7,731.76 873.4,730.3 874.1,730.89 874.8,728.44 875.5,729 876.2,727.5 876.9,728.52 877.6,727.95 878.3,727.41 879,729.26 879.7,728.92 880.4,730.53 881.1,728.91 881.8,727.6 882.5,730.03 883.2,729.88 883.9,727.45 884.6,725.9 885.3,724.1 886,721.22 886.7,722.99 887.4,719.77 888.1,719.71 888.8,719.4 889.5,720.56 890.2,722.53 890.9,725.87 891.6,724.92 892.3,723.44 893,722.92 893.7,723.14 894.4,724.44 895.1,725.7 895.8,723.86 896.5,725.66 897.2,725.39 897.9,722.65 898.6,719.27 899.3,722.78 900,721.3 900.7,722.13 901.4,722.11 902.1,719.33 902.8,720.15 903.5,719.65 904.2,717.89 904.9,718.92 905.6,717.29 906.3,716.33 907,718.44 907.7,715.24 908.4,715.77 909.1,712.48 909.8,712.69 910.5,709.39 911.2,709.99 911.9,711.61 912.6,708.31 913.3,712.01 914,711.58 914.7,713.7 915.4,713.42 916.1,714.02 916.8,713.5 917.5,719.36 918.2,715.94 918.9,718.46 919.6,719.47 920.3,721.43 921,723.52 921.7,723.17 922.4,727.08 923.1,724.67 923.8,725.37 924.5,721.88 925.2,723.42 925.9,723.37 926.6,722.95 927.3,721.87 928,722.25 928.7,722.02 929.4,720.04 930.1,718.54 930.8,721.36 931.5,719.87 932.2,721.27 932.9,720.81 933.6,719.43 934.3,717.64 935,718.66 935.7,717.99 936.4,720.34 937.1,716.96 937.8,720.1 938.5,717.29 939.2,718.78 939.9,718.51 940.6,720.06 941.3,721.14 942,723.26 942.7,723.28 943.4,725.22 944.1,726.61 944.8,724.9 945.5,723.51 946.2,724.8 946.9,724.81 947.6,724.78 948.3,726.82 949,727.1 949.7,728.35 950.4,726.89 951.1,723.39 951.8,726.52 952.5,727.26 953.2,725.18 953.9,725.06 954.6,726.49 955.3,725.64 956,724.52 956.7,725.52 957.4,722.95 958.1,726.71 958.8,725.43 959.5,726.34 960.2,724.45 960.9,724.19 961.6,724.11 962.3,727.41 963,722.13 963.7,721.11 964.4,721.16 965.1,722.71 965.8,722.1 966.5,721.66 967.2,720.34 967.9,720.97 968.6,720.02 969.3,720.82 970,720.19 970.7,719.54 971.4,719.98 972.1,723.22 972.8,721.24 973.5,719.71 974.2,720.28 974.9,719.69 975.6,721.35 976.3,719.56 977,718.63 977.7,719.94 978.4,719.29 979.1,717.71 979.8,716.77 980.5,716.99 981.2,714.06 981.9,713.86 982.6,714.8 983.3,713.99 984,714.17 984.7,712.22 985.4,711.92 986.1,712.18 986.8,711.82 987.5,712.65 988.2,709.49 988.9,710.96 989.6,708.58 990.3,709.89 991,711.53 991.7,709.67 992.4,710.71 993.1,711.69 993.8,711.43 994.5,713.08 995.2,712.3 995.9,714.59 996.6,710.42 997.3,707.43 998,710.01 998.7,708.97 999.4,707.77 1000.1,708.48 1000.8,709.85 1001.5,709.88 1002.2,712.13 1002.9,713.79 1003.6,716.41 1004.3,716.95 1005,716.34 1005.7,715.41 1006.4,718.86 1007.1,718.82 1007.8,719.85 1008.5,717.79 1009.2,717.2 1009.9,717 1010.6,714.63 1011.3,713.3 1012,715.82 1012.7,711.14 1013.4,712.29 1014.1,711.03 1014.8,710.23 1015.5,710.13 1016.2,706.28 1016.9,708.5 1017.6,705.12 1018.3,707.72 1019,708.35 1019.7,710.3 1020.3,711.37" stroke="#ff0000"/>
<polyline points="554.9,515 555.6,523.51 556.3,532.01 557,540.28 557.7,547.17 558.4,554.07 559.1,560.96 559.8,567.85 560.5,574.07 561.2,580.54 561.9,587.95 562.6,596.01 563.3,603.16 564,609.16 564.7,616.41 565.4,622.82 566.1,628.78 566.8,633.09 567.5,636.71 568.2,641.16 568.9,645.94 569.6,652.88 570.3,661.06 571,666.08 571.7,669.8 572.4,672.73 573.1,676.47 573.8,677.76 574.5,678.97 575.2,681.92 575.9,683.72 576.6,684.54 577.3,687.55 578,688.67 578.7,690.33 579.4,692.53 580.1,692.63 580.8,693.4 581.5,693.93 582.2,695.18 582.9,696.67 583.6,697.15 584.3,697.51 585,699.42 585.7,700.2 586.4,701.6 587.1,702.5 587.8,702.62 588.5,704.52 589.2,707.19 589.9,707.9 590.6,710.24 591.3,714.17 592,714.74 592.7,715.45 593.4,717.24 594.1,715.93 594.8,717.88 595.5,718.78 596.2,718.66 596.9,718.11 597.6,719.99 598.3,719.35 599,719.04 599.7,719.51 600.4,719.14 601.1,720.63 601.8,719.16 602.5,721.47 603.2,721.33 603.9,721.26 604.6,723.08 605.3,724.14 606,726.05 606.7,726.99 607.4,728.81 608.1,727.76 608.8,728.92 609.5,731.75 610.2,730.65 610.9,732.63 611.6,734.68 612.3,734.24 613,735.92 613.7,736.92 614.4,738.99 615.1,740.07 615.8,740.63 616.5,741.95 617.2,741.87 617.9,743 618.6,744.39 619.3,745.83 620,745.04 620.7,745.67 621.4,747.03 622.1,746.8 622.8,748.14 623.5,747.54 624.2,748.11 624.9,747.89 625.6,748.58 626.3,750.03 627,752.32 627.7,755.14 628.4,756.96 629.1,757.41 629.8,761.07 630.5,758.65 631.2,758.68 631.9,759.62 632.6,757.79 633.3,759.15 634,758.56 634.7,758.51 635.4,758.15 636.1,760.22 636.8,761.59 637.5,761.99 638.2,763.7 638.9,764.09 639.6,764.88 640.3,765.05 641,764.77 641.7,764.86 642.4,764.58 643.1,763.21 643.8,762.21 644.5,762.24 645.2,763.88 645.9,762.67 646.6,762.09 647.3,763.12 648,761.86 648.7,760.67 649.4,761.64 650.1,762.09 650.8,763.27 651.5,763.38 652.2,764.57 652.9,765.4 653.6,765.27 654.3,766.08 655,766.69 655.7,768.13 656.4,767.9 657.1,769.65 657.8,770.38 658.5,769.89 659.2,769.81 659.9,770.68 660.6,770.16 661.3,771.39 662,771.4 662.7,772.5 663.4,772.46 664.1,773.02 664.8,772.71 665.5,773.12 666.2,773.3 666.9,774.03 667.6,774.16 668.3,776.39 669,777.84 669.7,778.79 670.4,778.24 671.1,780.54 671.8,780.58 672.5,783.52 673.2,784.26 673.9,784.84 674.6,785.39 675.3,786 676,786.07 676.7,785.38 677.4,785.98 678.1,786.05 678.8,786.14 679.5,785.46 680.2,784.25 680.9,784.56 681.6,782.45 682.3,780.79 683,778.44 683.7,778.48 684.4,777.17 685.1,773.78 685.8,774.15 686.5,773.25 687.2,771.89 687.9,771.67 688.6,771.47 689.3,772.47 690,771.77 690.7,771.32 691.4,771.4 692.1,773.01 692.8,771.14 693.5,771.44 694.2,772.07 694.9,772.05 695.6,771.98 696.3,772.48 697,772.1 697.7,771.44 698.4,770.98 699.1,770.69 699.8,770.3 700.5,770.85 701.2,769.09 701.9,769.5 702.6,770.54 703.3,770.91 704,771.78 704.7,773.78 705.4,772.24 706.1,774.81 706.8,774.29 707.5,775.53 708.2,775.8 708.9,776.03 709.6,776.21 710.3,777.2 711,775.28 711.7,776.35 712.4,778.03 713.1,779.56 713.8,780.58 714.5,779.73 715.2,779.58 715.9,779.64 716.6,779.84 717.3,779.87 718,778.02 718.7,777.92 719.4,777.06 720.1,777.54 720.8,776.2 721.5,776.03 722.2,775.3 722.9,774.68 723.6,775.01 724.3,774.6 725,774.15 725.7,773.19 726.4,772.68 727.1,772.34 727.8,772.05 728.5,772.2 729.2,772.76 729.9,772.47 730.6,770.78 731.3,772.47 732,772.9 732.7,772.96 733.4,774.19 734.1,775.14 734.8,774.7 735.5,774.53 736.2,775.15 736.9,775.48 737.6,775.08 738.3,776.22 739,775.28 739.7,774.85 740.4,776.39 741.1,776.01 741.8,777.43 742.5,777.6 743.2,778.84 743.9,777.86 744.6,779.45 745.3,779.74 746,779.33 746.7,780.86 747.4,782.14 748.1,779.97 748.8,777.84 749.5,776.85 750.2,776.4 750.9,774.34 751.6,773.78 752.3,771.04 753,771.9 753.7,769.6 754.4,770.1 755.1,769.67 755.8,769.33 756.5,770.27 757.2,768.86 757.9,769.29 758.6,770.06 759.3,769.31 760,768.75 760.7,768.8 761.4,768.22 762.1,770.04 762.8,770.62 763.5,771.24 764.2,771.15 764.9,772.92 765.6,772.49 766.3,770.95 767,772.34 767.7,772.85 768.4,771.18 769.1,771.12 769.8,771.35 770.5,768.3 771.2,769.46 771.9,767.32 772.6,765.75 773.3,766.98 774,767.71 774.7,766.94 775.4,768.36 776.1,766.68 776.8,767.06 777.5,767.73 778.2,766.9 778.9,766.61 779.6,766.45 780.3,765.94 781,765.68 781.7,764.49 782.4,763.86 783.1,761.82 783.8,760.33 784.5,760.98 785.2,760.76 785.9,760.59 786.6,761.12 787.3,761.47 788,761.48 788.7,761.99 789.4,760.72 790.1,762.02 790.8,761.23 791.5,761.58 792.2,762.51 792.9,761.48 793.6,763.95 794.3,763.03 795,764.41 795.7,765.76 796.4,766.54 797.1,765.48 797.8,766.78 798.5,767.59 799.2,766.82 799.9,766.78 800.6,766.8 801.3,767.77 802,766.25 802.7,765.92 803.4,765.72 804.1,765.83 804.8,765.69 805.5,765.75 806.2,765.13 806.9,763.71 807.6,763.83 808.3,765.34 809,765.39 809.7,764.04 810.4,765.57 811.1,763.36 811.8,766.5 812.5,765.45 813.2,764.05 813.9,765.57 814.6,765.29 815.3,764.91 816,764.71 816.7,764.56 817.4,764.38 818.1,763.6 818.8,763.57 819.5,763.95 820.2,763.43 820.9,761.65 821.6,761.65 822.3,762.46 823,761.43 823.7,762.06 824.4,760.09 825.1,760.3 825.8,759.57 826.5,759.73 827.2,760.81 827.9,760.43 828.6,760.39 829.3,760.63 830,760.95 830.7,761.61 831.4,761.07 832.1,759.05 832.8,760.7 833.5,759.02 834.2,758.08 834.9,758.03 835.6,757.12 836.3,755.8 837,757.07 837.7,755 838.4,754.32 839.1,754.74 839.8,755.01 840.5,753.75 841.2,752.36 841.9,752.77 842.6,752.73 843.3,752 844,752.07 844.7,751.23 845.4,751.4 846.1,750.24 846.8,750.78 847.5,750.27 848.2,750.81 848.9,751.7 849.6,749.12 850.3,749.63 851,749.81 851.7,750.41 852.4,751.27 853.1,750.03 853.8,750.06 854.5,751.42 855.2,750.98 855.9,751.3 856.6,751.72 857.3,750.89 858,751.75 858.7,751.38 859.4,751.36 860.1,751.86 860.8,751.48 861.5,749.68 862.2,749.34 862.9,749.59 863.6,748.58 864.3,748.19 865,746.83 865.7,745.89 866.4,746.98 867.1,746.97 867.8,744.98 868.5,747.72 869.2,746.92 869.9,748.15 870.6,749.03 871.3,747.86 872,747.28 872.7,747.97 873.4,747.73 874.1,747.92 874.8,746.49 875.5,747.62 876.2,748.05 876.9,747.93 877.6,747.89 878.3,748.28 879,746.89 879.7,747.91 880.4,746.9 881.1,745.77 881.8,745.9 882.5,745.94 883.2,745.72 883.9,746.24 884.6,745.37 885.3,744.91 886,746.69 886.7,745.02 887.4,744.71 888.1,745.9 888.8,745.03 889.5,744.81 890.2,744.65 890.9,746.16 891.6,744.72 892.3,745.53 893,745.21 893.7,745.43 894.4,745.06 895.1,745.86 895.8,746.41 896.5,746.82 897.2,745.98 897.9,745.56 898.6,745.45 899.3,746.27 900,744.24 900.7,746.39 901.4,745.15 902.1,744.84 902.8,743.46 903.5,743.59 904.2,743.11 904.9,743.65 905.6,742.52 906.3,742.79 907,742.28 907.7,739.97 908.4,740.4 909.1,740.69 909.8,738.83 910.5,738.56 911.2,737.92 911.9,737.01 912.6,739.08 913.3,737.37 914,737.69 914.7,736.8 915.4,737.48 916.1,736.64 916.8,735.97 917.5,735.32 918.2,734.71 918.9,734.73 919.6,734.03 920.3,733.82 921,734.22 921.7,733.05 922.4,731.92 923.1,734.11 923.8,733.66 924.5,733.09 925.2,733.37 925.9,732.91 926.6,732.97 927.3,733.4 928,732.89 928.7,732.91 929.4,731.84 930.1,731.87 930.8,731.45 931.5,730.61 932.2,730.38 932.9,731.68 933.6,732.59 934.3,733.04 935,735.44 935.7,733.93 936.4,735.08 937.1,734.66 937.8,736.01 938.5,735.11 939.2,736.74 939.9,736.1 940.6,735.58 941.3,734.94 942,736.69 942.7,734.98 943.4,735.7 944.1,732.68 944.8,732.97 945.5,734.48 946.2,733.97 946.9,732.32 947.6,732.9 948.3,732.58 949,731.88 949.7,732.56 950.4,732.37 951.1,732.81 951.8,734.09 952.5,734.82 953.2,734.75 953.9,734.16 954.6,735.84 955.3,735.68 956,736.45 956.7,736.11 957.4,736.46 958.1,737.09 958.8,737.05 959.5,734.88 960.2,734.43 960.9,735.29 961.6,734.37 962.3,733.67 963,732.54 963.7,733.86 964.4,733.3 965.1,733.33 965.8,733.46 966.5,732.94 967.2,733.46 967.9,733 968.6,733.09 969.3,732.58 970,731.18 970.7,731.28 971.4,731.22 972.1,731.82 972.8,730.25 973.5,731.08 974.2,730.68 974.9,730.2 975.6,731.29 976.3,729.99 977,730.88 977.7,732.17 978.4,732.32 979.1,733.22 979.8,732.53 980.5,733.61 981.2,732.96 981.9,731.54 982.6,733.57 983.3,732.97 984,732.87 984.7,733.33 985.4,733.18 986.1,733.97 986.8,733.27 987.5,732.96 988.2,732.95 988.9,732.34 989.6,732.45 990.3,732.54 991,732.56 991.7,731.32 992.4,731.18 993.1,731.48 993.8,730.47 994.5,729.55 995.2,729.33 995.9,728.76 996.6,727.94 997.3,729.13 998,729.84 998.7,728.52 999.4,728.22 1000.1,728.9 1000.8,726.07 1001.5,726.93 1002.2,726.05 1002.9,725.81 1003.6,725.1 1004.3,726.37 1005,726.9 1005.7,725.81 1006.4,726.92 1007.1,726.93 1007.8,726.65 1008.5,727.81 1009.2,728.54 1009.9,727.81 1010.6,728.28 1011.3,728.32 1012,728.07 1012.7,728.8 1013.4,729.59 1014.1,728.74 1014.8,729.22 1015.5,728.13 1016.2,727.4 1016.9,727.72 1017.6,728.45 1018.3,727.72 1019,727.29 1019.7,727.88 1020.3,725.74" stroke="#0000ff"/>
<polyline points="554.9,515 555.6,518.87 556.3,522.73 557,526.6 557.7,530.46 558.4,534.33 559.1,538.2 559.8,540.97 560.5,543.46 561.2,545.95 561.9,548.34 562.6,550.59 563.3,552.9 564,555.15 564.7,558.31 565.4,561.7 566.1,564.57 566.8,568.11 567.5,570.72 568.2,573.56 568.9,576.41 569.6,578.97 570.3,581.58 571,584.36 571.7,586.88 572.4,589.95 573.1,592.71 573.8,595.26 574.5,598.21 575.2,600.76 575.9,603.61 576.6,606.03 577.3,608.65 578,611.39 578.7,614.04 579.4,616.61 580.1,619.47 580.8,621.14 581.5,623.27 582.2,625.17 582.9,627.25 583.6,629.57 584.3,631.01 585,633.12 585.7,635.26 586.4,637.03 587.1,639.27 587.8,641.4 588.5,643.35 589.2,645.34 589.9,647.21 590.6,649.43 591.3,651.09 592,652.97 592.7,654.37 593.4,655.61 594.1,657.11 594.8,657.97 595.5,659.67 596.2,660.69 596.9,661.96 597.6,663.24 598.3,664.88 599,665.97 599.7,667.51 600.4,668.74 601.1,669.91 601.8,670.91 602.5,672.4 603.2,673.92 603.9,674.98 604.6,676.88 605.3,678.22 606,679.58 606.7,681.17 607.4,682.43 608.1,683.4 608.8,683.65 609.5,684.31 610.2,684.45 610.9,685.01 611.6,685.85 612.3,686.64 613,687.41 613.7,688.04 614.4,688.62 615.1,689.24 615.8,689.87 616.5,690.49 617.2,691.49 617.9,691.65 618.6,691.97 619.3,693.03 620,693.22 620.7,694.39 621.4,694.72 622.1,695.48 622.8,696.31 623.5,696.8 624.2,697.03 624.9,697.78 625.6,698.06 626.3,698.72 627,698.57 627.7,698.74 628.4,699.5 629.1,699.66 629.8,700.19 630.5,699.93 631.2,700.5 631.9,701.19 632.6,701.97 633.3,702.24 634,703.11 634.7,704.34 635.4,705.38 636.1,706.03 636.8,706.14 637.5,706.88 638.2,707.29 638.9,708.08 639.6,708.89 640.3,709.96 641,710.91 641.7,711.75 642.4,711.61 643.1,712.14 643.8,712.35 644.5,712.64 645.2,713.27 645.9,713.37 646.6,713.83 647.3,713.9 648,714.26 648.7,714.47 649.4,714.64 650.1,714.8 650.8,715.12 651.5,715.65 652.2,716.07 652.9,716.56 653.6,716.98 654.3,717.74 655,718.01 655.7,718.67 656.4,719.28 657.1,720.18 657.8,720.49 658.5,721.46 659.2,721.63 659.9,722.52 660.6,722.84 661.3,723.07 662,723.52 662.7,723.94 663.4,723.92 664.1,724.43 664.8,724.9 665.5,725.18 666.2,725.55 666.9,725.98 667.6,726.4 668.3,726.86 669,727.35 669.7,727.41 670.4,728.35 671.1,728.22 671.8,729.16 672.5,729.42 673.2,729.77 673.9,730.53 674.6,731.13 675.3,731.81 676,731.6 676.7,732.17 677.4,732.59 678.1,733.05 678.8,733.33 679.5,733.9 680.2,734.23 680.9,734.72 681.6,735.45 682.3,735.97 683,736.13 683.7,736.2 684.4,736.14 685.1,736.76 685.8,736.58 686.5,736.73 687.2,736.62 687.9,737.51 688.6,738.33 689.3,738.39 690,738.89 690.7,739.69 691.4,739.84 692.1,740.45 692.8,741.07 693.5,740.96 694.2,741.45 694.9,742.14 695.6,742.37 696.3,742.69 697,742.98 697.7,743.36 698.4,743.73 699.1,743.85 699.8,743.97 700.5,744.14 701.2,744 701.9,744.44 702.6,744.23 703.3,745.25 704,745.88 704.7,746.44 705.4,747.64 706.1,747.95 706.8,749.27 707.5,749.31 708.2,750.14 708.9,750.4 709.6,751.18 710.3,751.35 711,752.06 711.7,752.32 712.4,752.54 713.1,753.43 713.8,753.93 714.5,754.41 715.2,755.12 715.9,755.08 716.6,755.11 717.3,755.55 718,755.53 718.7,755.78 719.4,755.96 720.1,755.98 720.8,756.48 721.5,756.44 722.2,756.93 722.9,756.83 723.6,757.19 724.3,757.18 725,757.33 725.7,757.34 726.4,757.26 727.1,757.48 727.8,757.39 728.5,757.15 729.2,757.04 729.9,757.13 730.6,756.93 731.3,756.88 732,756.42 732.7,756.46 733.4,755.79 734.1,755.53 734.8,755.27 735.5,755.41 736.2,755.67 736.9,755.92 737.6,756.09 738.3,756.11 739,756.55 739.7,756.41 740.4,756.24 741.1,756.64 741.8,756.26 742.5,756.83 743.2,757.18 743.9,757.1 744.6,757.26 745.3,757.34 746,757.55 746.7,757.59 747.4,757.82 748.1,758.26 748.8,758.13 749.5,758.83 750.2,759.05 750.9,759.77 751.6,759.52 752.3,759.39 753,759.66 753.7,759.52 754.4,759.42 755.1,759.73 755.8,760.3 756.5,760.85 757.2,761.26 757.9,761.49 758.6,761.64 759.3,761.76 760,761.86 760.7,761.55 761.4,761.7 762.1,761.28 762.8,761.34 763.5,761.38 764.2,761.26 764.9,761.06 765.6,760.83 766.3,760.5 767,760.68 767.7,760.85 768.4,761.18 769.1,761.77 769.8,761.61 770.5,762.14 771.2,762.09 771.9,762.06 772.6,762.42 773.3,762.69 774,762.51 774.7,762.68 775.4,763.05 776.1,763.51 776.8,763.55 777.5,764 778.2,764.27 778.9,764.47 779.6,764.58 780.3,764.77 781,764.55 781.7,764.68 782.4,764.41 783.1,764.48 783.8,764.82 784.5,765.2 785.2,765.17 785.9,765.27 786.6,765.9 787.3,766.35 788,765.68 788.7,766.13 789.4,766.52 790.1,766.77 790.8,766.7 791.5,767.11 792.2,767.43 792.9,767.38 793.6,767.74 794.3,767.82 795,767.8 795.7,767.87 796.4,767.74 797.1,767.95 797.8,767.8 798.5,767.51 799.2,767.06 799.9,767.09 800.6,766.95 801.3,766.54 802,766.71 802.7,766.61 803.4,766.39 804.1,766.7 804.8,766.84 805.5,767.39 806.2,767.33 806.9,767.5 807.6,767.22 808.3,766.83 809,767.05 809.7,766.62 810.4,766.25 811.1,766.59 811.8,766.4 812.5,766.46 813.2,766.55 813.9,766.42 814.6,766.61 815.3,766.9 816,766.71 816.7,766.8 817.4,766.95 818.1,767.15 818.8,767.06 819.5,767.29 820.2,767.32 820.9,767.59 821.6,767.86 822.3,767.79 823,768.05 823.7,767.88 824.4,768.06 825.1,768.24 825.8,768.37 826.5,768.15 827.2,768.47 827.9,768.64 828.6,769.16 829.3,769.46 830,769.8 830.7,769.99 831.4,769.9 832.1,770.1 832.8,770.01 833.5,770.08 834.2,770.02 834.9,770.05 835.6,769.6 836.3,769.42 837,769.43 837.7,768.88 838.4,769.42 839.1,768.73 839.8,769.27 840.5,769.37 841.2,769.48 841.9,769.4 842.6,769.65 843.3,769.46 844,769.58 844.7,769.2 845.4,769.07 846.1,769.17 846.8,768.93 847.5,769.11 848.2,768.92 848.9,769.32 849.6,769.31 850.3,769.67 851,770.25 851.7,769.81 852.4,769.9 853.1,769.95 853.8,770.3 854.5,770.73 855.2,770.43 855.9,770.64 856.6,770.41 857.3,770.31 858,770.73 858.7,770.53 859.4,770.17 860.1,770.53 860.8,770.97 861.5,771.22 862.2,771.28 862.9,771.57 863.6,771.41 864.3,771.05 865,771.07 865.7,770.55 866.4,770.61 867.1,770.43 867.8,770.09 868.5,769.78 869.2,769.62 869.9,769.03 870.6,769.24 871.3,768.68 872,768.26 872.7,768.43 873.4,767.83 874.1,767.74 874.8,767.38 875.5,766.91 876.2,766.92 876.9,766.89 877.6,766.89 878.3,766.95 879,766.9 879.7,767.2 880.4,767.47 881.1,767.4 881.8,767.71 882.5,767.86 883.2,767.73 883.9,768.5 884.6,768.48 885.3,768.36 886,768.72 886.7,768.49 887.4,769.05 888.1,768.83 888.8,769.03 889.5,769.02 890.2,769.24 890.9,769.4 891.6,769.38 892.3,769.28 893,769.6 893.7,769.61 894.4,769.56 895.1,769.73 895.8,769.27 896.5,769.46 897.2,769.06 897.9,769.2 898.6,768.71 899.3,768.84 900,769.19 900.7,769.67 901.4,770.07 902.1,770.07 902.8,770.36 903.5,770.78 904.2,771 904.9,771.04 905.6,771.01 906.3,771.42 907,771.31 907.7,771.31 908.4,771.36 909.1,771.13 909.8,770.8 910.5,771.22 911.2,771.55 911.9,772.05 912.6,772.62 913.3,773.11 914,773.81 914.7,774.2 915.4,774.71 916.1,774.61 916.8,774.89 917.5,774.81 918.2,775.11 918.9,775.28 919.6,775.36 920.3,775.34 921,774.83 921.7,774.76 922.4,774.37 923.1,774.26 923.8,773.76 924.5,773.7 925.2,773.77 925.9,773.3 926.6,773.35 927.3,773.21 928,772.97 928.7,772.83 929.4,772.68 930.1,772.37 930.8,772.3 931.5,771.91 932.2,771.68 932.9,771.24 933.6,771.25 934.3,770.74 935,770.81 935.7,770.78 936.4,770.5 937.1,770.63 937.8,770.8 938.5,770.85 939.2,770.87 939.9,771.08 940.6,771.24 941.3,771.4 942,771.64 942.7,771.05 943.4,771.43 944.1,771.4 944.8,771.17 945.5,771.29 946.2,771.55 946.9,771.16 947.6,771.3 948.3,771.17 949,770.84 949.7,770.45 950.4,770.96 951.1,771 951.8,770.53 952.5,770.9 953.2,770.91 953.9,771.17 954.6,771.24 955.3,771.52 956,771.31 956.7,771.83 957.4,771.3 958.1,771.72 958.8,772.24 959.5,771.79 960.2,771.92 960.9,771.75 961.6,772.41 962.3,772.01 963,771.8 963.7,771.46 964.4,771.72 965.1,771.67 965.8,771.07 966.5,771.21 967.2,771.36 967.9,770.97 968.6,771.45 969.3,771.33 970,771.48 970.7,771.89 971.4,772.02 972.1,771.99 972.8,771.64 973.5,771.8 974.2,771.38 974.9,771.39 975.6,771.71 976.3,771.52 977,771.38 977.7,771.21 978.4,771.46 979.1,771.83 979.8,771 980.5,771.08 981.2,771.35 981.9,770.73 982.6,770.85 983.3,770.94 984,771.14 984.7,770.94 985.4,771.28 986.1,770.98 986.8,770.98 987.5,770.78 988.2,770.4 988.9,769.71 989.6,769.43 990.3,769.19 991,768.96 991.7,768.62 992.4,768.63 993.1,768.56 993.8,768.68 994.5,768.47 995.2,768.5 995.9,768.21 996.6,767.73 997.3,767.58 998,767.14 998.7,767.05 999.4,766.88 1000.1,766.29 1000.8,765.87 1001.5,765.98 1002.2,765.56 1002.9,765.33 1003.6,765.12 1004.3,764.81 1005,764.61 1005.7,764.08 1006.4,763.62 1007.1,763.82 1007.8,763.75 1008.5,763.64 1009.2,763.68 1009.9,763.47 1010.6,763.64 1011.3,763.22 1012,763.26 1012.7,763.14 1013.4,763.5 1014.1,762.9 1014.8,762.83 1015.5,762.84 1016.2,762.94 1016.9,762.72 1017.6,762.59 1018.3,762.28 1019,762.06 1019.7,762.23 1020.3,762.09" stroke="#00ff00"/>
</g>
<path d="M554.9,839.2v-4.6M554.9,482.4v4.6M632.47,839.2v-4.6M632.47,482.4v4.6M710.03,839.2v-4.6M710.03,482.4v4.6M787.6,839.2v-4.6M787.6,482.4v4.6M865.17,839.2v-4.6M865.17,482.4v4.6M942.73,839.2v-4.6M942.73,482.4v4.6M1020.3,839.2v-4.6M1020.3,482.4v4.6M554.9,482.4h4.6M1020.3,482.4h-4.6M554.9,601.33h4.6M1020.3,601.33h-4.6M554.9,565.53h2.76M1020.3,565.53h-2.76M554.9,544.59h2.76M1020.3,544.59h-2.76M554.9,529.73h2.76M1020.3,529.73h-2.76M554.9,518.2h2.76M1020.3,518.2h-2.76M554.9,508.79h2.76M1020.3,508.79h-2.76M554.9,500.82h2.76M1020.3,500.82h-2.76M554.9,493.93h2.76M1020.3,493.93h-2.76M554.9,487.84h2.76M1020.3,487.84h-2.76M554.9,720.27h4.6M1020.3,720.27h-4.6M554.9,684.46h2.76M1020.3,684.46h-2.76M554.9,663.52h2.76M1020.3,663.52h-2.76M554.9,648.66h2.76M1020.3,648.66h-2.76M554.9,637.14h2.76M1020.3,637.14h-2.76M554.9,627.72h2.76M1020.3,627.72h-2.76M554.9,619.76h2.76M1020.3,619.76h-2.76M554.9,612.86h2.76M1020.3,612.86h-2.76M554.9,606.78h2.76M1020.3,606.78h-2.76M554.9,839.2h4.6M1020.3,839.2h-4.6M554.9,803.4h2.76M1020.3,803.4h-2.76M554.9,782.45h2.76M1020.3,782.45h-2.76M554.9,767.59h2.76M1020.3,767.59h-2.76M554.9,756.07h2.76M1020.3,756.07h-2.76M554.9,746.65h2.76M1020.3,746.65h-2.76M554.9,738.69h2.76M1020.3,738.69h-2.76M554.9,731.79h2.76M1020.3,731.79h-2.76M554.9,725.71h2.76M1020.3,725.71h-2.76" stroke="#7a7a7a" stroke-width="1" fill="none"/>
<rect x="554.9" y="482.4" width="465.4" height="356.8" fill="none" stroke="#7a7a7a" stroke-width="1"/>
<text x="547.9" y="490.9" text-anchor="end" class="tl">10<tspan dy="-7.6" font-size="11.5">0</tspan></text>
<text x="547.9" y="609.83" text-anchor="end" class="tl">10<tspan dy="-7.6" font-size="11.5">-1</tspan></text>
<text x="547.9" y="728.77" text-anchor="end" class="tl">10<tspan dy="-7.6" font-size="11.5">-2</tspan></text>
<text x="547.9" y="847.7" text-anchor="end" class="tl">10<tspan dy="-7.6" font-size="11.5">-3</tspan></text>
<text x="554.9" y="859.6" text-anchor="middle" class="tl">0</text>
<text x="632.47" y="859.6" text-anchor="middle" class="tl">1</text>
<text x="710.03" y="859.6" text-anchor="middle" class="tl">2</text>
<text x="787.6" y="859.6" text-anchor="middle" class="tl">3</text>
<text x="865.17" y="859.6" text-anchor="middle" class="tl">4</text>
<text x="942.73" y="859.6" text-anchor="middle" class="tl">5</text>
<text x="1020.3" y="859.6" text-anchor="middle" class="tl">6</text>
<text x="986.7" y="883.8" class="tl" style="font-size:17px">×</text>
<text x="998.5" y="883.8" class="tl">10<tspan x="1013.7" dy="-8.3" font-size="11.5">4</tspan></text>
<text transform="translate(638.6,464.4) scale(1.081,1)" class="tt">relative noise level</text>
<text x="849.6" y="464.4" class="dl tt2" style="font-size:23.5px">δ</text>
<text transform="translate(861.1,475.2) scale(1.1,1)" class="tt" style="font-size:16px">rel</text>
<text transform="translate(889.4,464.4) scale(1.1,1)" class="tt">=0.1</text>
<rect x="892.4" y="493.7" width="116" height="95.2" fill="#fff" stroke="#7a7a7a" stroke-width="1"/>
<path d="M896.4,511.9h42.7" stroke="#ff0000" stroke-width="1.5"/>
<text x="942.8" y="515.6" class="mu">μ</text>
<text x="953.4" y="522.6" class="lg" style="font-size:12px">0</text>
<text x="966.2" y="514.4" class="lg">=</text>
<text x="980.2" y="515.6" class="lg">2.0</text>
<path d="M896.4,541.9h42.7" stroke="#0000ff" stroke-width="1.5"/>
<text x="942.8" y="545.6" class="mu">μ</text>
<text x="953.4" y="552.6" class="lg" style="font-size:12px">0</text>
<text x="966.2" y="544.4" class="lg">=</text>
<text x="980.2" y="545.6" class="lg">1.0</text>
<path d="M896.4,571.9h42.7" stroke="#00ff00" stroke-width="1.5"/>
<text x="942.8" y="575.6" class="mu">μ</text>
<text x="953.4" y="582.6" class="lg" style="font-size:12px">0</text>
<text x="966.2" y="574.4" class="lg">=</text>
<text x="980.2" y="575.6" class="lg">0.4</text>
<clipPath id="c5"><rect x="1072.1" y="482.4" width="465.4" height="356.8"/></clipPath>
<g clip-path="url(#c5)" fill="none" stroke-width="1.5" stroke-linejoin="round">
<polyline points="1072.1,508.1 1072.8,521.07 1073.5,534.05 1074.2,543.88 1074.9,553.19 1075.6,562.49 1076.3,571.8 1077,580.18 1077.7,588.97 1078.4,596.88 1079.1,605.76 1079.8,614.2 1080.5,620.48 1081.2,626.7 1081.9,633.14 1082.6,639.46 1083.3,646.07 1084,650.36 1084.7,653.33 1085.4,656.36 1086.1,659.12 1086.8,661.42 1087.5,663.05 1088.2,664.96 1088.9,667.12 1089.6,669.01 1090.3,671.76 1091,672.63 1091.7,674.53 1092.4,676.17 1093.1,678.25 1093.8,680.11 1094.5,682.28 1095.2,683.43 1095.9,685.98 1096.6,687.86 1097.3,689.54 1098,691.47 1098.7,693.66 1099.4,695.75 1100.1,697.89 1100.8,699.93 1101.5,702.02 1102.2,703.8 1102.9,706.17 1103.6,708.29 1104.3,710.17 1105,711.81 1105.7,714.02 1106.4,715.92 1107.1,717.95 1107.8,718.91 1108.5,719.8 1109.2,720.49 1109.9,721.06 1110.6,721.54 1111.3,722.41 1112,722.74 1112.7,723.6 1113.4,724.23 1114.1,725.51 1114.8,726.74 1115.5,727.15 1116.2,728.47 1116.9,728.69 1117.6,729.71 1118.3,730.29 1119,730.07 1119.7,729.98 1120.4,730.44 1121.1,730.29 1121.8,730.47 1122.5,730.1 1123.2,729.76 1123.9,730.02 1124.6,730.62 1125.3,731.21 1126,731.51 1126.7,731.93 1127.4,732.58 1128.1,732.85 1128.8,732.72 1129.5,732.82 1130.2,732.97 1130.9,732.52 1131.6,732.69 1132.3,732.47 1133,732.81 1133.7,733.39 1134.4,733.38 1135.1,733.85 1135.8,734.12 1136.5,734.46 1137.2,734.45 1137.9,735.31 1138.6,734.97 1139.3,734.92 1140,734.65 1140.7,734.55 1141.4,735.39 1142.1,735.3 1142.8,735.87 1143.5,735.68 1144.2,735.62 1144.9,735.93 1145.6,735.86 1146.3,736.04 1147,736.69 1147.7,736.54 1148.4,737.05 1149.1,737.07 1149.8,737.46 1150.5,737.71 1151.2,738.02 1151.9,738.32 1152.6,739.05 1153.3,738.85 1154,738.55 1154.7,739.61 1155.4,739.67 1156.1,739.81 1156.8,739.73 1157.5,739.93 1158.2,740.06 1158.9,740.43 1159.6,740.72 1160.3,740.78 1161,740.66 1161.7,740.7 1162.4,741.42 1163.1,741.49 1163.8,740.86 1164.5,741.12 1165.2,741.4 1165.9,741.68 1166.6,741.65 1167.3,741.87 1168,742.03 1168.7,742.68 1169.4,742.61 1170.1,743.71 1170.8,744.07 1171.5,744.62 1172.2,744.59 1172.9,745.04 1173.6,745.18 1174.3,745.54 1175,745.69 1175.7,745.84 1176.4,745.38 1177.1,745.86 1177.8,745.45 1178.5,745.52 1179.2,745.16 1179.9,744.87 1180.6,745.61 1181.3,745.1 1182,745.1 1182.7,744.78 1183.4,744.8 1184.1,745.09 1184.8,745.29 1185.5,745.96 1186.2,746.2 1186.9,746.01 1187.6,746.25 1188.3,747.14 1189,746.93 1189.7,746.65 1190.4,746.56 1191.1,746.42 1191.8,746.91 1192.5,746.44 1193.2,746.21 1193.9,746.83 1194.6,746.65 1195.3,746.83 1196,746.71 1196.7,747.03 1197.4,746.88 1198.1,747.78 1198.8,747.79 1199.5,748.18 1200.2,748.63 1200.9,749.03 1201.6,748.36 1202.3,749.03 1203,749.36 1203.7,749.64 1204.4,749.35 1205.1,749.85 1205.8,750.06 1206.5,750.38 1207.2,750.2 1207.9,750.51 1208.6,750.78 1209.3,751.61 1210,752.03 1210.7,752.09 1211.4,752.59 1212.1,753.1 1212.8,752.63 1213.5,752.63 1214.2,752.66 1214.9,752.44 1215.6,751.88 1216.3,751.9 1217,752.61 1217.7,752.92 1218.4,753.96 1219.1,754.54 1219.8,754.81 1220.5,755.45 1221.2,755.51 1221.9,755.79 1222.6,755.8 1223.3,756.52 1224,756.13 1224.7,756.97 1225.4,757.3 1226.1,758.06 1226.8,758.17 1227.5,758.65 1228.2,759.1 1228.9,758.97 1229.6,760.32 1230.3,760.02 1231,760.17 1231.7,760.01 1232.4,760.28 1233.1,760.79 1233.8,760.31 1234.5,760.7 1235.2,760.93 1235.9,761 1236.6,760.52 1237.3,759.97 1238,760.23 1238.7,760.03 1239.4,759.56 1240.1,759.3 1240.8,760.2 1241.5,759.79 1242.2,760.41 1242.9,760.78 1243.6,760.91 1244.3,761.47 1245,761.65 1245.7,762.36 1246.4,761.85 1247.1,762.23 1247.8,762.92 1248.5,762.55 1249.2,762.26 1249.9,762.46 1250.6,762.15 1251.3,762.07 1252,762.1 1252.7,762.47 1253.4,762.48 1254.1,762.87 1254.8,763.39 1255.5,763.47 1256.2,763.93 1256.9,763.74 1257.6,764.1 1258.3,764.4 1259,763.87 1259.7,765.03 1260.4,764.35 1261.1,764.47 1261.8,764.6 1262.5,764.86 1263.2,764.56 1263.9,764.98 1264.6,764.89 1265.3,765.42 1266,764.72 1266.7,765.35 1267.4,765.17 1268.1,765.13 1268.8,765.59 1269.5,765.77 1270.2,766.1 1270.9,766.41 1271.6,766.9 1272.3,766.74 1273,767.33 1273.7,766.41 1274.4,767.57 1275.1,767.52 1275.8,767.71 1276.5,767.57 1277.2,767.85 1277.9,767.82 1278.6,768.64 1279.3,768.32 1280,768.65 1280.7,768.95 1281.4,769.08 1282.1,769.18 1282.8,768.88 1283.5,769.17 1284.2,769.42 1284.9,769.55 1285.6,769.43 1286.3,769.31 1287,769.12 1287.7,768.99 1288.4,768.85 1289.1,768.79 1289.8,768.76 1290.5,768.35 1291.2,768.79 1291.9,767.89 1292.6,768.66 1293.3,768.98 1294,769.54 1294.7,770.05 1295.4,771.08 1296.1,771.23 1296.8,771.42 1297.5,771.32 1298.2,771.46 1298.9,771.42 1299.6,771.67 1300.3,771.12 1301,771.15 1301.7,771.82 1302.4,771.8 1303.1,771.58 1303.8,771.56 1304.5,771.74 1305.2,772.01 1305.9,771.54 1306.6,772.08 1307.3,771.74 1308,771.68 1308.7,772.06 1309.4,772.08 1310.1,773.11 1310.8,773.15 1311.5,773.76 1312.2,773.99 1312.9,774.2 1313.6,774.24 1314.3,774.01 1315,773.97 1315.7,773.96 1316.4,774.17 1317.1,773.84 1317.8,774 1318.5,773.52 1319.2,773.53 1319.9,773.22 1320.6,773.49 1321.3,773.16 1322,773.46 1322.7,773.21 1323.4,773.27 1324.1,773.65 1324.8,773.55 1325.5,773.86 1326.2,773.76 1326.9,773.56 1327.6,774.49 1328.3,774.25 1329,774.27 1329.7,774.79 1330.4,774.43 1331.1,774.68 1331.8,775.27 1332.5,775.04 1333.2,775.73 1333.9,775.65 1334.6,775.93 1335.3,776.26 1336,776.38 1336.7,777.13 1337.4,777.55 1338.1,777.7 1338.8,778.23 1339.5,778.61 1340.2,779.27 1340.9,778.78 1341.6,779.67 1342.3,779.92 1343,779.9 1343.7,780.17 1344.4,780.18 1345.1,780.7 1345.8,780.28 1346.5,780.86 1347.2,781.17 1347.9,781.15 1348.6,780.9 1349.3,780.88 1350,780.43 1350.7,780.68 1351.4,781.14 1352.1,780.62 1352.8,780.72 1353.5,781.36 1354.2,781.33 1354.9,782.1 1355.6,782.06 1356.3,782.75 1357,782.62 1357.7,782.46 1358.4,782.72 1359.1,782.9 1359.8,782.93 1360.5,783.44 1361.2,782.91 1361.9,783.26 1362.6,783.04 1363.3,783.33 1364,782.85 1364.7,782.85 1365.4,783.33 1366.1,783.55 1366.8,782.88 1367.5,783.16 1368.2,783.12 1368.9,783.11 1369.6,783.64 1370.3,783.51 1371,783.23 1371.7,783.61 1372.4,784 1373.1,783.44 1373.8,783.4 1374.5,783.27 1375.2,783.42 1375.9,783.18 1376.6,783.55 1377.3,783.21 1378,783.1 1378.7,783.63 1379.4,782.81 1380.1,783.44 1380.8,783.62 1381.5,783.52 1382.2,783.22 1382.9,783.17 1383.6,783.29 1384.3,784.17 1385,783.64 1385.7,784.35 1386.4,784.81 1387.1,785.59 1387.8,786 1388.5,786.25 1389.2,786.3 1389.9,785.64 1390.6,785.42 1391.3,785.38 1392,785.59 1392.7,785.06 1393.4,785.66 1394.1,785.63 1394.8,784.79 1395.5,785.35 1396.2,785.45 1396.9,786.01 1397.6,786.45 1398.3,786.37 1399,786.6 1399.7,787.29 1400.4,786.84 1401.1,787.11 1401.8,786.24 1402.5,786.7 1403.2,786.04 1403.9,785.47 1404.6,785.61 1405.3,785.48 1406,785.34 1406.7,785.31 1407.4,785.06 1408.1,784.79 1408.8,784.17 1409.5,784.46 1410.2,784.02 1410.9,783.44 1411.6,782.97 1412.3,782.97 1413,783.2 1413.7,783.39 1414.4,783.83 1415.1,784.08 1415.8,784.78 1416.5,784.59 1417.2,784.73 1417.9,784.58 1418.6,784.42 1419.3,784.39 1420,783.9 1420.7,784.56 1421.4,783.59 1422.1,783.73 1422.8,783.36 1423.5,783.06 1424.2,783.41 1424.9,783.3 1425.6,783.02 1426.3,783.49 1427,783.82 1427.7,784.32 1428.4,784.38 1429.1,784.11 1429.8,784.09 1430.5,783.91 1431.2,784.25 1431.9,784.41 1432.6,784.21 1433.3,784.6 1434,784.61 1434.7,784.62 1435.4,784.56 1436.1,785.26 1436.8,786.03 1437.5,785.96 1438.2,785.97 1438.9,786.41 1439.6,787.12 1440.3,787.57 1441,787.71 1441.7,786.7 1442.4,787.63 1443.1,787.14 1443.8,787.05 1444.5,786.94 1445.2,786.52 1445.9,786.3 1446.6,786.38 1447.3,785.48 1448,785.6 1448.7,785.71 1449.4,785.14 1450.1,785.48 1450.8,785.85 1451.5,785.54 1452.2,785.72 1452.9,785.49 1453.6,785.15 1454.3,784.96 1455,784.45 1455.7,784.38 1456.4,784.93 1457.1,784.63 1457.8,785.3 1458.5,785.49 1459.2,786.07 1459.9,786.46 1460.6,786.63 1461.3,787.23 1462,787.18 1462.7,787.78 1463.4,788.33 1464.1,787.54 1464.8,788.1 1465.5,787.68 1466.2,788.14 1466.9,788.28 1467.6,788.25 1468.3,788.53 1469,788.39 1469.7,788.07 1470.4,788.95 1471.1,788.47 1471.8,788.78 1472.5,789.02 1473.2,788.83 1473.9,789.19 1474.6,789.64 1475.3,789 1476,789.09 1476.7,789.23 1477.4,789.07 1478.1,788.59 1478.8,788.1 1479.5,788.66 1480.2,788.37 1480.9,788.13 1481.6,788.73 1482.3,788.73 1483,788.94 1483.7,788.75 1484.4,789.12 1485.1,789.36 1485.8,788.89 1486.5,789.15 1487.2,789.7 1487.9,790 1488.6,789.88 1489.3,789.94 1490,789.93 1490.7,790.34 1491.4,790.6 1492.1,791 1492.8,790.81 1493.5,791.43 1494.2,791.14 1494.9,790.28 1495.6,790.48 1496.3,790.73 1497,790.84 1497.7,790.49 1498.4,789.51 1499.1,789.6 1499.8,790.1 1500.5,789.96 1501.2,790.68 1501.9,790.47 1502.6,790.63 1503.3,791.12 1504,790.88 1504.7,790.74 1505.4,790.43 1506.1,790.55 1506.8,790.41 1507.5,790.34 1508.2,790.32 1508.9,790.17 1509.6,790.39 1510.3,790.09 1511,789.97 1511.7,790.44 1512.4,790.56 1513.1,790.68 1513.8,790.36 1514.5,790.34 1515.2,790.4 1515.9,790.62 1516.6,790.2 1517.3,789.7 1518,789.33 1518.7,788.73 1519.4,788.41 1520.1,787.72 1520.8,787.45 1521.5,787.77 1522.2,788.33 1522.9,787.7 1523.6,788.13 1524.3,788.31 1525,788.1 1525.7,788.54 1526.4,788.16 1527.1,789.1 1527.8,789.58 1528.5,789.36 1529.2,788.85 1529.9,789.22 1530.6,789.2 1531.3,789.43 1532,789.49 1532.7,789.22 1533.4,789.11 1534.1,788.87 1534.8,789.07 1535.5,788.85 1536.2,788.77 1536.9,788.55 1537.6,788.77 1537.9,788.57" stroke="#ff0000"/>
<polyline points="1072.1,508.1 1072.8,514 1073.5,519.89 1074.2,525.79 1074.9,531.69 1075.6,537.39 1076.3,542.62 1077,547.86 1077.7,553.05 1078.4,558.11 1079.1,563.35 1079.8,567.92 1080.5,572.47 1081.2,576.73 1081.9,581.37 1082.6,585.92 1083.3,589.93 1084,594.29 1084.7,598.46 1085.4,602.34 1086.1,606.58 1086.8,610.01 1087.5,613.38 1088.2,616.8 1088.9,620.56 1089.6,623.79 1090.3,627.29 1091,630.29 1091.7,632.64 1092.4,635.07 1093.1,637.07 1093.8,639.83 1094.5,641.94 1095.2,644.49 1095.9,646.94 1096.6,648.41 1097.3,650.06 1098,651.15 1098.7,652.66 1099.4,653.85 1100.1,655.21 1100.8,656.21 1101.5,657.14 1102.2,658.09 1102.9,659.19 1103.6,660.89 1104.3,662.4 1105,664.18 1105.7,665.85 1106.4,667.66 1107.1,669.2 1107.8,670.79 1108.5,671.45 1109.2,672.7 1109.9,673.59 1110.6,674.4 1111.3,675.31 1112,676.38 1112.7,677.32 1113.4,678.29 1114.1,679.56 1114.8,680.46 1115.5,681.65 1116.2,682.95 1116.9,683.52 1117.6,684.07 1118.3,684.81 1119,685.44 1119.7,686.21 1120.4,686.8 1121.1,687.9 1121.8,688.68 1122.5,689.49 1123.2,690.37 1123.9,691.64 1124.6,692.25 1125.3,693.26 1126,694.26 1126.7,695.29 1127.4,696.53 1128.1,697.46 1128.8,698.45 1129.5,699.46 1130.2,700.3 1130.9,701.17 1131.6,702.66 1132.3,703.48 1133,704.09 1133.7,704.76 1134.4,705.1 1135.1,705.43 1135.8,705.75 1136.5,706.07 1137.2,707.12 1137.9,707.77 1138.6,708.59 1139.3,709.22 1140,709.86 1140.7,710.71 1141.4,711.4 1142.1,712.08 1142.8,712.83 1143.5,713.57 1144.2,714.3 1144.9,714.77 1145.6,715.43 1146.3,716.14 1147,716.27 1147.7,716.91 1148.4,717.1 1149.1,717.63 1149.8,718.63 1150.5,719.24 1151.2,719.75 1151.9,720.26 1152.6,720.83 1153.3,721.37 1154,721.95 1154.7,722.39 1155.4,722.77 1156.1,723.37 1156.8,724.2 1157.5,724.51 1158.2,725.22 1158.9,725.93 1159.6,726.31 1160.3,726.88 1161,727.71 1161.7,727.91 1162.4,728.1 1163.1,728.59 1163.8,728.98 1164.5,729.51 1165.2,730.17 1165.9,730.69 1166.6,730.81 1167.3,731.27 1168,731.71 1168.7,731.75 1169.4,732.08 1170.1,732.5 1170.8,732.56 1171.5,732.66 1172.2,732.96 1172.9,733.3 1173.6,733.19 1174.3,733.49 1175,733.78 1175.7,734.04 1176.4,734.3 1177.1,734.45 1177.8,734.73 1178.5,734.94 1179.2,734.99 1179.9,735.26 1180.6,735.38 1181.3,735.76 1182,735.96 1182.7,736.2 1183.4,736.21 1184.1,736.45 1184.8,736.35 1185.5,736.73 1186.2,736.64 1186.9,736.87 1187.6,736.95 1188.3,736.92 1189,737.11 1189.7,737.23 1190.4,737.41 1191.1,737.65 1191.8,737.86 1192.5,738.05 1193.2,737.84 1193.9,738.03 1194.6,738.1 1195.3,738.1 1196,738.15 1196.7,738.12 1197.4,738.57 1198.1,738.51 1198.8,738.7 1199.5,738.85 1200.2,739.18 1200.9,739.05 1201.6,739.27 1202.3,739.33 1203,739.33 1203.7,739.32 1204.4,739.52 1205.1,739.71 1205.8,739.61 1206.5,739.66 1207.2,739.82 1207.9,739.9 1208.6,740.11 1209.3,740.27 1210,740.15 1210.7,740.74 1211.4,740.61 1212.1,740.8 1212.8,740.64 1213.5,740.68 1214.2,740.81 1214.9,740.99 1215.6,741.1 1216.3,740.85 1217,741.28 1217.7,741.61 1218.4,741.57 1219.1,741.89 1219.8,742 1220.5,741.95 1221.2,742.22 1221.9,742.07 1222.6,742.22 1223.3,742.17 1224,742.23 1224.7,742.25 1225.4,742.35 1226.1,741.95 1226.8,741.97 1227.5,742.08 1228.2,742.17 1228.9,742.16 1229.6,742.28 1230.3,742.5 1231,742.76 1231.7,742.59 1232.4,742.65 1233.1,742.99 1233.8,743.3 1234.5,743.23 1235.2,743.71 1235.9,743.86 1236.6,743.89 1237.3,743.68 1238,743.62 1238.7,743.84 1239.4,743.79 1240.1,743.83 1240.8,743.76 1241.5,743.74 1242.2,744.41 1242.9,744.56 1243.6,744.59 1244.3,744.74 1245,744.78 1245.7,744.81 1246.4,744.68 1247.1,744.63 1247.8,744.56 1248.5,744.85 1249.2,744.85 1249.9,744.54 1250.6,745.09 1251.3,745.09 1252,745.11 1252.7,745.34 1253.4,745.39 1254.1,745.63 1254.8,745.76 1255.5,746.04 1256.2,745.97 1256.9,745.81 1257.6,745.9 1258.3,745.75 1259,745.94 1259.7,745.77 1260.4,745.63 1261.1,745.9 1261.8,746.17 1262.5,746.33 1263.2,746.28 1263.9,746.66 1264.6,746.8 1265.3,746.93 1266,747 1266.7,746.9 1267.4,746.81 1268.1,746.98 1268.8,747.22 1269.5,747.14 1270.2,747.52 1270.9,747.37 1271.6,747.46 1272.3,747.82 1273,747.87 1273.7,748.09 1274.4,748.17 1275.1,748.38 1275.8,748.46 1276.5,748.84 1277.2,748.72 1277.9,748.68 1278.6,748.81 1279.3,748.91 1280,748.8 1280.7,748.91 1281.4,748.94 1282.1,748.87 1282.8,748.87 1283.5,748.96 1284.2,749 1284.9,749.24 1285.6,749.29 1286.3,749.79 1287,750.1 1287.7,750.28 1288.4,750.64 1289.1,750.57 1289.8,750.47 1290.5,750.48 1291.2,750.67 1291.9,750.61 1292.6,750.57 1293.3,750.94 1294,751.04 1294.7,751.21 1295.4,751.37 1296.1,751.32 1296.8,751.56 1297.5,751.24 1298.2,751.33 1298.9,751.4 1299.6,751.32 1300.3,751.3 1301,751.46 1301.7,750.96 1302.4,751.05 1303.1,750.69 1303.8,750.82 1304.5,750.52 1305.2,750.76 1305.9,751.24 1306.6,751.49 1307.3,751.51 1308,751.37 1308.7,751.92 1309.4,751.92 1310.1,751.85 1310.8,752.03 1311.5,752 1312.2,752.23 1312.9,752.31 1313.6,752.41 1314.3,752.56 1315,752.46 1315.7,752.35 1316.4,752.58 1317.1,752.73 1317.8,753 1318.5,753.15 1319.2,753.36 1319.9,753.69 1320.6,753.63 1321.3,753.57 1322,753.74 1322.7,753.75 1323.4,753.9 1324.1,754.07 1324.8,754.13 1325.5,754.62 1326.2,755.02 1326.9,755.25 1327.6,755.54 1328.3,755.56 1329,755.46 1329.7,755.94 1330.4,755.77 1331.1,755.88 1331.8,755.88 1332.5,755.94 1333.2,756.31 1333.9,756.24 1334.6,756.41 1335.3,756.82 1336,756.68 1336.7,756.47 1337.4,756.45 1338.1,756.38 1338.8,755.99 1339.5,755.83 1340.2,755.76 1340.9,755.84 1341.6,755.89 1342.3,755.88 1343,755.76 1343.7,756.04 1344.4,756.15 1345.1,756 1345.8,756.4 1346.5,756.37 1347.2,756.51 1347.9,756.39 1348.6,756.67 1349.3,756.81 1350,757.08 1350.7,757.41 1351.4,757.54 1352.1,757.85 1352.8,757.92 1353.5,758.21 1354.2,758.29 1354.9,758.16 1355.6,758.7 1356.3,758.69 1357,758.7 1357.7,758.82 1358.4,759.26 1359.1,759.16 1359.8,759.31 1360.5,759.39 1361.2,759.35 1361.9,759.74 1362.6,759.9 1363.3,759.66 1364,759.99 1364.7,759.72 1365.4,759.91 1366.1,760 1366.8,760.05 1367.5,760.15 1368.2,760.17 1368.9,760.18 1369.6,760.13 1370.3,760.19 1371,760.1 1371.7,760.41 1372.4,760.22 1373.1,760.42 1373.8,760.35 1374.5,760.39 1375.2,760.45 1375.9,760.38 1376.6,760.82 1377.3,760.65 1378,760.65 1378.7,760.61 1379.4,760.85 1380.1,760.68 1380.8,760.87 1381.5,761.07 1382.2,761.52 1382.9,761.57 1383.6,761.72 1384.3,761.81 1385,762.03 1385.7,761.9 1386.4,761.82 1387.1,761.95 1387.8,761.95 1388.5,761.74 1389.2,762.02 1389.9,762.04 1390.6,761.92 1391.3,761.82 1392,762.14 1392.7,762.07 1393.4,762.21 1394.1,762.32 1394.8,762.44 1395.5,762.68 1396.2,762.55 1396.9,762.72 1397.6,762.78 1398.3,762.74 1399,762.68 1399.7,762.6 1400.4,762.55 1401.1,762.61 1401.8,762.56 1402.5,762.91 1403.2,762.75 1403.9,762.69 1404.6,763.03 1405.3,763.25 1406,763.25 1406.7,763.32 1407.4,763.36 1408.1,763.72 1408.8,763.74 1409.5,763.82 1410.2,764.09 1410.9,763.99 1411.6,764.49 1412.3,764.44 1413,764.87 1413.7,765 1414.4,765.36 1415.1,765.71 1415.8,765.68 1416.5,766.25 1417.2,766.29 1417.9,766.52 1418.6,766.71 1419.3,766.51 1420,766.78 1420.7,766.67 1421.4,766.78 1422.1,766.78 1422.8,767.14 1423.5,767.1 1424.2,767.11 1424.9,766.9 1425.6,766.77 1426.3,766.67 1427,766.43 1427.7,766.45 1428.4,766.37 1429.1,766.57 1429.8,766.96 1430.5,767.34 1431.2,767.19 1431.9,767.75 1432.6,767.76 1433.3,767.44 1434,767.31 1434.7,766.82 1435.4,766.7 1436.1,766.69 1436.8,766.63 1437.5,766.72 1438.2,766.86 1438.9,766.9 1439.6,766.98 1440.3,766.9 1441,766.8 1441.7,766.86 1442.4,766.52 1443.1,766.29 1443.8,766.29 1444.5,766.35 1445.2,766.41 1445.9,766.16 1446.6,766.01 1447.3,766.1 1448,766.02 1448.7,766.11 1449.4,766.03 1450.1,766.05 1450.8,766.02 1451.5,766 1452.2,765.86 1452.9,766.04 1453.6,766.34 1454.3,766.39 1455,766.52 1455.7,766.84 1456.4,767.02 1457.1,767.13 1457.8,767.1 1458.5,767.32 1459.2,767.21 1459.9,767.21 1460.6,767.31 1461.3,767.93 1462,767.92 1462.7,768.16 1463.4,768.57 1464.1,768.98 1464.8,769.08 1465.5,769.1 1466.2,769.35 1466.9,769.32 1467.6,769.53 1468.3,769.67 1469,769.7 1469.7,769.81 1470.4,769.81 1471.1,769.98 1471.8,769.89 1472.5,769.84 1473.2,770.04 1473.9,770.05 1474.6,770.21 1475.3,770.38 1476,770.68 1476.7,770.62 1477.4,770.67 1478.1,770.89 1478.8,771.02 1479.5,771.29 1480.2,771.4 1480.9,771.23 1481.6,771.2 1482.3,771.18 1483,771.21 1483.7,771.16 1484.4,771.3 1485.1,771.3 1485.8,771.6 1486.5,771.72 1487.2,771.78 1487.9,772.03 1488.6,772.49 1489.3,772.3 1490,772.61 1490.7,772.6 1491.4,772.8 1492.1,772.68 1492.8,772.89 1493.5,772.82 1494.2,772.81 1494.9,772.88 1495.6,773.16 1496.3,773.01 1497,773.32 1497.7,773.2 1498.4,773.38 1499.1,773.21 1499.8,773.51 1500.5,773.34 1501.2,773.11 1501.9,773.04 1502.6,773.14 1503.3,772.85 1504,773 1504.7,773.08 1505.4,773.04 1506.1,773.36 1506.8,773.46 1507.5,773.41 1508.2,773.5 1508.9,773.5 1509.6,773.43 1510.3,773.61 1511,773.41 1511.7,773.18 1512.4,773.47 1513.1,773.5 1513.8,773.54 1514.5,773.29 1515.2,773.58 1515.9,773.3 1516.6,773.56 1517.3,773.7 1518,773.78 1518.7,774.02 1519.4,773.97 1520.1,774.4 1520.8,774.27 1521.5,774.21 1522.2,774.62 1522.9,774.35 1523.6,774.21 1524.3,774.58 1525,774.56 1525.7,774.25 1526.4,774.15 1527.1,774.34 1527.8,774.17 1528.5,773.98 1529.2,773.99 1529.9,774.09 1530.6,774.24 1531.3,774.33 1532,774.12 1532.7,774.59 1533.4,774.48 1534.1,774.99 1534.8,775.15 1535.5,775.46 1536.2,775.59 1536.9,775.63 1537.6,775.82 1537.9,775.95" stroke="#0000ff"/>
<polyline points="1072.1,508.1 1072.8,510.01 1073.5,511.91 1074.2,513.82 1074.9,515.73 1075.6,517.64 1076.3,519.54 1077,521.45 1077.7,523.37 1078.4,525.28 1079.1,527.21 1079.8,529.66 1080.5,532.28 1081.2,534.69 1081.9,537.32 1082.6,539.75 1083.3,542.21 1084,544.68 1084.7,547.22 1085.4,549.67 1086.1,552.21 1086.8,554.82 1087.5,557.23 1088.2,559.62 1088.9,561.26 1089.6,563.02 1090.3,564.7 1091,566.47 1091.7,568.2 1092.4,569.88 1093.1,571.74 1093.8,573.38 1094.5,575.04 1095.2,576.7 1095.9,578.45 1096.6,580.1 1097.3,581.71 1098,583.28 1098.7,584.93 1099.4,586.27 1100.1,587.92 1100.8,589.33 1101.5,590.69 1102.2,592.24 1102.9,593.77 1103.6,595.26 1104.3,596.71 1105,598.38 1105.7,599.86 1106.4,601.35 1107.1,602.85 1107.8,604.49 1108.5,606 1109.2,607.65 1109.9,609.11 1110.6,610.78 1111.3,612.26 1112,613.85 1112.7,615.37 1113.4,616.97 1114.1,618.53 1114.8,619.99 1115.5,621.15 1116.2,622.42 1116.9,623.53 1117.6,624.74 1118.3,625.86 1119,626.98 1119.7,628.22 1120.4,629.22 1121.1,630.29 1121.8,631.36 1122.5,632.47 1123.2,633.46 1123.9,634.56 1124.6,635.37 1125.3,636.26 1126,637.19 1126.7,638.05 1127.4,638.85 1128.1,639.85 1128.8,640.55 1129.5,641.48 1130.2,642.3 1130.9,643.08 1131.6,644 1132.3,644.99 1133,645.63 1133.7,646.43 1134.4,646.86 1135.1,647.45 1135.8,648.08 1136.5,648.57 1137.2,649.06 1137.9,649.59 1138.6,650.11 1139.3,650.71 1140,651.19 1140.7,651.79 1141.4,652.25 1142.1,652.83 1142.8,653.44 1143.5,653.83 1144.2,654.3 1144.9,654.87 1145.6,655.34 1146.3,655.92 1147,656.3 1147.7,656.91 1148.4,657.3 1149.1,657.81 1149.8,658.33 1150.5,658.71 1151.2,659.02 1151.9,659.51 1152.6,659.96 1153.3,660.33 1154,660.82 1154.7,661.19 1155.4,661.73 1156.1,662.16 1156.8,662.6 1157.5,663.13 1158.2,663.72 1158.9,664.08 1159.6,664.48 1160.3,665.08 1161,665.52 1161.7,665.98 1162.4,666.55 1163.1,667.03 1163.8,667.49 1164.5,668.03 1165.2,668.43 1165.9,668.94 1166.6,669.49 1167.3,669.84 1168,670.35 1168.7,670.95 1169.4,671.37 1170.1,671.83 1170.8,672.22 1171.5,672.73 1172.2,673.22 1172.9,673.63 1173.6,674.18 1174.3,674.63 1175,675.12 1175.7,675.63 1176.4,676.17 1177.1,676.56 1177.8,677.01 1178.5,677.42 1179.2,677.75 1179.9,678.35 1180.6,678.76 1181.3,679.24 1182,679.68 1182.7,680.09 1183.4,680.71 1184.1,681.2 1184.8,681.64 1185.5,681.92 1186.2,682.5 1186.9,682.77 1187.6,683.18 1188.3,683.52 1189,683.87 1189.7,684.23 1190.4,684.6 1191.1,685.02 1191.8,685.43 1192.5,685.78 1193.2,686.15 1193.9,686.55 1194.6,686.96 1195.3,687.39 1196,687.77 1196.7,688.17 1197.4,688.59 1198.1,688.91 1198.8,689.25 1199.5,689.66 1200.2,690.04 1200.9,690.41 1201.6,690.78 1202.3,691.21 1203,691.55 1203.7,691.88 1204.4,692.32 1205.1,692.61 1205.8,693.03 1206.5,693.39 1207.2,693.72 1207.9,694.06 1208.6,694.35 1209.3,694.78 1210,695.17 1210.7,695.57 1211.4,695.86 1212.1,696.29 1212.8,696.61 1213.5,697.09 1214.2,697.48 1214.9,697.87 1215.6,698.35 1216.3,698.69 1217,698.98 1217.7,699.29 1218.4,699.63 1219.1,700.02 1219.8,700.36 1220.5,700.63 1221.2,701.01 1221.9,701.35 1222.6,701.77 1223.3,702.1 1224,702.42 1224.7,702.68 1225.4,703.05 1226.1,703.17 1226.8,703.41 1227.5,703.61 1228.2,704.14 1228.9,704.38 1229.6,704.82 1230.3,705.17 1231,705.56 1231.7,705.94 1232.4,706.21 1233.1,706.55 1233.8,706.93 1234.5,707.23 1235.2,707.48 1235.9,707.8 1236.6,708.08 1237.3,708.46 1238,708.72 1238.7,708.97 1239.4,709.32 1240.1,709.67 1240.8,710 1241.5,710.31 1242.2,710.66 1242.9,711.02 1243.6,711.26 1244.3,711.61 1245,712.03 1245.7,712.34 1246.4,712.55 1247.1,712.87 1247.8,713.21 1248.5,713.42 1249.2,713.65 1249.9,713.97 1250.6,714.26 1251.3,714.53 1252,714.65 1252.7,714.92 1253.4,715.22 1254.1,715.5 1254.8,715.74 1255.5,716.03 1256.2,716.34 1256.9,716.5 1257.6,716.68 1258.3,716.81 1259,717.08 1259.7,717.19 1260.4,717.38 1261.1,717.59 1261.8,717.72 1262.5,718.14 1263.2,718.25 1263.9,718.52 1264.6,718.84 1265.3,718.97 1266,719.18 1266.7,719.55 1267.4,719.78 1268.1,719.97 1268.8,720.3 1269.5,720.47 1270.2,720.65 1270.9,720.79 1271.6,721.09 1272.3,721.38 1273,721.53 1273.7,721.85 1274.4,722.13 1275.1,722.25 1275.8,722.46 1276.5,722.69 1277.2,722.99 1277.9,723.21 1278.6,723.53 1279.3,723.81 1280,724.05 1280.7,724.2 1281.4,724.53 1282.1,724.73 1282.8,725 1283.5,725.28 1284.2,725.43 1284.9,725.69 1285.6,725.97 1286.3,726.07 1287,726.32 1287.7,726.58 1288.4,726.77 1289.1,727.1 1289.8,727.27 1290.5,727.51 1291.2,727.88 1291.9,728.12 1292.6,728.35 1293.3,728.55 1294,728.73 1294.7,728.83 1295.4,728.95 1296.1,728.96 1296.8,729.19 1297.5,729.43 1298.2,729.6 1298.9,729.69 1299.6,729.99 1300.3,730.12 1301,730.36 1301.7,730.46 1302.4,730.71 1303.1,730.78 1303.8,730.92 1304.5,731.15 1305.2,731.39 1305.9,731.54 1306.6,731.59 1307.3,731.86 1308,732.05 1308.7,732.23 1309.4,732.31 1310.1,732.41 1310.8,732.42 1311.5,732.64 1312.2,732.66 1312.9,732.97 1313.6,733.18 1314.3,733.37 1315,733.59 1315.7,733.86 1316.4,734.07 1317.1,734.13 1317.8,734.29 1318.5,734.42 1319.2,734.5 1319.9,734.71 1320.6,734.76 1321.3,734.9 1322,735.01 1322.7,735.33 1323.4,735.48 1324.1,735.6 1324.8,735.78 1325.5,735.91 1326.2,736.11 1326.9,736.22 1327.6,736.36 1328.3,736.45 1329,736.53 1329.7,736.59 1330.4,736.86 1331.1,736.89 1331.8,737.09 1332.5,737.2 1333.2,737.34 1333.9,737.29 1334.6,737.41 1335.3,737.52 1336,737.52 1336.7,737.65 1337.4,737.84 1338.1,738.05 1338.8,738.14 1339.5,738.27 1340.2,738.3 1340.9,738.45 1341.6,738.55 1342.3,738.5 1343,738.64 1343.7,738.7 1344.4,738.82 1345.1,738.79 1345.8,739 1346.5,739.06 1347.2,739.14 1347.9,739.14 1348.6,739.27 1349.3,739.5 1350,739.71 1350.7,739.85 1351.4,740.02 1352.1,740.05 1352.8,740.24 1353.5,740.4 1354.2,740.35 1354.9,740.56 1355.6,740.58 1356.3,740.75 1357,740.86 1357.7,740.89 1358.4,741.04 1359.1,741.28 1359.8,741.32 1360.5,741.4 1361.2,741.34 1361.9,741.35 1362.6,741.27 1363.3,741.28 1364,741.23 1364.7,741.37 1365.4,741.39 1366.1,741.57 1366.8,741.69 1367.5,741.63 1368.2,741.77 1368.9,741.83 1369.6,741.93 1370.3,741.92 1371,741.89 1371.7,741.83 1372.4,742 1373.1,741.99 1373.8,742.08 1374.5,742.15 1375.2,742.11 1375.9,742.29 1376.6,742.33 1377.3,742.35 1378,742.4 1378.7,742.42 1379.4,742.37 1380.1,742.46 1380.8,742.58 1381.5,742.56 1382.2,742.63 1382.9,742.69 1383.6,742.73 1384.3,742.78 1385,742.83 1385.7,742.84 1386.4,742.82 1387.1,742.91 1387.8,743.01 1388.5,742.99 1389.2,743.13 1389.9,743.21 1390.6,743.23 1391.3,743.22 1392,743.44 1392.7,743.38 1393.4,743.35 1394.1,743.38 1394.8,743.26 1395.5,743.28 1396.2,743.24 1396.9,743.27 1397.6,743.38 1398.3,743.21 1399,743.38 1399.7,743.35 1400.4,743.39 1401.1,743.44 1401.8,743.54 1402.5,743.61 1403.2,743.63 1403.9,743.82 1404.6,743.77 1405.3,743.86 1406,743.87 1406.7,744.01 1407.4,744.08 1408.1,744.18 1408.8,744.13 1409.5,744.02 1410.2,744.09 1410.9,743.96 1411.6,744 1412.3,743.99 1413,743.9 1413.7,743.89 1414.4,743.99 1415.1,744.06 1415.8,744.03 1416.5,744.08 1417.2,744.07 1417.9,744.1 1418.6,744.15 1419.3,744.08 1420,744.04 1420.7,744.13 1421.4,744.13 1422.1,744.13 1422.8,744.21 1423.5,744.28 1424.2,744.19 1424.9,744.27 1425.6,744.45 1426.3,744.42 1427,744.51 1427.7,744.65 1428.4,744.68 1429.1,744.64 1429.8,744.65 1430.5,744.49 1431.2,744.65 1431.9,744.64 1432.6,744.56 1433.3,744.65 1434,744.68 1434.7,744.67 1435.4,744.73 1436.1,744.75 1436.8,744.7 1437.5,744.69 1438.2,744.64 1438.9,744.76 1439.6,744.67 1440.3,744.72 1441,744.79 1441.7,744.75 1442.4,744.66 1443.1,744.73 1443.8,744.7 1444.5,744.65 1445.2,744.69 1445.9,744.75 1446.6,744.73 1447.3,744.7 1448,744.71 1448.7,744.64 1449.4,744.66 1450.1,744.7 1450.8,744.75 1451.5,744.69 1452.2,744.71 1452.9,744.78 1453.6,744.89 1454.3,744.8 1455,744.94 1455.7,744.96 1456.4,745 1457.1,745.08 1457.8,745.03 1458.5,745.2 1459.2,745.25 1459.9,745.26 1460.6,745.36 1461.3,745.27 1462,745.22 1462.7,745.24 1463.4,745.11 1464.1,745.08 1464.8,745.22 1465.5,745.28 1466.2,745.4 1466.9,745.34 1467.6,745.34 1468.3,745.38 1469,745.37 1469.7,745.42 1470.4,745.38 1471.1,745.34 1471.8,745.31 1472.5,745.34 1473.2,745.39 1473.9,745.51 1474.6,745.52 1475.3,745.6 1476,745.61 1476.7,745.67 1477.4,745.75 1478.1,745.78 1478.8,745.9 1479.5,745.94 1480.2,746.03 1480.9,745.93 1481.6,745.86 1482.3,746 1483,745.85 1483.7,745.87 1484.4,745.83 1485.1,745.86 1485.8,745.96 1486.5,745.92 1487.2,746.01 1487.9,746.13 1488.6,746.07 1489.3,746.09 1490,746.08 1490.7,746.05 1491.4,746.02 1492.1,746.03 1492.8,746.03 1493.5,746.18 1494.2,746.17 1494.9,746.26 1495.6,746.34 1496.3,746.33 1497,746.24 1497.7,746.31 1498.4,746.26 1499.1,746.21 1499.8,746.24 1500.5,746.14 1501.2,746.23 1501.9,746.21 1502.6,746.34 1503.3,746.3 1504,746.52 1504.7,746.37 1505.4,746.4 1506.1,746.45 1506.8,746.3 1507.5,746.47 1508.2,746.36 1508.9,746.44 1509.6,746.51 1510.3,746.49 1511,746.56 1511.7,746.51 1512.4,746.59 1513.1,746.47 1513.8,746.68 1514.5,746.58 1515.2,746.59 1515.9,746.65 1516.6,746.78 1517.3,746.69 1518,746.76 1518.7,746.78 1519.4,746.79 1520.1,746.81 1520.8,746.91 1521.5,746.92 1522.2,746.85 1522.9,746.91 1523.6,746.92 1524.3,746.93 1525,746.92 1525.7,746.95 1526.4,746.99 1527.1,746.94 1527.8,747.01 1528.5,747.06 1529.2,746.99 1529.9,747.09 1530.6,747.01 1531.3,746.96 1532,747 1532.7,746.94 1533.4,747.02 1534.1,746.89 1534.8,746.96 1535.5,746.93 1536.2,746.92 1536.9,747.03 1537.6,747.09 1537.9,747.08" stroke="#00ff00"/>
</g>
<path d="M1072.1,839.2v-4.6M1072.1,482.4v4.6M1149.67,839.2v-4.6M1149.67,482.4v4.6M1227.23,839.2v-4.6M1227.23,482.4v4.6M1304.8,839.2v-4.6M1304.8,482.4v4.6M1382.37,839.2v-4.6M1382.37,482.4v4.6M1459.93,839.2v-4.6M1459.93,482.4v4.6M1537.5,839.2v-4.6M1537.5,482.4v4.6M1072.1,482.4h4.6M1537.5,482.4h-4.6M1072.1,571.6h4.6M1537.5,571.6h-4.6M1072.1,544.75h2.76M1537.5,544.75h-2.76M1072.1,529.04h2.76M1537.5,529.04h-2.76M1072.1,517.9h2.76M1537.5,517.9h-2.76M1072.1,509.25h2.76M1537.5,509.25h-2.76M1072.1,502.19h2.76M1537.5,502.19h-2.76M1072.1,496.22h2.76M1537.5,496.22h-2.76M1072.1,491.04h2.76M1537.5,491.04h-2.76M1072.1,486.48h2.76M1537.5,486.48h-2.76M1072.1,660.8h4.6M1537.5,660.8h-4.6M1072.1,633.95h2.76M1537.5,633.95h-2.76M1072.1,618.24h2.76M1537.5,618.24h-2.76M1072.1,607.1h2.76M1537.5,607.1h-2.76M1072.1,598.45h2.76M1537.5,598.45h-2.76M1072.1,591.39h2.76M1537.5,591.39h-2.76M1072.1,585.42h2.76M1537.5,585.42h-2.76M1072.1,580.24h2.76M1537.5,580.24h-2.76M1072.1,575.68h2.76M1537.5,575.68h-2.76M1072.1,750h4.6M1537.5,750h-4.6M1072.1,723.15h2.76M1537.5,723.15h-2.76M1072.1,707.44h2.76M1537.5,707.44h-2.76M1072.1,696.3h2.76M1537.5,696.3h-2.76M1072.1,687.65h2.76M1537.5,687.65h-2.76M1072.1,680.59h2.76M1537.5,680.59h-2.76M1072.1,674.62h2.76M1537.5,674.62h-2.76M1072.1,669.44h2.76M1537.5,669.44h-2.76M1072.1,664.88h2.76M1537.5,664.88h-2.76M1072.1,839.2h4.6M1537.5,839.2h-4.6M1072.1,812.35h2.76M1537.5,812.35h-2.76M1072.1,796.64h2.76M1537.5,796.64h-2.76M1072.1,785.5h2.76M1537.5,785.5h-2.76M1072.1,776.85h2.76M1537.5,776.85h-2.76M1072.1,769.79h2.76M1537.5,769.79h-2.76M1072.1,763.82h2.76M1537.5,763.82h-2.76M1072.1,758.64h2.76M1537.5,758.64h-2.76M1072.1,754.08h2.76M1537.5,754.08h-2.76" stroke="#7a7a7a" stroke-width="1" fill="none"/>
<rect x="1072.1" y="482.4" width="465.4" height="356.8" fill="none" stroke="#7a7a7a" stroke-width="1"/>
<text x="1065.1" y="490.9" text-anchor="end" class="tl">10<tspan dy="-7.6" font-size="11.5">0</tspan></text>
<text x="1065.1" y="580.1" text-anchor="end" class="tl">10<tspan dy="-7.6" font-size="11.5">-1</tspan></text>
<text x="1065.1" y="669.3" text-anchor="end" class="tl">10<tspan dy="-7.6" font-size="11.5">-2</tspan></text>
<text x="1065.1" y="758.5" text-anchor="end" class="tl">10<tspan dy="-7.6" font-size="11.5">-3</tspan></text>
<text x="1065.1" y="847.7" text-anchor="end" class="tl">10<tspan dy="-7.6" font-size="11.5">-4</tspan></text>
<text x="1072.1" y="859.6" text-anchor="middle" class="tl">0</text>
<text x="1149.67" y="859.6" text-anchor="middle" class="tl">1</text>
<text x="1227.23" y="859.6" text-anchor="middle" class="tl">2</text>
<text x="1304.8" y="859.6" text-anchor="middle" class="tl">3</text>
<text x="1382.37" y="859.6" text-anchor="middle" class="tl">4</text>
<text x="1459.93" y="859.6" text-anchor="middle" class="tl">5</text>
<text x="1537.5" y="859.6" text-anchor="middle" class="tl">6</text>
<text x="1503.9" y="883.8" class="tl" style="font-size:17px">×</text>
<text x="1515.7" y="883.8" class="tl">10<tspan x="1530.9" dy="-8.3" font-size="11.5">4</tspan></text>
<text transform="translate(1150.4,464.4) scale(1.081,1)" class="tt">relative noise level</text>
<text x="1361.4" y="464.4" class="dl tt2" style="font-size:23.5px">δ</text>
<text transform="translate(1372.9,475.2) scale(1.1,1)" class="tt" style="font-size:16px">rel</text>
<text transform="translate(1401.2,464.4) scale(1.1,1)" class="tt">=0.01</text>
<rect x="1409.6" y="493.7" width="116" height="95.2" fill="#fff" stroke="#7a7a7a" stroke-width="1"/>
<path d="M1413.6,511.9h42.7" stroke="#ff0000" stroke-width="1.5"/>
<text x="1460" y="515.6" class="mu">μ</text>
<text x="1470.6" y="522.6" class="lg" style="font-size:12px">0</text>
<text x="1483.4" y="514.4" class="lg">=</text>
<text x="1497.4" y="515.6" class="lg">2.0</text>
<path d="M1413.6,541.9h42.7" stroke="#0000ff" stroke-width="1.5"/>
<text x="1460" y="545.6" class="mu">μ</text>
<text x="1470.6" y="552.6" class="lg" style="font-size:12px">0</text>
<text x="1483.4" y="544.4" class="lg">=</text>
<text x="1497.4" y="545.6" class="lg">1.0</text>
<path d="M1413.6,571.9h42.7" stroke="#00ff00" stroke-width="1.5"/>
<text x="1460" y="575.6" class="mu">μ</text>
<text x="1470.6" y="582.6" class="lg" style="font-size:12px">0</text>
<text x="1483.4" y="574.4" class="lg">=</text>
<text x="1497.4" y="575.6" class="lg">0.4</text>
</svg>
</body></html>
